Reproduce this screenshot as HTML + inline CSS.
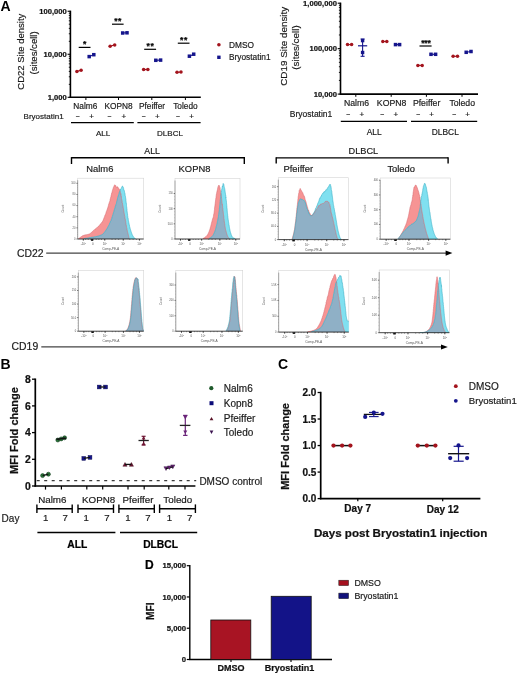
<!DOCTYPE html>
<html><head><meta charset="utf-8"><title>Figure</title>
<style>html,body{margin:0;padding:0;background:#fff;}body{width:520px;height:674px;overflow:hidden;}svg{display:block;}</style>
</head><body>
<svg width="520" height="674" viewBox="0 0 520 674" font-family='"Liberation Sans", Arial, Helvetica, sans-serif'>
<rect x="0" y="0" width="520" height="674" fill="#ffffff"/>
<text x="0.6" y="10.8" font-size="14" font-weight="bold" fill="#000">A</text>
<line x1="70.4" y1="10.65" x2="70.4" y2="98" stroke="#000" stroke-width="1.6"/>
<line x1="67.6" y1="97.3" x2="70.4" y2="97.3" stroke="#000" stroke-width="1.1"/>
<text x="66.8" y="99.9" font-size="7.6" text-anchor="end" font-weight="bold" fill="#111" stroke="#111" stroke-width="0.22">1,000</text>
<line x1="68.8" y1="84.35" x2="70.4" y2="84.35" stroke="#000" stroke-width="0.9"/>
<line x1="68.8" y1="76.77" x2="70.4" y2="76.77" stroke="#000" stroke-width="0.9"/>
<line x1="68.8" y1="71.4" x2="70.4" y2="71.4" stroke="#000" stroke-width="0.9"/>
<line x1="68.8" y1="67.23" x2="70.4" y2="67.23" stroke="#000" stroke-width="0.9"/>
<line x1="68.8" y1="63.82" x2="70.4" y2="63.82" stroke="#000" stroke-width="0.9"/>
<line x1="68.8" y1="60.94" x2="70.4" y2="60.94" stroke="#000" stroke-width="0.9"/>
<line x1="68.8" y1="58.44" x2="70.4" y2="58.44" stroke="#000" stroke-width="0.9"/>
<line x1="68.8" y1="56.24" x2="70.4" y2="56.24" stroke="#000" stroke-width="0.9"/>
<line x1="67.6" y1="54.27" x2="70.4" y2="54.27" stroke="#000" stroke-width="1.1"/>
<text x="66.8" y="56.88" font-size="7.6" text-anchor="end" font-weight="bold" fill="#111" stroke="#111" stroke-width="0.22">10,000</text>
<line x1="68.8" y1="41.32" x2="70.4" y2="41.32" stroke="#000" stroke-width="0.9"/>
<line x1="68.8" y1="33.75" x2="70.4" y2="33.75" stroke="#000" stroke-width="0.9"/>
<line x1="68.8" y1="28.37" x2="70.4" y2="28.37" stroke="#000" stroke-width="0.9"/>
<line x1="68.8" y1="24.2" x2="70.4" y2="24.2" stroke="#000" stroke-width="0.9"/>
<line x1="68.8" y1="20.8" x2="70.4" y2="20.8" stroke="#000" stroke-width="0.9"/>
<line x1="68.8" y1="17.91" x2="70.4" y2="17.91" stroke="#000" stroke-width="0.9"/>
<line x1="68.8" y1="15.42" x2="70.4" y2="15.42" stroke="#000" stroke-width="0.9"/>
<line x1="68.8" y1="13.22" x2="70.4" y2="13.22" stroke="#000" stroke-width="0.9"/>
<line x1="67.6" y1="11.25" x2="70.4" y2="11.25" stroke="#000" stroke-width="1.1"/>
<text x="66.8" y="13.85" font-size="7.6" text-anchor="end" font-weight="bold" fill="#111" stroke="#111" stroke-width="0.22">100,000</text>
<line x1="69.6" y1="97.3" x2="200.8" y2="97.3" stroke="#000" stroke-width="1.6"/>
<line x1="85.9" y1="97.3" x2="85.9" y2="100" stroke="#000" stroke-width="1"/>
<line x1="118.5" y1="97.3" x2="118.5" y2="100" stroke="#000" stroke-width="1"/>
<line x1="151.8" y1="97.3" x2="151.8" y2="100" stroke="#000" stroke-width="1"/>
<line x1="185.4" y1="97.3" x2="185.4" y2="100" stroke="#000" stroke-width="1"/>
<text x="85.3" y="108.7" font-size="8.3" text-anchor="middle" fill="#1a1a1a" stroke="#1a1a1a" stroke-width="0.18">Nalm6</text>
<text x="118.5" y="108.7" font-size="8.3" text-anchor="middle" fill="#1a1a1a" stroke="#1a1a1a" stroke-width="0.18">KOPN8</text>
<text x="152" y="108.7" font-size="8.3" text-anchor="middle" fill="#1a1a1a" stroke="#1a1a1a" stroke-width="0.18">Pfeiffer</text>
<text x="185.4" y="108.7" font-size="8.3" text-anchor="middle" fill="#1a1a1a" stroke="#1a1a1a" stroke-width="0.18">Toledo</text>
<text x="23.6" y="118.6" font-size="8" fill="#1a1a1a" stroke="#1a1a1a" stroke-width="0.18">Bryostatin1</text>
<text x="77.7" y="117.9" font-size="6.2" text-anchor="middle" fill="#1a1a1a" stroke="#1a1a1a" stroke-width="0.18">&#8211;</text>
<text x="91.5" y="118.9" font-size="8" text-anchor="middle" fill="#1a1a1a" stroke="#1a1a1a" stroke-width="0.18">+</text>
<text x="109.6" y="117.9" font-size="6.2" text-anchor="middle" fill="#1a1a1a" stroke="#1a1a1a" stroke-width="0.18">&#8211;</text>
<text x="123.8" y="118.9" font-size="8" text-anchor="middle" fill="#1a1a1a" stroke="#1a1a1a" stroke-width="0.18">+</text>
<text x="143.8" y="117.9" font-size="6.2" text-anchor="middle" fill="#1a1a1a" stroke="#1a1a1a" stroke-width="0.18">&#8211;</text>
<text x="157.4" y="118.9" font-size="8" text-anchor="middle" fill="#1a1a1a" stroke="#1a1a1a" stroke-width="0.18">+</text>
<text x="178" y="117.9" font-size="6.2" text-anchor="middle" fill="#1a1a1a" stroke="#1a1a1a" stroke-width="0.18">&#8211;</text>
<text x="191.5" y="118.9" font-size="8" text-anchor="middle" fill="#1a1a1a" stroke="#1a1a1a" stroke-width="0.18">+</text>
<line x1="71" y1="122.7" x2="133.8" y2="122.7" stroke="#000" stroke-width="1.3"/>
<line x1="137.4" y1="122.7" x2="200.6" y2="122.7" stroke="#000" stroke-width="1.3"/>
<text x="103.1" y="135.7" font-size="8" text-anchor="middle" fill="#1a1a1a" stroke="#1a1a1a" stroke-width="0.18">ALL</text>
<text x="170" y="135.7" font-size="8" text-anchor="middle" fill="#1a1a1a" stroke="#1a1a1a" stroke-width="0.18">DLBCL</text>
<text x="24.2" y="51.7" font-size="9.5" text-anchor="middle" fill="#1a1a1a" stroke="#1a1a1a" stroke-width="0.18" transform="rotate(-90 24.2 51.7)">CD22 Site density</text>
<text x="37" y="52.9" font-size="9.6" text-anchor="middle" fill="#1a1a1a" stroke="#1a1a1a" stroke-width="0.18" transform="rotate(-90 37 52.9)">(sites/cell)</text>
<line x1="76.9" y1="71.4" x2="81.1" y2="70.3" stroke="#a3141d" stroke-width="1.1"/>
<circle cx="76.9" cy="71.4" r="1.75" fill="#a3141d"/>
<circle cx="81.1" cy="70.3" r="1.75" fill="#a3141d"/>
<line x1="89.2" y1="56.6" x2="93.8" y2="54.7" stroke="#15158c" stroke-width="1.1"/>
<rect x="87.45" y="54.85" width="3.5" height="3.5" fill="#15158c"/>
<rect x="92.05" y="52.95" width="3.5" height="3.5" fill="#15158c"/>
<line x1="110.1" y1="46.3" x2="114.7" y2="44.9" stroke="#a3141d" stroke-width="1.1"/>
<circle cx="110.1" cy="46.3" r="1.75" fill="#a3141d"/>
<circle cx="114.7" cy="44.9" r="1.75" fill="#a3141d"/>
<line x1="122.7" y1="33" x2="127" y2="32.8" stroke="#15158c" stroke-width="1.1"/>
<rect x="120.95" y="31.25" width="3.5" height="3.5" fill="#15158c"/>
<rect x="125.25" y="31.05" width="3.5" height="3.5" fill="#15158c"/>
<line x1="143.6" y1="69.6" x2="147.9" y2="69.4" stroke="#a3141d" stroke-width="1.1"/>
<circle cx="143.6" cy="69.6" r="1.75" fill="#a3141d"/>
<circle cx="147.9" cy="69.4" r="1.75" fill="#a3141d"/>
<line x1="155.8" y1="60.3" x2="160.6" y2="60.1" stroke="#15158c" stroke-width="1.1"/>
<rect x="154.05" y="58.55" width="3.5" height="3.5" fill="#15158c"/>
<rect x="158.85" y="58.35" width="3.5" height="3.5" fill="#15158c"/>
<line x1="177" y1="72.3" x2="181" y2="72.1" stroke="#a3141d" stroke-width="1.1"/>
<circle cx="177" cy="72.3" r="1.75" fill="#a3141d"/>
<circle cx="181" cy="72.1" r="1.75" fill="#a3141d"/>
<line x1="189.4" y1="56.2" x2="193.7" y2="54.2" stroke="#15158c" stroke-width="1.1"/>
<rect x="187.65" y="54.45" width="3.5" height="3.5" fill="#15158c"/>
<rect x="191.95" y="52.45" width="3.5" height="3.5" fill="#15158c"/>
<line x1="78.7" y1="47.4" x2="90.5" y2="47.4" stroke="#000" stroke-width="1.2"/>
<text x="84.9" y="47.1" font-size="8.6" text-anchor="middle" font-weight="bold" fill="#000" stroke="#000" stroke-width="0.22" letter-spacing="0.6">*</text>
<line x1="112" y1="24.2" x2="123.6" y2="24.2" stroke="#000" stroke-width="1.2"/>
<text x="118.1" y="23.9" font-size="8.6" text-anchor="middle" font-weight="bold" fill="#000" stroke="#000" stroke-width="0.22" letter-spacing="0.6">**</text>
<line x1="144.2" y1="49.3" x2="156.1" y2="49.3" stroke="#000" stroke-width="1.2"/>
<text x="150.45" y="49" font-size="8.6" text-anchor="middle" font-weight="bold" fill="#000" stroke="#000" stroke-width="0.22" letter-spacing="0.6">**</text>
<line x1="177.8" y1="43.2" x2="189.5" y2="43.2" stroke="#000" stroke-width="1.2"/>
<text x="183.95" y="42.9" font-size="8.6" text-anchor="middle" font-weight="bold" fill="#000" stroke="#000" stroke-width="0.22" letter-spacing="0.6">**</text>
<circle cx="218.9" cy="44.8" r="1.8" fill="#a3141d"/>
<rect x="217.20" y="55.60" width="3.4" height="3.4" fill="#15158c"/>
<text x="229" y="48.3" font-size="8.3" fill="#1a1a1a" stroke="#1a1a1a" stroke-width="0.18">DMSO</text>
<text x="229" y="60" font-size="8.3" fill="#1a1a1a" stroke="#1a1a1a" stroke-width="0.18">Bryostatin1</text>
<line x1="340.5" y1="2.6" x2="340.5" y2="94.8" stroke="#000" stroke-width="1.6"/>
<line x1="337.7" y1="94.1" x2="340.5" y2="94.1" stroke="#000" stroke-width="1.1"/>
<text x="336.9" y="96.7" font-size="7.6" text-anchor="end" font-weight="bold" fill="#111" stroke="#111" stroke-width="0.22">10,000</text>
<line x1="338.9" y1="80.42" x2="340.5" y2="80.42" stroke="#000" stroke-width="0.9"/>
<line x1="338.9" y1="72.41" x2="340.5" y2="72.41" stroke="#000" stroke-width="0.9"/>
<line x1="338.9" y1="66.74" x2="340.5" y2="66.74" stroke="#000" stroke-width="0.9"/>
<line x1="338.9" y1="62.33" x2="340.5" y2="62.33" stroke="#000" stroke-width="0.9"/>
<line x1="338.9" y1="58.73" x2="340.5" y2="58.73" stroke="#000" stroke-width="0.9"/>
<line x1="338.9" y1="55.69" x2="340.5" y2="55.69" stroke="#000" stroke-width="0.9"/>
<line x1="338.9" y1="53.05" x2="340.5" y2="53.05" stroke="#000" stroke-width="0.9"/>
<line x1="338.9" y1="50.73" x2="340.5" y2="50.73" stroke="#000" stroke-width="0.9"/>
<line x1="337.7" y1="48.65" x2="340.5" y2="48.65" stroke="#000" stroke-width="1.1"/>
<text x="336.9" y="51.25" font-size="7.6" text-anchor="end" font-weight="bold" fill="#111" stroke="#111" stroke-width="0.22">100,000</text>
<line x1="338.9" y1="34.97" x2="340.5" y2="34.97" stroke="#000" stroke-width="0.9"/>
<line x1="338.9" y1="26.96" x2="340.5" y2="26.96" stroke="#000" stroke-width="0.9"/>
<line x1="338.9" y1="21.29" x2="340.5" y2="21.29" stroke="#000" stroke-width="0.9"/>
<line x1="338.9" y1="16.88" x2="340.5" y2="16.88" stroke="#000" stroke-width="0.9"/>
<line x1="338.9" y1="13.28" x2="340.5" y2="13.28" stroke="#000" stroke-width="0.9"/>
<line x1="338.9" y1="10.24" x2="340.5" y2="10.24" stroke="#000" stroke-width="0.9"/>
<line x1="338.9" y1="7.6" x2="340.5" y2="7.6" stroke="#000" stroke-width="0.9"/>
<line x1="338.9" y1="5.28" x2="340.5" y2="5.28" stroke="#000" stroke-width="0.9"/>
<line x1="337.7" y1="3.2" x2="340.5" y2="3.2" stroke="#000" stroke-width="1.1"/>
<text x="336.9" y="5.8" font-size="7.6" text-anchor="end" font-weight="bold" fill="#111" stroke="#111" stroke-width="0.22">1,000,000</text>
<line x1="339.7" y1="94.1" x2="478" y2="94.1" stroke="#000" stroke-width="1.6"/>
<line x1="355.8" y1="94.1" x2="355.8" y2="96.8" stroke="#000" stroke-width="1"/>
<line x1="391.2" y1="94.1" x2="391.2" y2="96.8" stroke="#000" stroke-width="1"/>
<line x1="426.4" y1="94.1" x2="426.4" y2="96.8" stroke="#000" stroke-width="1"/>
<line x1="462" y1="94.1" x2="462" y2="96.8" stroke="#000" stroke-width="1"/>
<text x="356.5" y="106.1" font-size="8.7" text-anchor="middle" fill="#1a1a1a" stroke="#1a1a1a" stroke-width="0.18">Nalm6</text>
<text x="391.6" y="106.1" font-size="8.7" text-anchor="middle" fill="#1a1a1a" stroke="#1a1a1a" stroke-width="0.18">KOPN8</text>
<text x="426.6" y="106.1" font-size="8.7" text-anchor="middle" fill="#1a1a1a" stroke="#1a1a1a" stroke-width="0.18">Pfeiffer</text>
<text x="462.2" y="106.1" font-size="8.7" text-anchor="middle" fill="#1a1a1a" stroke="#1a1a1a" stroke-width="0.18">Toledo</text>
<text x="289.8" y="117.4" font-size="8.5" fill="#1a1a1a" stroke="#1a1a1a" stroke-width="0.18">Bryostatin1</text>
<text x="348.3" y="115.9" font-size="6.2" text-anchor="middle" fill="#1a1a1a" stroke="#1a1a1a" stroke-width="0.18">&#8211;</text>
<text x="361.8" y="116.9" font-size="8" text-anchor="middle" fill="#1a1a1a" stroke="#1a1a1a" stroke-width="0.18">+</text>
<text x="382.3" y="115.9" font-size="6.2" text-anchor="middle" fill="#1a1a1a" stroke="#1a1a1a" stroke-width="0.18">&#8211;</text>
<text x="395.8" y="116.9" font-size="8" text-anchor="middle" fill="#1a1a1a" stroke="#1a1a1a" stroke-width="0.18">+</text>
<text x="418.2" y="115.9" font-size="6.2" text-anchor="middle" fill="#1a1a1a" stroke="#1a1a1a" stroke-width="0.18">&#8211;</text>
<text x="431.5" y="116.9" font-size="8" text-anchor="middle" fill="#1a1a1a" stroke="#1a1a1a" stroke-width="0.18">+</text>
<text x="454.2" y="115.9" font-size="6.2" text-anchor="middle" fill="#1a1a1a" stroke="#1a1a1a" stroke-width="0.18">&#8211;</text>
<text x="467.7" y="116.9" font-size="8" text-anchor="middle" fill="#1a1a1a" stroke="#1a1a1a" stroke-width="0.18">+</text>
<line x1="340.8" y1="121.3" x2="407" y2="121.3" stroke="#000" stroke-width="1.3"/>
<line x1="411" y1="121.3" x2="477.2" y2="121.3" stroke="#000" stroke-width="1.3"/>
<text x="374.2" y="134.5" font-size="8.4" text-anchor="middle" fill="#1a1a1a" stroke="#1a1a1a" stroke-width="0.18">ALL</text>
<text x="445.3" y="134.5" font-size="8.4" text-anchor="middle" fill="#1a1a1a" stroke="#1a1a1a" stroke-width="0.18">DLBCL</text>
<text x="287.4" y="46.3" font-size="9.9" text-anchor="middle" fill="#1a1a1a" stroke="#1a1a1a" stroke-width="0.18" transform="rotate(-90 287.4 46.3)">CD19 Site density</text>
<text x="299.4" y="47.5" font-size="9.9" text-anchor="middle" fill="#1a1a1a" stroke="#1a1a1a" stroke-width="0.18" transform="rotate(-90 299.4 47.5)">(sites/cell)</text>
<line x1="347.5" y1="44.6" x2="351.6" y2="44.6" stroke="#a3141d" stroke-width="1.1"/>
<circle cx="347.5" cy="44.6" r="1.75" fill="#a3141d"/>
<circle cx="351.6" cy="44.6" r="1.75" fill="#a3141d"/>
<line x1="362.6" y1="39" x2="362.6" y2="56.3" stroke="#15158c" stroke-width="1.1"/>
<line x1="360.6" y1="39" x2="364.6" y2="39" stroke="#15158c" stroke-width="1.1"/>
<line x1="360.6" y1="56.3" x2="364.6" y2="56.3" stroke="#15158c" stroke-width="1.1"/>
<line x1="358" y1="45.8" x2="367.2" y2="45.8" stroke="#15158c" stroke-width="1.2"/>
<rect x="360.90" y="38.90" width="3.4" height="3.4" fill="#15158c"/>
<rect x="360.90" y="50.80" width="3.4" height="3.4" fill="#15158c"/>
<line x1="382.8" y1="41.5" x2="386.8" y2="41.5" stroke="#a3141d" stroke-width="1.1"/>
<circle cx="382.8" cy="41.5" r="1.75" fill="#a3141d"/>
<circle cx="386.8" cy="41.5" r="1.75" fill="#a3141d"/>
<line x1="395.5" y1="44.6" x2="399.6" y2="44.6" stroke="#15158c" stroke-width="1.1"/>
<rect x="393.75" y="42.85" width="3.5" height="3.5" fill="#15158c"/>
<rect x="397.85" y="42.85" width="3.5" height="3.5" fill="#15158c"/>
<line x1="417.9" y1="65.4" x2="422.2" y2="65.4" stroke="#a3141d" stroke-width="1.1"/>
<circle cx="417.9" cy="65.4" r="1.75" fill="#a3141d"/>
<circle cx="422.2" cy="65.4" r="1.75" fill="#a3141d"/>
<line x1="431" y1="54.3" x2="435.6" y2="54.3" stroke="#15158c" stroke-width="1.1"/>
<rect x="429.25" y="52.55" width="3.5" height="3.5" fill="#15158c"/>
<rect x="433.85" y="52.55" width="3.5" height="3.5" fill="#15158c"/>
<line x1="453.1" y1="56.3" x2="457.5" y2="56.3" stroke="#a3141d" stroke-width="1.1"/>
<circle cx="453.1" cy="56.3" r="1.75" fill="#a3141d"/>
<circle cx="457.5" cy="56.3" r="1.75" fill="#a3141d"/>
<line x1="466.2" y1="52.3" x2="471" y2="51.5" stroke="#15158c" stroke-width="1.1"/>
<rect x="464.45" y="50.55" width="3.5" height="3.5" fill="#15158c"/>
<rect x="469.25" y="49.75" width="3.5" height="3.5" fill="#15158c"/>
<line x1="419.5" y1="46" x2="431.6" y2="46" stroke="#000" stroke-width="1.2"/>
<text x="425.9" y="45.5" font-size="8.6" text-anchor="middle" font-weight="bold" fill="#000" stroke="#000" stroke-width="0.22" letter-spacing="-0.2">***</text>
<line x1="71.5" y1="157.8" x2="244.3" y2="157.8" stroke="#000" stroke-width="1.4"/>
<line x1="71.5" y1="157.1" x2="71.5" y2="164" stroke="#000" stroke-width="1.4"/>
<line x1="244.3" y1="157.1" x2="244.3" y2="164" stroke="#000" stroke-width="1.4"/>
<text x="152.2" y="153.6" font-size="8.8" text-anchor="middle" fill="#1a1a1a" stroke="#1a1a1a" stroke-width="0.18">ALL</text>
<line x1="276.2" y1="157.9" x2="448.1" y2="157.9" stroke="#000" stroke-width="1.4"/>
<line x1="276.2" y1="157.2" x2="276.2" y2="163.6" stroke="#000" stroke-width="1.4"/>
<line x1="448.1" y1="157.2" x2="448.1" y2="163.6" stroke="#000" stroke-width="1.4"/>
<text x="363.4" y="154.4" font-size="9.2" text-anchor="middle" fill="#1a1a1a" stroke="#1a1a1a" stroke-width="0.18">DLBCL</text>
<text x="86.3" y="172.4" font-size="9.4" fill="#1a1a1a" stroke="#1a1a1a" stroke-width="0.18">Nalm6</text>
<text x="178.6" y="172.4" font-size="9.4" fill="#1a1a1a" stroke="#1a1a1a" stroke-width="0.18">KOPN8</text>
<text x="283.5" y="172.4" font-size="9.4" fill="#1a1a1a" stroke="#1a1a1a" stroke-width="0.18">Pfeiffer</text>
<text x="387.4" y="172.4" font-size="9.4" fill="#1a1a1a" stroke="#1a1a1a" stroke-width="0.18">Toledo</text>
<rect x="77.7" y="178.2" width="66" height="60.8" fill="#fff" stroke="#d4d4d4" stroke-width="0.6"/>
<clipPath id="bx1"><rect x="77.7" y="178.2" width="66" height="60.8"/></clipPath>
<clipPath id="rc1"><path d="M78.70,239.00 L78.7,238.6 L79.2,238.2 L79.9,237.7 L80.8,237.0 L81.5,236.5 L82.1,236.1 L82.6,235.8 L83.2,235.6 L84.0,235.2 L84.6,235.1 L85.2,234.9 L85.9,234.8 L86.7,234.7 L87.4,234.5 L88.2,234.4 L88.9,234.1 L89.5,233.9 L90.2,233.4 L90.8,233.0 L91.3,232.6 L91.9,232.2 L92.4,231.5 L92.9,230.9 L93.5,230.4 L94.1,230.2 L94.7,229.4 L95.3,229.0 L95.9,228.5 L96.5,228.1 L97.0,227.5 L97.5,227.2 L98.1,226.6 L98.7,226.1 L99.2,225.8 L99.7,225.1 L100.2,224.3 L100.6,223.8 L101.0,223.7 L101.4,223.0 L101.8,222.3 L102.2,222.1 L102.6,221.2 L103.0,220.5 L103.3,220.1 L103.5,219.1 L103.8,218.4 L104.1,218.1 L104.3,216.9 L104.6,216.6 L104.9,215.4 L105.1,215.1 L105.4,214.5 L105.6,214.1 L105.9,213.3 L106.1,212.3 L106.4,211.4 L106.6,210.7 L106.9,210.4 L107.1,209.7 L107.4,208.6 L107.6,208.7 L107.8,207.6 L108.0,207.1 L108.3,205.9 L108.5,205.2 L108.7,204.2 L108.9,203.8 L109.1,203.0 L109.4,202.3 L109.6,201.5 L109.8,201.3 L110.0,200.6 L110.2,199.1 L110.4,198.6 L110.6,197.6 L110.7,197.3 L110.9,196.9 L111.1,195.3 L111.3,195.2 L111.5,194.0 L111.7,193.0 L111.9,193.0 L112.2,191.6 L112.4,190.6 L112.6,190.1 L112.9,189.1 L113.1,188.5 L113.3,187.9 L113.5,187.2 L113.7,186.9 L114.4,185.2 L115.0,184.8 L115.5,185.3 L116.0,186.3 L116.4,187.4 L117.0,186.8 L117.5,186.8 L117.9,187.0 L118.3,188.1 L118.8,189.3 L119.1,188.8 L119.4,189.2 L119.7,189.9 L120.0,190.9 L120.4,192.3 L120.5,193.0 L120.6,193.1 L120.8,194.3 L120.9,193.9 L121.0,195.5 L121.1,195.5 L121.3,196.9 L121.4,196.7 L121.5,198.5 L121.7,199.1 L121.8,200.2 L122.0,200.5 L122.1,200.9 L122.2,202.7 L122.4,202.9 L122.5,203.2 L122.6,204.4 L122.7,204.9 L122.9,205.6 L123.0,206.0 L123.1,206.7 L123.2,207.9 L123.4,208.5 L123.5,208.9 L123.6,210.0 L123.8,211.0 L123.9,211.8 L124.0,212.3 L124.1,213.0 L124.3,213.7 L124.4,214.3 L124.5,215.0 L124.6,215.9 L124.8,216.4 L124.9,217.5 L125.0,218.1 L125.1,218.9 L125.3,219.2 L125.4,220.2 L125.5,221.0 L125.7,221.6 L125.8,222.8 L125.9,223.4 L126.0,223.9 L126.1,224.7 L126.3,225.2 L126.4,225.9 L126.5,226.7 L126.6,227.4 L126.7,228.0 L126.9,228.4 L127.0,229.2 L127.1,229.9 L127.3,230.7 L127.5,231.6 L127.7,232.5 L127.9,233.2 L128.1,234.1 L128.3,234.9 L128.5,235.8 L128.7,236.4 L128.8,237.1 L129.0,237.7 L129.1,238.2 L129.2,238.6 L129.20,239.00 Z"/></clipPath>
<g clip-path="url(#bx1)">
<path d="M78.70,239.00 L78.7,238.6 L79.2,238.2 L79.9,237.7 L80.8,237.0 L81.5,236.5 L82.1,236.1 L82.6,235.8 L83.2,235.6 L84.0,235.2 L84.6,235.1 L85.2,234.9 L85.9,234.8 L86.7,234.7 L87.4,234.5 L88.2,234.4 L88.9,234.1 L89.5,233.9 L90.2,233.4 L90.8,233.0 L91.3,232.6 L91.9,232.2 L92.4,231.5 L92.9,230.9 L93.5,230.4 L94.1,230.2 L94.7,229.4 L95.3,229.0 L95.9,228.5 L96.5,228.1 L97.0,227.5 L97.5,227.2 L98.1,226.6 L98.7,226.1 L99.2,225.8 L99.7,225.1 L100.2,224.3 L100.6,223.8 L101.0,223.7 L101.4,223.0 L101.8,222.3 L102.2,222.1 L102.6,221.2 L103.0,220.5 L103.3,220.1 L103.5,219.1 L103.8,218.4 L104.1,218.1 L104.3,216.9 L104.6,216.6 L104.9,215.4 L105.1,215.1 L105.4,214.5 L105.6,214.1 L105.9,213.3 L106.1,212.3 L106.4,211.4 L106.6,210.7 L106.9,210.4 L107.1,209.7 L107.4,208.6 L107.6,208.7 L107.8,207.6 L108.0,207.1 L108.3,205.9 L108.5,205.2 L108.7,204.2 L108.9,203.8 L109.1,203.0 L109.4,202.3 L109.6,201.5 L109.8,201.3 L110.0,200.6 L110.2,199.1 L110.4,198.6 L110.6,197.6 L110.7,197.3 L110.9,196.9 L111.1,195.3 L111.3,195.2 L111.5,194.0 L111.7,193.0 L111.9,193.0 L112.2,191.6 L112.4,190.6 L112.6,190.1 L112.9,189.1 L113.1,188.5 L113.3,187.9 L113.5,187.2 L113.7,186.9 L114.4,185.2 L115.0,184.8 L115.5,185.3 L116.0,186.3 L116.4,187.4 L117.0,186.8 L117.5,186.8 L117.9,187.0 L118.3,188.1 L118.8,189.3 L119.1,188.8 L119.4,189.2 L119.7,189.9 L120.0,190.9 L120.4,192.3 L120.5,193.0 L120.6,193.1 L120.8,194.3 L120.9,193.9 L121.0,195.5 L121.1,195.5 L121.3,196.9 L121.4,196.7 L121.5,198.5 L121.7,199.1 L121.8,200.2 L122.0,200.5 L122.1,200.9 L122.2,202.7 L122.4,202.9 L122.5,203.2 L122.6,204.4 L122.7,204.9 L122.9,205.6 L123.0,206.0 L123.1,206.7 L123.2,207.9 L123.4,208.5 L123.5,208.9 L123.6,210.0 L123.8,211.0 L123.9,211.8 L124.0,212.3 L124.1,213.0 L124.3,213.7 L124.4,214.3 L124.5,215.0 L124.6,215.9 L124.8,216.4 L124.9,217.5 L125.0,218.1 L125.1,218.9 L125.3,219.2 L125.4,220.2 L125.5,221.0 L125.7,221.6 L125.8,222.8 L125.9,223.4 L126.0,223.9 L126.1,224.7 L126.3,225.2 L126.4,225.9 L126.5,226.7 L126.6,227.4 L126.7,228.0 L126.9,228.4 L127.0,229.2 L127.1,229.9 L127.3,230.7 L127.5,231.6 L127.7,232.5 L127.9,233.2 L128.1,234.1 L128.3,234.9 L128.5,235.8 L128.7,236.4 L128.8,237.1 L129.0,237.7 L129.1,238.2 L129.2,238.6 L129.20,239.00 Z" fill="#f69494"/>
<path d="M84.00,239.00 L84.0,238.6 L84.5,238.5 L85.1,238.4 L85.8,238.3 L86.6,238.2 L87.5,238.0 L88.4,237.9 L89.2,237.7 L90.0,237.6 L90.8,237.5 L91.5,237.3 L92.3,237.2 L93.1,237.1 L93.9,237.0 L94.6,236.8 L95.3,236.8 L96.0,236.6 L96.9,236.4 L97.8,236.1 L98.6,235.9 L99.3,235.7 L100.0,235.4 L100.8,235.2 L101.5,234.9 L102.2,234.6 L103.0,234.0 L103.4,233.6 L103.8,233.0 L104.3,232.4 L104.7,231.8 L105.2,231.2 L105.6,230.8 L106.1,229.9 L106.6,229.2 L107.0,228.6 L107.3,227.9 L107.7,227.3 L108.0,226.7 L108.4,225.9 L108.7,225.4 L109.1,224.9 L109.4,223.8 L109.7,223.2 L110.1,222.5 L110.4,221.6 L110.7,221.1 L111.0,220.6 L111.2,219.9 L111.5,219.1 L111.7,218.7 L111.9,217.5 L112.2,217.1 L112.4,216.3 L112.6,215.8 L112.8,214.7 L113.0,214.5 L113.2,213.3 L113.4,212.7 L113.6,212.6 L113.8,212.0 L114.0,210.9 L114.2,210.1 L114.5,209.2 L114.7,208.5 L114.9,208.1 L115.2,206.9 L115.4,206.1 L115.6,205.7 L115.8,204.7 L116.0,204.5 L116.2,204.0 L116.4,203.3 L116.6,202.2 L116.8,201.3 L117.0,200.7 L117.2,199.5 L117.4,199.5 L117.5,198.4 L117.7,197.7 L117.9,196.8 L118.0,196.5 L118.2,196.1 L118.5,195.0 L118.7,194.6 L119.0,193.6 L119.2,192.4 L119.4,192.1 L119.6,192.0 L120.0,190.7 L120.3,190.1 L120.6,189.0 L121.1,188.7 L121.5,188.0 L121.8,187.1 L122.1,186.3 L122.4,186.1 L122.7,186.3 L123.0,187.0 L123.4,187.6 L123.6,188.5 L123.8,189.8 L124.0,189.9 L124.2,190.3 L124.4,191.1 L124.6,192.5 L124.7,192.6 L124.9,193.1 L125.0,193.7 L125.1,194.6 L125.2,195.7 L125.3,195.9 L125.5,196.6 L125.6,197.6 L125.8,198.9 L125.9,199.3 L125.9,200.2 L126.0,201.0 L126.1,201.4 L126.1,201.7 L126.2,202.6 L126.3,203.6 L126.4,203.5 L126.5,204.4 L126.5,205.6 L126.6,206.4 L126.7,207.1 L126.8,207.9 L126.9,208.9 L127.0,209.3 L127.0,210.4 L127.1,211.4 L127.2,211.6 L127.3,212.8 L127.4,213.4 L127.5,214.2 L127.6,214.2 L127.6,215.5 L127.7,216.0 L127.8,216.7 L127.9,217.7 L128.1,218.0 L128.2,219.1 L128.3,219.6 L128.4,220.6 L128.6,221.5 L128.7,221.8 L128.8,222.5 L128.9,223.0 L129.1,223.7 L129.2,224.4 L129.4,225.0 L129.5,226.0 L129.6,226.5 L129.8,227.0 L130.0,227.9 L130.2,228.6 L130.4,229.3 L130.6,230.1 L130.9,230.9 L131.1,231.6 L131.3,232.2 L131.6,232.9 L131.8,233.6 L132.0,234.2 L132.3,234.7 L132.5,235.2 L133.0,236.1 L133.5,236.8 L134.0,237.4 L134.5,237.9 L134.9,238.3 L135.2,238.6 L135.20,239.00 Z" fill="#80e0f0"/>
<path d="M84.00,239.00 L84.0,238.6 L84.5,238.5 L85.1,238.4 L85.8,238.3 L86.6,238.2 L87.5,238.0 L88.4,237.9 L89.2,237.7 L90.0,237.6 L90.8,237.5 L91.5,237.3 L92.3,237.2 L93.1,237.1 L93.9,237.0 L94.6,236.8 L95.3,236.8 L96.0,236.6 L96.9,236.4 L97.8,236.1 L98.6,235.9 L99.3,235.7 L100.0,235.4 L100.8,235.2 L101.5,234.9 L102.2,234.6 L103.0,234.0 L103.4,233.6 L103.8,233.0 L104.3,232.4 L104.7,231.8 L105.2,231.2 L105.6,230.8 L106.1,229.9 L106.6,229.2 L107.0,228.6 L107.3,227.9 L107.7,227.3 L108.0,226.7 L108.4,225.9 L108.7,225.4 L109.1,224.9 L109.4,223.8 L109.7,223.2 L110.1,222.5 L110.4,221.6 L110.7,221.1 L111.0,220.6 L111.2,219.9 L111.5,219.1 L111.7,218.7 L111.9,217.5 L112.2,217.1 L112.4,216.3 L112.6,215.8 L112.8,214.7 L113.0,214.5 L113.2,213.3 L113.4,212.7 L113.6,212.6 L113.8,212.0 L114.0,210.9 L114.2,210.1 L114.5,209.2 L114.7,208.5 L114.9,208.1 L115.2,206.9 L115.4,206.1 L115.6,205.7 L115.8,204.7 L116.0,204.5 L116.2,204.0 L116.4,203.3 L116.6,202.2 L116.8,201.3 L117.0,200.7 L117.2,199.5 L117.4,199.5 L117.5,198.4 L117.7,197.7 L117.9,196.8 L118.0,196.5 L118.2,196.1 L118.5,195.0 L118.7,194.6 L119.0,193.6 L119.2,192.4 L119.4,192.1 L119.6,192.0 L120.0,190.7 L120.3,190.1 L120.6,189.0 L121.1,188.7 L121.5,188.0 L121.8,187.1 L122.1,186.3 L122.4,186.1 L122.7,186.3 L123.0,187.0 L123.4,187.6 L123.6,188.5 L123.8,189.8 L124.0,189.9 L124.2,190.3 L124.4,191.1 L124.6,192.5 L124.7,192.6 L124.9,193.1 L125.0,193.7 L125.1,194.6 L125.2,195.7 L125.3,195.9 L125.5,196.6 L125.6,197.6 L125.8,198.9 L125.9,199.3 L125.9,200.2 L126.0,201.0 L126.1,201.4 L126.1,201.7 L126.2,202.6 L126.3,203.6 L126.4,203.5 L126.5,204.4 L126.5,205.6 L126.6,206.4 L126.7,207.1 L126.8,207.9 L126.9,208.9 L127.0,209.3 L127.0,210.4 L127.1,211.4 L127.2,211.6 L127.3,212.8 L127.4,213.4 L127.5,214.2 L127.6,214.2 L127.6,215.5 L127.7,216.0 L127.8,216.7 L127.9,217.7 L128.1,218.0 L128.2,219.1 L128.3,219.6 L128.4,220.6 L128.6,221.5 L128.7,221.8 L128.8,222.5 L128.9,223.0 L129.1,223.7 L129.2,224.4 L129.4,225.0 L129.5,226.0 L129.6,226.5 L129.8,227.0 L130.0,227.9 L130.2,228.6 L130.4,229.3 L130.6,230.1 L130.9,230.9 L131.1,231.6 L131.3,232.2 L131.6,232.9 L131.8,233.6 L132.0,234.2 L132.3,234.7 L132.5,235.2 L133.0,236.1 L133.5,236.8 L134.0,237.4 L134.5,237.9 L134.9,238.3 L135.2,238.6 L135.20,239.00 Z" fill="#8fb0c6" clip-path="url(#rc1)"/>
<path d="M78.70,239.00 L78.7,238.6 L79.2,238.2 L79.9,237.7 L80.8,237.0 L81.5,236.5 L82.1,236.1 L82.6,235.8 L83.2,235.6 L84.0,235.2 L84.6,235.1 L85.2,234.9 L85.9,234.8 L86.7,234.7 L87.4,234.5 L88.2,234.4 L88.9,234.1 L89.5,233.9 L90.2,233.4 L90.8,233.0 L91.3,232.6 L91.9,232.2 L92.4,231.5 L92.9,230.9 L93.5,230.4 L94.1,230.2 L94.7,229.4 L95.3,229.0 L95.9,228.5 L96.5,228.1 L97.0,227.5 L97.5,227.2 L98.1,226.6 L98.7,226.1 L99.2,225.8 L99.7,225.1 L100.2,224.3 L100.6,223.8 L101.0,223.7 L101.4,223.0 L101.8,222.3 L102.2,222.1 L102.6,221.2 L103.0,220.5 L103.3,220.1 L103.5,219.1 L103.8,218.4 L104.1,218.1 L104.3,216.9 L104.6,216.6 L104.9,215.4 L105.1,215.1 L105.4,214.5 L105.6,214.1 L105.9,213.3 L106.1,212.3 L106.4,211.4 L106.6,210.7 L106.9,210.4 L107.1,209.7 L107.4,208.6 L107.6,208.7 L107.8,207.6 L108.0,207.1 L108.3,205.9 L108.5,205.2 L108.7,204.2 L108.9,203.8 L109.1,203.0 L109.4,202.3 L109.6,201.5 L109.8,201.3 L110.0,200.6 L110.2,199.1 L110.4,198.6 L110.6,197.6 L110.7,197.3 L110.9,196.9 L111.1,195.3 L111.3,195.2 L111.5,194.0 L111.7,193.0 L111.9,193.0 L112.2,191.6 L112.4,190.6 L112.6,190.1 L112.9,189.1 L113.1,188.5 L113.3,187.9 L113.5,187.2 L113.7,186.9 L114.4,185.2 L115.0,184.8 L115.5,185.3 L116.0,186.3 L116.4,187.4 L117.0,186.8 L117.5,186.8 L117.9,187.0 L118.3,188.1 L118.8,189.3 L119.1,188.8 L119.4,189.2 L119.7,189.9 L120.0,190.9 L120.4,192.3 L120.5,193.0 L120.6,193.1 L120.8,194.3 L120.9,193.9 L121.0,195.5 L121.1,195.5 L121.3,196.9 L121.4,196.7 L121.5,198.5 L121.7,199.1 L121.8,200.2 L122.0,200.5 L122.1,200.9 L122.2,202.7 L122.4,202.9 L122.5,203.2 L122.6,204.4 L122.7,204.9 L122.9,205.6 L123.0,206.0 L123.1,206.7 L123.2,207.9 L123.4,208.5 L123.5,208.9 L123.6,210.0 L123.8,211.0 L123.9,211.8 L124.0,212.3 L124.1,213.0 L124.3,213.7 L124.4,214.3 L124.5,215.0 L124.6,215.9 L124.8,216.4 L124.9,217.5 L125.0,218.1 L125.1,218.9 L125.3,219.2 L125.4,220.2 L125.5,221.0 L125.7,221.6 L125.8,222.8 L125.9,223.4 L126.0,223.9 L126.1,224.7 L126.3,225.2 L126.4,225.9 L126.5,226.7 L126.6,227.4 L126.7,228.0 L126.9,228.4 L127.0,229.2 L127.1,229.9 L127.3,230.7 L127.5,231.6 L127.7,232.5 L127.9,233.2 L128.1,234.1 L128.3,234.9 L128.5,235.8 L128.7,236.4 L128.8,237.1 L129.0,237.7 L129.1,238.2 L129.2,238.6 L129.20,239.00 Z" fill="none" stroke="#d86a72" stroke-width="0.55"/>
<path d="M84.00,239.00 L84.0,238.6 L84.5,238.5 L85.1,238.4 L85.8,238.3 L86.6,238.2 L87.5,238.0 L88.4,237.9 L89.2,237.7 L90.0,237.6 L90.8,237.5 L91.5,237.3 L92.3,237.2 L93.1,237.1 L93.9,237.0 L94.6,236.8 L95.3,236.8 L96.0,236.6 L96.9,236.4 L97.8,236.1 L98.6,235.9 L99.3,235.7 L100.0,235.4 L100.8,235.2 L101.5,234.9 L102.2,234.6 L103.0,234.0 L103.4,233.6 L103.8,233.0 L104.3,232.4 L104.7,231.8 L105.2,231.2 L105.6,230.8 L106.1,229.9 L106.6,229.2 L107.0,228.6 L107.3,227.9 L107.7,227.3 L108.0,226.7 L108.4,225.9 L108.7,225.4 L109.1,224.9 L109.4,223.8 L109.7,223.2 L110.1,222.5 L110.4,221.6 L110.7,221.1 L111.0,220.6 L111.2,219.9 L111.5,219.1 L111.7,218.7 L111.9,217.5 L112.2,217.1 L112.4,216.3 L112.6,215.8 L112.8,214.7 L113.0,214.5 L113.2,213.3 L113.4,212.7 L113.6,212.6 L113.8,212.0 L114.0,210.9 L114.2,210.1 L114.5,209.2 L114.7,208.5 L114.9,208.1 L115.2,206.9 L115.4,206.1 L115.6,205.7 L115.8,204.7 L116.0,204.5 L116.2,204.0 L116.4,203.3 L116.6,202.2 L116.8,201.3 L117.0,200.7 L117.2,199.5 L117.4,199.5 L117.5,198.4 L117.7,197.7 L117.9,196.8 L118.0,196.5 L118.2,196.1 L118.5,195.0 L118.7,194.6 L119.0,193.6 L119.2,192.4 L119.4,192.1 L119.6,192.0 L120.0,190.7 L120.3,190.1 L120.6,189.0 L121.1,188.7 L121.5,188.0 L121.8,187.1 L122.1,186.3 L122.4,186.1 L122.7,186.3 L123.0,187.0 L123.4,187.6 L123.6,188.5 L123.8,189.8 L124.0,189.9 L124.2,190.3 L124.4,191.1 L124.6,192.5 L124.7,192.6 L124.9,193.1 L125.0,193.7 L125.1,194.6 L125.2,195.7 L125.3,195.9 L125.5,196.6 L125.6,197.6 L125.8,198.9 L125.9,199.3 L125.9,200.2 L126.0,201.0 L126.1,201.4 L126.1,201.7 L126.2,202.6 L126.3,203.6 L126.4,203.5 L126.5,204.4 L126.5,205.6 L126.6,206.4 L126.7,207.1 L126.8,207.9 L126.9,208.9 L127.0,209.3 L127.0,210.4 L127.1,211.4 L127.2,211.6 L127.3,212.8 L127.4,213.4 L127.5,214.2 L127.6,214.2 L127.6,215.5 L127.7,216.0 L127.8,216.7 L127.9,217.7 L128.1,218.0 L128.2,219.1 L128.3,219.6 L128.4,220.6 L128.6,221.5 L128.7,221.8 L128.8,222.5 L128.9,223.0 L129.1,223.7 L129.2,224.4 L129.4,225.0 L129.5,226.0 L129.6,226.5 L129.8,227.0 L130.0,227.9 L130.2,228.6 L130.4,229.3 L130.6,230.1 L130.9,230.9 L131.1,231.6 L131.3,232.2 L131.6,232.9 L131.8,233.6 L132.0,234.2 L132.3,234.7 L132.5,235.2 L133.0,236.1 L133.5,236.8 L134.0,237.4 L134.5,237.9 L134.9,238.3 L135.2,238.6 L135.20,239.00 Z" fill="none" stroke="#36aec4" stroke-width="0.55"/>
</g>
<line x1="77.7" y1="180.2" x2="77.7" y2="239" stroke="#777" stroke-width="0.6"/>
<line x1="76.4" y1="239" x2="77.7" y2="239" stroke="#444" stroke-width="0.7"/>
<text x="75.5" y="239.9" font-size="2.6" text-anchor="end" fill="#555">0</text>
<line x1="77" y1="236.77" x2="77.7" y2="236.77" stroke="#888" stroke-width="0.4"/>
<line x1="77" y1="234.54" x2="77.7" y2="234.54" stroke="#888" stroke-width="0.4"/>
<line x1="77" y1="232.32" x2="77.7" y2="232.32" stroke="#888" stroke-width="0.4"/>
<line x1="77" y1="230.09" x2="77.7" y2="230.09" stroke="#888" stroke-width="0.4"/>
<line x1="76.4" y1="227.86" x2="77.7" y2="227.86" stroke="#444" stroke-width="0.7"/>
<text x="75.5" y="228.76" font-size="2.6" text-anchor="end" fill="#555">20</text>
<line x1="77" y1="225.63" x2="77.7" y2="225.63" stroke="#888" stroke-width="0.4"/>
<line x1="77" y1="223.4" x2="77.7" y2="223.4" stroke="#888" stroke-width="0.4"/>
<line x1="77" y1="221.18" x2="77.7" y2="221.18" stroke="#888" stroke-width="0.4"/>
<line x1="77" y1="218.95" x2="77.7" y2="218.95" stroke="#888" stroke-width="0.4"/>
<line x1="76.4" y1="216.72" x2="77.7" y2="216.72" stroke="#444" stroke-width="0.7"/>
<text x="75.5" y="217.62" font-size="2.6" text-anchor="end" fill="#555">40</text>
<line x1="77" y1="214.49" x2="77.7" y2="214.49" stroke="#888" stroke-width="0.4"/>
<line x1="77" y1="212.26" x2="77.7" y2="212.26" stroke="#888" stroke-width="0.4"/>
<line x1="77" y1="210.04" x2="77.7" y2="210.04" stroke="#888" stroke-width="0.4"/>
<line x1="77" y1="207.81" x2="77.7" y2="207.81" stroke="#888" stroke-width="0.4"/>
<line x1="76.4" y1="205.58" x2="77.7" y2="205.58" stroke="#444" stroke-width="0.7"/>
<text x="75.5" y="206.48" font-size="2.6" text-anchor="end" fill="#555">60</text>
<line x1="77" y1="203.35" x2="77.7" y2="203.35" stroke="#888" stroke-width="0.4"/>
<line x1="77" y1="201.12" x2="77.7" y2="201.12" stroke="#888" stroke-width="0.4"/>
<line x1="77" y1="198.9" x2="77.7" y2="198.9" stroke="#888" stroke-width="0.4"/>
<line x1="77" y1="196.67" x2="77.7" y2="196.67" stroke="#888" stroke-width="0.4"/>
<line x1="76.4" y1="194.44" x2="77.7" y2="194.44" stroke="#444" stroke-width="0.7"/>
<text x="75.5" y="195.34" font-size="2.6" text-anchor="end" fill="#555">80</text>
<line x1="77" y1="192.21" x2="77.7" y2="192.21" stroke="#888" stroke-width="0.4"/>
<line x1="77" y1="189.98" x2="77.7" y2="189.98" stroke="#888" stroke-width="0.4"/>
<line x1="77" y1="187.76" x2="77.7" y2="187.76" stroke="#888" stroke-width="0.4"/>
<line x1="77" y1="185.53" x2="77.7" y2="185.53" stroke="#888" stroke-width="0.4"/>
<line x1="76.4" y1="183.3" x2="77.7" y2="183.3" stroke="#444" stroke-width="0.7"/>
<text x="75.5" y="184.2" font-size="2.6" text-anchor="end" fill="#555">100</text>
<text x="63.7" y="208.6" font-size="3" text-anchor="middle" fill="#666" transform="rotate(-90 63.7 208.6)">Count</text>
<line x1="77.7" y1="239" x2="143.7" y2="239" stroke="#222" stroke-width="0.8"/>
<line x1="83.31" y1="239" x2="83.31" y2="240.6" stroke="#111" stroke-width="0.8"/>
<text x="83.31" y="245" font-size="2.9" text-anchor="middle" fill="#555">-10<tspan font-size="1.8" dy="-1">3</tspan></text>
<line x1="92.88" y1="239" x2="92.88" y2="240.6" stroke="#111" stroke-width="0.8"/>
<text x="92.88" y="245" font-size="2.9" text-anchor="middle" fill="#555">0</text>
<line x1="104.76" y1="239" x2="104.76" y2="240.6" stroke="#111" stroke-width="0.8"/>
<text x="104.76" y="245" font-size="2.9" text-anchor="middle" fill="#555">10<tspan font-size="1.8" dy="-1">3</tspan></text>
<line x1="123.24" y1="239" x2="123.24" y2="240.6" stroke="#111" stroke-width="0.8"/>
<text x="123.24" y="245" font-size="2.9" text-anchor="middle" fill="#555">10<tspan font-size="1.8" dy="-1">4</tspan></text>
<line x1="139.41" y1="239" x2="139.41" y2="240.6" stroke="#111" stroke-width="0.8"/>
<text x="139.41" y="245" font-size="2.9" text-anchor="middle" fill="#555">10<tspan font-size="1.8" dy="-1">5</tspan></text>
<line x1="85.62" y1="239" x2="85.62" y2="240" stroke="#333" stroke-width="0.5"/>
<line x1="88.26" y1="239" x2="88.26" y2="240" stroke="#333" stroke-width="0.5"/>
<line x1="90.9" y1="239" x2="90.9" y2="240" stroke="#333" stroke-width="0.5"/>
<line x1="96.18" y1="239" x2="96.18" y2="240" stroke="#333" stroke-width="0.5"/>
<line x1="98.82" y1="239" x2="98.82" y2="240" stroke="#333" stroke-width="0.5"/>
<line x1="101.46" y1="239" x2="101.46" y2="240" stroke="#333" stroke-width="0.5"/>
<line x1="112.02" y1="239" x2="112.02" y2="240" stroke="#333" stroke-width="0.5"/>
<line x1="115.32" y1="239" x2="115.32" y2="240" stroke="#333" stroke-width="0.5"/>
<line x1="118.62" y1="239" x2="118.62" y2="240" stroke="#333" stroke-width="0.5"/>
<line x1="129.84" y1="239" x2="129.84" y2="240" stroke="#333" stroke-width="0.5"/>
<line x1="133.14" y1="239" x2="133.14" y2="240" stroke="#333" stroke-width="0.5"/>
<line x1="136.44" y1="239" x2="136.44" y2="240" stroke="#333" stroke-width="0.5"/>
<rect x="90.9" y="239.2" width="2.2" height="1.6" fill="#111"/>
<text x="110.7" y="250" font-size="3.2" text-anchor="middle" fill="#555">Comp-PE-A</text>
<rect x="175" y="178.5" width="65" height="60.5" fill="#fff" stroke="#d4d4d4" stroke-width="0.6"/>
<clipPath id="bx2"><rect x="175" y="178.5" width="65" height="60.5"/></clipPath>
<clipPath id="rc2"><path d="M203.00,239.00 L203.0,238.6 L203.4,238.3 L204.0,238.0 L204.7,237.6 L205.4,237.0 L206.0,236.5 L206.5,236.0 L206.9,235.6 L207.3,235.0 L207.7,234.5 L208.1,233.8 L208.5,232.9 L208.7,232.4 L209.0,231.9 L209.2,231.2 L209.4,230.5 L209.7,229.8 L209.9,229.3 L210.1,228.6 L210.3,227.8 L210.5,226.9 L210.7,226.5 L210.9,225.6 L211.1,224.8 L211.3,224.2 L211.4,223.4 L211.6,222.5 L211.8,222.0 L212.0,221.2 L212.1,220.7 L212.3,220.3 L212.5,219.3 L212.7,218.5 L212.9,218.2 L213.1,217.7 L213.3,216.7 L213.5,216.3 L213.7,214.6 L213.8,214.1 L213.9,213.6 L214.0,213.5 L214.1,212.6 L214.2,212.0 L214.3,210.8 L214.4,210.2 L214.5,209.9 L214.5,208.3 L214.6,207.5 L214.7,206.7 L214.8,206.4 L214.9,206.1 L215.0,205.1 L215.1,204.1 L215.2,203.4 L215.3,202.3 L215.4,202.3 L215.5,200.9 L215.6,200.0 L215.7,199.3 L215.8,199.2 L215.9,197.9 L216.0,197.8 L216.1,196.5 L216.2,195.9 L216.3,194.7 L216.5,194.9 L216.6,194.0 L216.7,192.8 L216.9,191.7 L217.0,191.4 L217.1,190.6 L217.3,190.5 L217.4,190.0 L217.5,189.3 L217.8,187.7 L218.0,186.6 L218.3,186.9 L218.5,186.5 L218.8,185.0 L219.1,185.4 L219.4,185.9 L219.7,187.2 L220.0,187.5 L220.1,188.1 L220.2,189.6 L220.4,190.0 L220.5,190.6 L220.6,191.8 L220.7,192.4 L220.9,193.3 L221.0,193.7 L221.1,194.3 L221.2,195.0 L221.3,196.0 L221.4,197.1 L221.5,197.6 L221.6,198.3 L221.7,199.3 L221.7,200.2 L221.8,200.8 L221.9,201.3 L222.0,202.6 L222.1,203.3 L222.2,204.2 L222.3,204.9 L222.4,204.6 L222.5,206.1 L222.6,206.5 L222.6,207.2 L222.7,208.1 L222.8,208.4 L222.9,209.3 L223.0,210.7 L223.1,210.8 L223.2,212.1 L223.3,212.6 L223.3,213.0 L223.4,213.7 L223.5,214.6 L223.6,215.4 L223.7,215.9 L223.8,216.4 L223.8,217.2 L223.9,218.4 L224.0,219.0 L224.1,219.2 L224.2,220.5 L224.3,221.2 L224.4,221.8 L224.5,222.9 L224.6,223.3 L224.7,224.1 L224.8,224.9 L224.9,225.8 L225.0,226.5 L225.1,227.1 L225.3,228.1 L225.4,228.8 L225.6,229.7 L225.8,230.3 L226.0,231.2 L226.2,231.7 L226.4,232.5 L226.6,233.3 L226.8,234.1 L227.1,234.8 L227.3,235.4 L227.5,236.1 L227.8,236.6 L228.4,237.5 L229.0,238.2 L229.5,238.6 L229.50,239.00 Z"/></clipPath>
<g clip-path="url(#bx2)">
<path d="M203.00,239.00 L203.0,238.6 L203.4,238.3 L204.0,238.0 L204.7,237.6 L205.4,237.0 L206.0,236.5 L206.5,236.0 L206.9,235.6 L207.3,235.0 L207.7,234.5 L208.1,233.8 L208.5,232.9 L208.7,232.4 L209.0,231.9 L209.2,231.2 L209.4,230.5 L209.7,229.8 L209.9,229.3 L210.1,228.6 L210.3,227.8 L210.5,226.9 L210.7,226.5 L210.9,225.6 L211.1,224.8 L211.3,224.2 L211.4,223.4 L211.6,222.5 L211.8,222.0 L212.0,221.2 L212.1,220.7 L212.3,220.3 L212.5,219.3 L212.7,218.5 L212.9,218.2 L213.1,217.7 L213.3,216.7 L213.5,216.3 L213.7,214.6 L213.8,214.1 L213.9,213.6 L214.0,213.5 L214.1,212.6 L214.2,212.0 L214.3,210.8 L214.4,210.2 L214.5,209.9 L214.5,208.3 L214.6,207.5 L214.7,206.7 L214.8,206.4 L214.9,206.1 L215.0,205.1 L215.1,204.1 L215.2,203.4 L215.3,202.3 L215.4,202.3 L215.5,200.9 L215.6,200.0 L215.7,199.3 L215.8,199.2 L215.9,197.9 L216.0,197.8 L216.1,196.5 L216.2,195.9 L216.3,194.7 L216.5,194.9 L216.6,194.0 L216.7,192.8 L216.9,191.7 L217.0,191.4 L217.1,190.6 L217.3,190.5 L217.4,190.0 L217.5,189.3 L217.8,187.7 L218.0,186.6 L218.3,186.9 L218.5,186.5 L218.8,185.0 L219.1,185.4 L219.4,185.9 L219.7,187.2 L220.0,187.5 L220.1,188.1 L220.2,189.6 L220.4,190.0 L220.5,190.6 L220.6,191.8 L220.7,192.4 L220.9,193.3 L221.0,193.7 L221.1,194.3 L221.2,195.0 L221.3,196.0 L221.4,197.1 L221.5,197.6 L221.6,198.3 L221.7,199.3 L221.7,200.2 L221.8,200.8 L221.9,201.3 L222.0,202.6 L222.1,203.3 L222.2,204.2 L222.3,204.9 L222.4,204.6 L222.5,206.1 L222.6,206.5 L222.6,207.2 L222.7,208.1 L222.8,208.4 L222.9,209.3 L223.0,210.7 L223.1,210.8 L223.2,212.1 L223.3,212.6 L223.3,213.0 L223.4,213.7 L223.5,214.6 L223.6,215.4 L223.7,215.9 L223.8,216.4 L223.8,217.2 L223.9,218.4 L224.0,219.0 L224.1,219.2 L224.2,220.5 L224.3,221.2 L224.4,221.8 L224.5,222.9 L224.6,223.3 L224.7,224.1 L224.8,224.9 L224.9,225.8 L225.0,226.5 L225.1,227.1 L225.3,228.1 L225.4,228.8 L225.6,229.7 L225.8,230.3 L226.0,231.2 L226.2,231.7 L226.4,232.5 L226.6,233.3 L226.8,234.1 L227.1,234.8 L227.3,235.4 L227.5,236.1 L227.8,236.6 L228.4,237.5 L229.0,238.2 L229.5,238.6 L229.50,239.00 Z" fill="#f69494"/>
<path d="M209.00,239.00 L209.0,238.6 L209.4,238.3 L210.0,238.0 L210.7,237.6 L211.4,237.1 L212.0,236.5 L212.4,236.0 L212.9,235.4 L213.3,234.8 L213.6,234.1 L214.0,233.3 L214.4,232.6 L214.6,231.9 L214.8,231.3 L215.1,230.6 L215.3,230.1 L215.5,229.5 L215.7,228.6 L215.9,228.0 L216.1,226.9 L216.3,226.4 L216.5,225.7 L216.7,224.7 L216.8,224.3 L217.0,223.6 L217.1,223.1 L217.3,222.0 L217.4,221.5 L217.6,220.9 L217.7,220.1 L217.9,219.1 L218.0,218.3 L218.2,218.1 L218.3,217.1 L218.4,216.8 L218.5,215.4 L218.6,215.1 L218.7,214.4 L218.8,213.8 L218.9,212.3 L219.0,211.8 L219.1,210.8 L219.2,210.7 L219.3,209.6 L219.3,209.4 L219.4,208.1 L219.5,207.8 L219.6,207.1 L219.7,205.8 L219.7,205.4 L219.8,205.1 L219.9,203.9 L220.0,203.0 L220.0,202.2 L220.1,202.0 L220.2,200.7 L220.2,200.4 L220.3,199.7 L220.4,199.0 L220.5,197.7 L220.6,197.6 L220.7,197.1 L220.8,195.7 L220.9,194.9 L221.0,194.8 L221.1,193.7 L221.2,192.7 L221.3,191.7 L221.4,191.9 L221.5,190.8 L221.6,190.1 L221.8,189.0 L221.9,188.7 L222.1,188.0 L222.2,186.9 L222.4,186.1 L222.5,186.5 L222.8,185.3 L223.2,183.4 L223.5,183.9 L223.7,184.4 L223.9,184.6 L224.0,185.8 L224.2,187.0 L224.4,187.6 L224.6,188.4 L224.7,188.7 L224.8,189.4 L224.9,189.9 L225.0,190.6 L225.1,191.4 L225.3,192.8 L225.4,193.2 L225.5,194.2 L225.6,195.1 L225.7,195.8 L225.8,195.7 L225.9,197.3 L226.0,197.0 L226.0,198.4 L226.1,199.2 L226.2,199.7 L226.2,200.1 L226.3,200.5 L226.4,201.2 L226.5,202.5 L226.5,202.8 L226.6,203.9 L226.7,204.3 L226.7,204.9 L226.8,205.8 L226.9,207.0 L226.9,207.5 L227.0,208.1 L227.1,209.0 L227.2,209.9 L227.2,210.6 L227.3,211.3 L227.4,212.5 L227.4,213.1 L227.5,213.4 L227.6,214.2 L227.7,214.8 L227.7,215.7 L227.8,216.1 L227.9,217.4 L228.0,218.1 L228.1,218.7 L228.2,219.8 L228.3,220.1 L228.4,220.9 L228.5,221.8 L228.6,222.2 L228.7,222.9 L228.8,223.4 L228.9,224.5 L229.0,225.1 L229.2,225.6 L229.3,226.4 L229.4,227.2 L229.5,227.9 L229.6,228.5 L229.8,229.1 L229.9,229.8 L230.1,230.8 L230.3,231.6 L230.5,232.4 L230.8,233.1 L231.0,233.9 L231.2,234.5 L231.5,235.3 L231.8,236.0 L232.1,236.6 L232.5,237.2 L233.1,237.7 L233.8,238.1 L234.5,238.4 L235.0,238.6 L235.00,239.00 Z" fill="#80e0f0"/>
<path d="M209.00,239.00 L209.0,238.6 L209.4,238.3 L210.0,238.0 L210.7,237.6 L211.4,237.1 L212.0,236.5 L212.4,236.0 L212.9,235.4 L213.3,234.8 L213.6,234.1 L214.0,233.3 L214.4,232.6 L214.6,231.9 L214.8,231.3 L215.1,230.6 L215.3,230.1 L215.5,229.5 L215.7,228.6 L215.9,228.0 L216.1,226.9 L216.3,226.4 L216.5,225.7 L216.7,224.7 L216.8,224.3 L217.0,223.6 L217.1,223.1 L217.3,222.0 L217.4,221.5 L217.6,220.9 L217.7,220.1 L217.9,219.1 L218.0,218.3 L218.2,218.1 L218.3,217.1 L218.4,216.8 L218.5,215.4 L218.6,215.1 L218.7,214.4 L218.8,213.8 L218.9,212.3 L219.0,211.8 L219.1,210.8 L219.2,210.7 L219.3,209.6 L219.3,209.4 L219.4,208.1 L219.5,207.8 L219.6,207.1 L219.7,205.8 L219.7,205.4 L219.8,205.1 L219.9,203.9 L220.0,203.0 L220.0,202.2 L220.1,202.0 L220.2,200.7 L220.2,200.4 L220.3,199.7 L220.4,199.0 L220.5,197.7 L220.6,197.6 L220.7,197.1 L220.8,195.7 L220.9,194.9 L221.0,194.8 L221.1,193.7 L221.2,192.7 L221.3,191.7 L221.4,191.9 L221.5,190.8 L221.6,190.1 L221.8,189.0 L221.9,188.7 L222.1,188.0 L222.2,186.9 L222.4,186.1 L222.5,186.5 L222.8,185.3 L223.2,183.4 L223.5,183.9 L223.7,184.4 L223.9,184.6 L224.0,185.8 L224.2,187.0 L224.4,187.6 L224.6,188.4 L224.7,188.7 L224.8,189.4 L224.9,189.9 L225.0,190.6 L225.1,191.4 L225.3,192.8 L225.4,193.2 L225.5,194.2 L225.6,195.1 L225.7,195.8 L225.8,195.7 L225.9,197.3 L226.0,197.0 L226.0,198.4 L226.1,199.2 L226.2,199.7 L226.2,200.1 L226.3,200.5 L226.4,201.2 L226.5,202.5 L226.5,202.8 L226.6,203.9 L226.7,204.3 L226.7,204.9 L226.8,205.8 L226.9,207.0 L226.9,207.5 L227.0,208.1 L227.1,209.0 L227.2,209.9 L227.2,210.6 L227.3,211.3 L227.4,212.5 L227.4,213.1 L227.5,213.4 L227.6,214.2 L227.7,214.8 L227.7,215.7 L227.8,216.1 L227.9,217.4 L228.0,218.1 L228.1,218.7 L228.2,219.8 L228.3,220.1 L228.4,220.9 L228.5,221.8 L228.6,222.2 L228.7,222.9 L228.8,223.4 L228.9,224.5 L229.0,225.1 L229.2,225.6 L229.3,226.4 L229.4,227.2 L229.5,227.9 L229.6,228.5 L229.8,229.1 L229.9,229.8 L230.1,230.8 L230.3,231.6 L230.5,232.4 L230.8,233.1 L231.0,233.9 L231.2,234.5 L231.5,235.3 L231.8,236.0 L232.1,236.6 L232.5,237.2 L233.1,237.7 L233.8,238.1 L234.5,238.4 L235.0,238.6 L235.00,239.00 Z" fill="#8fb0c6" clip-path="url(#rc2)"/>
<path d="M203.00,239.00 L203.0,238.6 L203.4,238.3 L204.0,238.0 L204.7,237.6 L205.4,237.0 L206.0,236.5 L206.5,236.0 L206.9,235.6 L207.3,235.0 L207.7,234.5 L208.1,233.8 L208.5,232.9 L208.7,232.4 L209.0,231.9 L209.2,231.2 L209.4,230.5 L209.7,229.8 L209.9,229.3 L210.1,228.6 L210.3,227.8 L210.5,226.9 L210.7,226.5 L210.9,225.6 L211.1,224.8 L211.3,224.2 L211.4,223.4 L211.6,222.5 L211.8,222.0 L212.0,221.2 L212.1,220.7 L212.3,220.3 L212.5,219.3 L212.7,218.5 L212.9,218.2 L213.1,217.7 L213.3,216.7 L213.5,216.3 L213.7,214.6 L213.8,214.1 L213.9,213.6 L214.0,213.5 L214.1,212.6 L214.2,212.0 L214.3,210.8 L214.4,210.2 L214.5,209.9 L214.5,208.3 L214.6,207.5 L214.7,206.7 L214.8,206.4 L214.9,206.1 L215.0,205.1 L215.1,204.1 L215.2,203.4 L215.3,202.3 L215.4,202.3 L215.5,200.9 L215.6,200.0 L215.7,199.3 L215.8,199.2 L215.9,197.9 L216.0,197.8 L216.1,196.5 L216.2,195.9 L216.3,194.7 L216.5,194.9 L216.6,194.0 L216.7,192.8 L216.9,191.7 L217.0,191.4 L217.1,190.6 L217.3,190.5 L217.4,190.0 L217.5,189.3 L217.8,187.7 L218.0,186.6 L218.3,186.9 L218.5,186.5 L218.8,185.0 L219.1,185.4 L219.4,185.9 L219.7,187.2 L220.0,187.5 L220.1,188.1 L220.2,189.6 L220.4,190.0 L220.5,190.6 L220.6,191.8 L220.7,192.4 L220.9,193.3 L221.0,193.7 L221.1,194.3 L221.2,195.0 L221.3,196.0 L221.4,197.1 L221.5,197.6 L221.6,198.3 L221.7,199.3 L221.7,200.2 L221.8,200.8 L221.9,201.3 L222.0,202.6 L222.1,203.3 L222.2,204.2 L222.3,204.9 L222.4,204.6 L222.5,206.1 L222.6,206.5 L222.6,207.2 L222.7,208.1 L222.8,208.4 L222.9,209.3 L223.0,210.7 L223.1,210.8 L223.2,212.1 L223.3,212.6 L223.3,213.0 L223.4,213.7 L223.5,214.6 L223.6,215.4 L223.7,215.9 L223.8,216.4 L223.8,217.2 L223.9,218.4 L224.0,219.0 L224.1,219.2 L224.2,220.5 L224.3,221.2 L224.4,221.8 L224.5,222.9 L224.6,223.3 L224.7,224.1 L224.8,224.9 L224.9,225.8 L225.0,226.5 L225.1,227.1 L225.3,228.1 L225.4,228.8 L225.6,229.7 L225.8,230.3 L226.0,231.2 L226.2,231.7 L226.4,232.5 L226.6,233.3 L226.8,234.1 L227.1,234.8 L227.3,235.4 L227.5,236.1 L227.8,236.6 L228.4,237.5 L229.0,238.2 L229.5,238.6 L229.50,239.00 Z" fill="none" stroke="#d86a72" stroke-width="0.55"/>
<path d="M209.00,239.00 L209.0,238.6 L209.4,238.3 L210.0,238.0 L210.7,237.6 L211.4,237.1 L212.0,236.5 L212.4,236.0 L212.9,235.4 L213.3,234.8 L213.6,234.1 L214.0,233.3 L214.4,232.6 L214.6,231.9 L214.8,231.3 L215.1,230.6 L215.3,230.1 L215.5,229.5 L215.7,228.6 L215.9,228.0 L216.1,226.9 L216.3,226.4 L216.5,225.7 L216.7,224.7 L216.8,224.3 L217.0,223.6 L217.1,223.1 L217.3,222.0 L217.4,221.5 L217.6,220.9 L217.7,220.1 L217.9,219.1 L218.0,218.3 L218.2,218.1 L218.3,217.1 L218.4,216.8 L218.5,215.4 L218.6,215.1 L218.7,214.4 L218.8,213.8 L218.9,212.3 L219.0,211.8 L219.1,210.8 L219.2,210.7 L219.3,209.6 L219.3,209.4 L219.4,208.1 L219.5,207.8 L219.6,207.1 L219.7,205.8 L219.7,205.4 L219.8,205.1 L219.9,203.9 L220.0,203.0 L220.0,202.2 L220.1,202.0 L220.2,200.7 L220.2,200.4 L220.3,199.7 L220.4,199.0 L220.5,197.7 L220.6,197.6 L220.7,197.1 L220.8,195.7 L220.9,194.9 L221.0,194.8 L221.1,193.7 L221.2,192.7 L221.3,191.7 L221.4,191.9 L221.5,190.8 L221.6,190.1 L221.8,189.0 L221.9,188.7 L222.1,188.0 L222.2,186.9 L222.4,186.1 L222.5,186.5 L222.8,185.3 L223.2,183.4 L223.5,183.9 L223.7,184.4 L223.9,184.6 L224.0,185.8 L224.2,187.0 L224.4,187.6 L224.6,188.4 L224.7,188.7 L224.8,189.4 L224.9,189.9 L225.0,190.6 L225.1,191.4 L225.3,192.8 L225.4,193.2 L225.5,194.2 L225.6,195.1 L225.7,195.8 L225.8,195.7 L225.9,197.3 L226.0,197.0 L226.0,198.4 L226.1,199.2 L226.2,199.7 L226.2,200.1 L226.3,200.5 L226.4,201.2 L226.5,202.5 L226.5,202.8 L226.6,203.9 L226.7,204.3 L226.7,204.9 L226.8,205.8 L226.9,207.0 L226.9,207.5 L227.0,208.1 L227.1,209.0 L227.2,209.9 L227.2,210.6 L227.3,211.3 L227.4,212.5 L227.4,213.1 L227.5,213.4 L227.6,214.2 L227.7,214.8 L227.7,215.7 L227.8,216.1 L227.9,217.4 L228.0,218.1 L228.1,218.7 L228.2,219.8 L228.3,220.1 L228.4,220.9 L228.5,221.8 L228.6,222.2 L228.7,222.9 L228.8,223.4 L228.9,224.5 L229.0,225.1 L229.2,225.6 L229.3,226.4 L229.4,227.2 L229.5,227.9 L229.6,228.5 L229.8,229.1 L229.9,229.8 L230.1,230.8 L230.3,231.6 L230.5,232.4 L230.8,233.1 L231.0,233.9 L231.2,234.5 L231.5,235.3 L231.8,236.0 L232.1,236.6 L232.5,237.2 L233.1,237.7 L233.8,238.1 L234.5,238.4 L235.0,238.6 L235.00,239.00 Z" fill="none" stroke="#36aec4" stroke-width="0.55"/>
</g>
<line x1="175" y1="180.5" x2="175" y2="239" stroke="#777" stroke-width="0.6"/>
<line x1="173.7" y1="239" x2="175" y2="239" stroke="#444" stroke-width="0.7"/>
<text x="172.8" y="239.9" font-size="2.6" text-anchor="end" fill="#555">0</text>
<line x1="174.3" y1="235.97" x2="175" y2="235.97" stroke="#888" stroke-width="0.4"/>
<line x1="174.3" y1="232.93" x2="175" y2="232.93" stroke="#888" stroke-width="0.4"/>
<line x1="174.3" y1="229.9" x2="175" y2="229.9" stroke="#888" stroke-width="0.4"/>
<line x1="174.3" y1="226.87" x2="175" y2="226.87" stroke="#888" stroke-width="0.4"/>
<line x1="173.7" y1="223.83" x2="175" y2="223.83" stroke="#444" stroke-width="0.7"/>
<text x="172.8" y="224.73" font-size="2.6" text-anchor="end" fill="#555">50.0</text>
<line x1="174.3" y1="220.8" x2="175" y2="220.8" stroke="#888" stroke-width="0.4"/>
<line x1="174.3" y1="217.77" x2="175" y2="217.77" stroke="#888" stroke-width="0.4"/>
<line x1="174.3" y1="214.73" x2="175" y2="214.73" stroke="#888" stroke-width="0.4"/>
<line x1="174.3" y1="211.7" x2="175" y2="211.7" stroke="#888" stroke-width="0.4"/>
<line x1="173.7" y1="208.67" x2="175" y2="208.67" stroke="#444" stroke-width="0.7"/>
<text x="172.8" y="209.57" font-size="2.6" text-anchor="end" fill="#555">100</text>
<line x1="174.3" y1="205.63" x2="175" y2="205.63" stroke="#888" stroke-width="0.4"/>
<line x1="174.3" y1="202.6" x2="175" y2="202.6" stroke="#888" stroke-width="0.4"/>
<line x1="174.3" y1="199.57" x2="175" y2="199.57" stroke="#888" stroke-width="0.4"/>
<line x1="174.3" y1="196.53" x2="175" y2="196.53" stroke="#888" stroke-width="0.4"/>
<line x1="173.7" y1="193.5" x2="175" y2="193.5" stroke="#444" stroke-width="0.7"/>
<text x="172.8" y="194.4" font-size="2.6" text-anchor="end" fill="#555">150</text>
<text x="161" y="208.75" font-size="3" text-anchor="middle" fill="#666" transform="rotate(-90 161 208.75)">Count</text>
<line x1="175" y1="239" x2="240" y2="239" stroke="#222" stroke-width="0.8"/>
<line x1="180.53" y1="239" x2="180.53" y2="240.6" stroke="#111" stroke-width="0.8"/>
<text x="180.53" y="245" font-size="2.9" text-anchor="middle" fill="#555">-10<tspan font-size="1.8" dy="-1">3</tspan></text>
<line x1="189.95" y1="239" x2="189.95" y2="240.6" stroke="#111" stroke-width="0.8"/>
<text x="189.95" y="245" font-size="2.9" text-anchor="middle" fill="#555">0</text>
<line x1="201.65" y1="239" x2="201.65" y2="240.6" stroke="#111" stroke-width="0.8"/>
<text x="201.65" y="245" font-size="2.9" text-anchor="middle" fill="#555">10<tspan font-size="1.8" dy="-1">3</tspan></text>
<line x1="219.85" y1="239" x2="219.85" y2="240.6" stroke="#111" stroke-width="0.8"/>
<text x="219.85" y="245" font-size="2.9" text-anchor="middle" fill="#555">10<tspan font-size="1.8" dy="-1">4</tspan></text>
<line x1="235.78" y1="239" x2="235.78" y2="240.6" stroke="#111" stroke-width="0.8"/>
<text x="235.78" y="245" font-size="2.9" text-anchor="middle" fill="#555">10<tspan font-size="1.8" dy="-1">5</tspan></text>
<line x1="182.8" y1="239" x2="182.8" y2="240" stroke="#333" stroke-width="0.5"/>
<line x1="185.4" y1="239" x2="185.4" y2="240" stroke="#333" stroke-width="0.5"/>
<line x1="188" y1="239" x2="188" y2="240" stroke="#333" stroke-width="0.5"/>
<line x1="193.2" y1="239" x2="193.2" y2="240" stroke="#333" stroke-width="0.5"/>
<line x1="195.8" y1="239" x2="195.8" y2="240" stroke="#333" stroke-width="0.5"/>
<line x1="198.4" y1="239" x2="198.4" y2="240" stroke="#333" stroke-width="0.5"/>
<line x1="208.8" y1="239" x2="208.8" y2="240" stroke="#333" stroke-width="0.5"/>
<line x1="212.05" y1="239" x2="212.05" y2="240" stroke="#333" stroke-width="0.5"/>
<line x1="215.3" y1="239" x2="215.3" y2="240" stroke="#333" stroke-width="0.5"/>
<line x1="226.35" y1="239" x2="226.35" y2="240" stroke="#333" stroke-width="0.5"/>
<line x1="229.6" y1="239" x2="229.6" y2="240" stroke="#333" stroke-width="0.5"/>
<line x1="232.85" y1="239" x2="232.85" y2="240" stroke="#333" stroke-width="0.5"/>
<rect x="188" y="239.2" width="2.2" height="1.6" fill="#111"/>
<text x="207.5" y="250" font-size="3.2" text-anchor="middle" fill="#555">Comp-PE-A</text>
<rect x="278.3" y="177.7" width="70.2" height="61.9" fill="#fff" stroke="#d4d4d4" stroke-width="0.6"/>
<clipPath id="bx3"><rect x="278.3" y="177.7" width="70.2" height="61.9"/></clipPath>
<clipPath id="rc3"><path d="M292.00,239.60 L292.0,239.3 L292.1,238.9 L292.3,238.3 L292.5,237.7 L292.7,237.1 L292.9,236.2 L293.1,235.4 L293.4,234.6 L293.6,233.7 L293.8,233.0 L294.0,231.9 L294.1,231.5 L294.2,230.7 L294.4,230.1 L294.5,229.6 L294.6,228.8 L294.7,228.2 L294.8,227.4 L294.9,226.4 L295.0,226.0 L295.1,225.1 L295.2,224.2 L295.3,223.4 L295.4,223.0 L295.5,222.1 L295.6,221.6 L295.7,220.9 L295.7,220.3 L295.8,219.4 L295.9,218.8 L296.0,218.0 L296.0,217.1 L296.1,216.9 L296.2,215.7 L296.3,215.4 L296.3,214.8 L296.4,213.8 L296.5,212.6 L296.6,212.5 L296.6,211.6 L296.7,210.4 L296.8,209.5 L296.9,209.3 L297.0,208.1 L297.0,208.3 L297.1,207.1 L297.2,206.3 L297.3,205.4 L297.4,204.9 L297.4,204.4 L297.5,202.9 L297.6,202.2 L297.7,201.7 L297.8,200.7 L297.8,200.3 L297.9,199.5 L298.0,198.7 L298.1,198.4 L298.1,197.6 L298.2,196.5 L298.3,196.5 L298.5,194.9 L298.6,194.1 L298.7,193.3 L298.8,193.2 L299.0,192.6 L299.1,191.5 L299.2,190.9 L299.3,190.1 L299.8,189.6 L300.2,188.4 L300.7,189.5 L301.2,190.3 L301.6,191.0 L302.2,192.0 L302.5,192.4 L302.8,192.7 L303.1,193.9 L303.5,194.9 L303.8,195.5 L304.2,195.9 L304.4,197.0 L304.6,196.9 L304.8,197.9 L305.0,199.0 L305.2,199.8 L305.4,200.1 L305.7,201.2 L305.9,201.5 L306.1,202.3 L306.3,203.1 L306.5,204.2 L306.7,204.6 L306.9,205.1 L307.1,206.1 L307.3,206.7 L307.5,207.1 L307.7,208.3 L307.9,209.0 L308.1,209.5 L308.3,210.4 L308.5,210.0 L308.9,211.4 L309.2,212.3 L309.6,212.7 L309.9,213.2 L310.2,214.2 L310.5,214.4 L311.0,215.3 L311.6,215.3 L312.0,215.9 L312.6,214.9 L313.1,214.1 L313.7,213.4 L314.1,213.0 L314.4,213.0 L314.9,211.7 L315.3,211.2 L315.7,210.4 L316.0,210.1 L316.4,209.3 L316.8,208.7 L317.2,208.4 L317.6,208.0 L318.0,207.2 L318.4,205.8 L319.0,205.6 L319.7,205.6 L320.4,204.2 L321.1,204.0 L321.8,203.9 L322.5,203.5 L323.2,203.6 L323.8,203.2 L324.5,202.4 L325.1,201.6 L325.8,201.3 L326.7,201.3 L327.7,201.3 L328.5,202.4 L328.9,202.2 L329.2,203.6 L329.5,204.0 L329.8,204.4 L329.9,205.4 L330.1,206.2 L330.2,206.2 L330.3,207.5 L330.5,207.8 L330.6,209.3 L330.7,209.4 L330.9,210.8 L331.0,212.0 L331.2,212.6 L331.4,212.8 L331.5,213.7 L331.7,214.1 L331.9,215.0 L332.1,216.2 L332.3,216.8 L332.4,217.0 L332.6,218.0 L332.8,218.9 L333.0,219.4 L333.2,220.6 L333.4,221.3 L333.5,221.8 L333.7,222.4 L333.8,223.4 L334.0,224.0 L334.1,224.6 L334.3,225.4 L334.4,226.1 L334.6,227.1 L334.7,227.7 L334.9,228.5 L335.0,229.2 L335.2,230.0 L335.4,230.5 L335.6,231.4 L335.8,232.4 L336.0,233.2 L336.1,233.9 L336.3,234.8 L336.5,235.5 L336.7,236.2 L336.9,236.8 L337.0,237.4 L337.2,237.9 L338.0,239.1 L338.5,239.3 L338.50,239.60 Z"/></clipPath>
<g clip-path="url(#bx3)">
<path d="M292.00,239.60 L292.0,239.3 L292.1,238.9 L292.3,238.3 L292.5,237.7 L292.7,237.1 L292.9,236.2 L293.1,235.4 L293.4,234.6 L293.6,233.7 L293.8,233.0 L294.0,231.9 L294.1,231.5 L294.2,230.7 L294.4,230.1 L294.5,229.6 L294.6,228.8 L294.7,228.2 L294.8,227.4 L294.9,226.4 L295.0,226.0 L295.1,225.1 L295.2,224.2 L295.3,223.4 L295.4,223.0 L295.5,222.1 L295.6,221.6 L295.7,220.9 L295.7,220.3 L295.8,219.4 L295.9,218.8 L296.0,218.0 L296.0,217.1 L296.1,216.9 L296.2,215.7 L296.3,215.4 L296.3,214.8 L296.4,213.8 L296.5,212.6 L296.6,212.5 L296.6,211.6 L296.7,210.4 L296.8,209.5 L296.9,209.3 L297.0,208.1 L297.0,208.3 L297.1,207.1 L297.2,206.3 L297.3,205.4 L297.4,204.9 L297.4,204.4 L297.5,202.9 L297.6,202.2 L297.7,201.7 L297.8,200.7 L297.8,200.3 L297.9,199.5 L298.0,198.7 L298.1,198.4 L298.1,197.6 L298.2,196.5 L298.3,196.5 L298.5,194.9 L298.6,194.1 L298.7,193.3 L298.8,193.2 L299.0,192.6 L299.1,191.5 L299.2,190.9 L299.3,190.1 L299.8,189.6 L300.2,188.4 L300.7,189.5 L301.2,190.3 L301.6,191.0 L302.2,192.0 L302.5,192.4 L302.8,192.7 L303.1,193.9 L303.5,194.9 L303.8,195.5 L304.2,195.9 L304.4,197.0 L304.6,196.9 L304.8,197.9 L305.0,199.0 L305.2,199.8 L305.4,200.1 L305.7,201.2 L305.9,201.5 L306.1,202.3 L306.3,203.1 L306.5,204.2 L306.7,204.6 L306.9,205.1 L307.1,206.1 L307.3,206.7 L307.5,207.1 L307.7,208.3 L307.9,209.0 L308.1,209.5 L308.3,210.4 L308.5,210.0 L308.9,211.4 L309.2,212.3 L309.6,212.7 L309.9,213.2 L310.2,214.2 L310.5,214.4 L311.0,215.3 L311.6,215.3 L312.0,215.9 L312.6,214.9 L313.1,214.1 L313.7,213.4 L314.1,213.0 L314.4,213.0 L314.9,211.7 L315.3,211.2 L315.7,210.4 L316.0,210.1 L316.4,209.3 L316.8,208.7 L317.2,208.4 L317.6,208.0 L318.0,207.2 L318.4,205.8 L319.0,205.6 L319.7,205.6 L320.4,204.2 L321.1,204.0 L321.8,203.9 L322.5,203.5 L323.2,203.6 L323.8,203.2 L324.5,202.4 L325.1,201.6 L325.8,201.3 L326.7,201.3 L327.7,201.3 L328.5,202.4 L328.9,202.2 L329.2,203.6 L329.5,204.0 L329.8,204.4 L329.9,205.4 L330.1,206.2 L330.2,206.2 L330.3,207.5 L330.5,207.8 L330.6,209.3 L330.7,209.4 L330.9,210.8 L331.0,212.0 L331.2,212.6 L331.4,212.8 L331.5,213.7 L331.7,214.1 L331.9,215.0 L332.1,216.2 L332.3,216.8 L332.4,217.0 L332.6,218.0 L332.8,218.9 L333.0,219.4 L333.2,220.6 L333.4,221.3 L333.5,221.8 L333.7,222.4 L333.8,223.4 L334.0,224.0 L334.1,224.6 L334.3,225.4 L334.4,226.1 L334.6,227.1 L334.7,227.7 L334.9,228.5 L335.0,229.2 L335.2,230.0 L335.4,230.5 L335.6,231.4 L335.8,232.4 L336.0,233.2 L336.1,233.9 L336.3,234.8 L336.5,235.5 L336.7,236.2 L336.9,236.8 L337.0,237.4 L337.2,237.9 L338.0,239.1 L338.5,239.3 L338.50,239.60 Z" fill="#f69494"/>
<path d="M292.50,239.60 L292.5,239.3 L292.6,238.9 L292.7,238.4 L292.9,237.7 L293.1,237.1 L293.3,236.2 L293.5,235.5 L293.7,234.6 L293.9,233.8 L294.1,232.8 L294.3,232.0 L294.4,231.4 L294.5,230.8 L294.6,230.0 L294.8,229.5 L294.9,228.8 L295.0,227.8 L295.1,227.2 L295.2,226.6 L295.3,225.8 L295.4,224.9 L295.5,224.1 L295.6,223.7 L295.7,222.5 L295.8,222.1 L295.9,221.5 L296.0,220.3 L296.1,219.7 L296.2,219.0 L296.3,218.4 L296.3,217.5 L296.4,217.2 L296.5,216.5 L296.6,215.3 L296.7,215.0 L296.7,213.7 L296.8,213.0 L296.9,212.8 L297.0,212.3 L297.1,211.5 L297.2,210.8 L297.3,209.9 L297.4,208.5 L297.5,208.2 L297.6,207.7 L297.8,206.1 L297.9,205.8 L298.0,204.8 L298.1,204.2 L298.2,204.0 L298.4,203.3 L298.6,202.8 L298.9,201.2 L299.1,201.0 L299.3,201.0 L299.5,200.3 L300.0,199.2 L300.5,198.7 L301.2,199.3 L302.2,199.3 L302.8,200.0 L303.5,200.4 L304.3,200.6 L304.9,201.9 L305.1,202.0 L305.4,202.8 L305.6,203.9 L305.8,204.0 L306.0,204.8 L306.2,206.0 L306.4,206.7 L306.7,207.9 L306.9,208.0 L307.2,208.9 L307.5,209.4 L307.8,210.5 L308.1,211.1 L308.4,212.0 L308.7,213.0 L309.0,213.0 L309.3,214.3 L309.6,214.6 L310.3,215.6 L311.0,215.8 L311.6,215.8 L312.1,215.3 L312.6,214.7 L313.1,213.8 L313.7,212.8 L314.0,212.3 L314.3,211.7 L314.6,211.6 L314.9,210.8 L315.2,209.9 L315.5,208.6 L315.8,208.1 L316.1,207.7 L316.4,207.2 L316.7,206.1 L317.0,205.6 L317.3,205.2 L317.6,203.8 L317.8,203.3 L318.1,203.0 L318.4,201.8 L318.7,201.5 L319.0,200.4 L319.3,199.2 L319.6,199.0 L319.9,197.8 L320.2,197.9 L320.5,197.4 L320.9,196.3 L321.3,196.1 L321.7,194.8 L322.1,194.5 L322.5,193.6 L323.0,192.8 L323.5,193.0 L324.0,191.6 L324.5,192.0 L325.0,191.0 L325.5,190.7 L326.0,189.5 L326.5,189.9 L327.0,189.2 L327.5,187.9 L328.0,187.3 L328.5,186.6 L329.0,186.1 L329.4,184.7 L329.8,184.7 L330.2,184.3 L330.4,184.8 L330.5,184.7 L330.7,185.7 L330.9,186.1 L331.0,187.1 L331.2,187.8 L331.3,189.4 L331.5,190.4 L331.6,190.9 L331.7,190.9 L331.8,191.4 L331.8,192.0 L331.9,192.7 L332.0,194.3 L332.1,194.3 L332.2,195.7 L332.3,195.7 L332.4,196.9 L332.5,197.3 L332.6,198.2 L332.7,199.4 L332.8,200.1 L332.9,201.2 L333.0,201.2 L333.1,202.0 L333.2,202.5 L333.3,203.4 L333.4,204.9 L333.5,205.2 L333.7,205.8 L333.8,206.3 L333.9,207.5 L334.0,208.1 L334.2,208.3 L334.3,208.9 L334.4,209.7 L334.6,211.0 L334.7,211.7 L334.8,211.9 L335.0,212.6 L335.1,213.4 L335.2,214.4 L335.3,215.2 L335.5,215.5 L335.6,216.3 L335.7,216.9 L335.8,218.1 L336.0,218.6 L336.1,219.6 L336.2,219.9 L336.3,220.9 L336.5,221.6 L336.6,222.5 L336.7,223.0 L336.8,223.7 L336.9,224.7 L337.1,225.5 L337.2,226.0 L337.3,226.6 L337.4,227.2 L337.5,228.0 L337.7,228.8 L337.8,229.2 L337.9,229.8 L338.1,230.7 L338.3,231.5 L338.5,232.3 L338.7,233.2 L338.9,234.0 L339.1,234.7 L339.3,235.3 L339.5,236.0 L339.7,236.6 L339.9,237.1 L340.0,237.6 L340.2,238.0 L341.0,239.2 L341.5,239.3 L341.50,239.60 Z" fill="#80e0f0"/>
<path d="M292.50,239.60 L292.5,239.3 L292.6,238.9 L292.7,238.4 L292.9,237.7 L293.1,237.1 L293.3,236.2 L293.5,235.5 L293.7,234.6 L293.9,233.8 L294.1,232.8 L294.3,232.0 L294.4,231.4 L294.5,230.8 L294.6,230.0 L294.8,229.5 L294.9,228.8 L295.0,227.8 L295.1,227.2 L295.2,226.6 L295.3,225.8 L295.4,224.9 L295.5,224.1 L295.6,223.7 L295.7,222.5 L295.8,222.1 L295.9,221.5 L296.0,220.3 L296.1,219.7 L296.2,219.0 L296.3,218.4 L296.3,217.5 L296.4,217.2 L296.5,216.5 L296.6,215.3 L296.7,215.0 L296.7,213.7 L296.8,213.0 L296.9,212.8 L297.0,212.3 L297.1,211.5 L297.2,210.8 L297.3,209.9 L297.4,208.5 L297.5,208.2 L297.6,207.7 L297.8,206.1 L297.9,205.8 L298.0,204.8 L298.1,204.2 L298.2,204.0 L298.4,203.3 L298.6,202.8 L298.9,201.2 L299.1,201.0 L299.3,201.0 L299.5,200.3 L300.0,199.2 L300.5,198.7 L301.2,199.3 L302.2,199.3 L302.8,200.0 L303.5,200.4 L304.3,200.6 L304.9,201.9 L305.1,202.0 L305.4,202.8 L305.6,203.9 L305.8,204.0 L306.0,204.8 L306.2,206.0 L306.4,206.7 L306.7,207.9 L306.9,208.0 L307.2,208.9 L307.5,209.4 L307.8,210.5 L308.1,211.1 L308.4,212.0 L308.7,213.0 L309.0,213.0 L309.3,214.3 L309.6,214.6 L310.3,215.6 L311.0,215.8 L311.6,215.8 L312.1,215.3 L312.6,214.7 L313.1,213.8 L313.7,212.8 L314.0,212.3 L314.3,211.7 L314.6,211.6 L314.9,210.8 L315.2,209.9 L315.5,208.6 L315.8,208.1 L316.1,207.7 L316.4,207.2 L316.7,206.1 L317.0,205.6 L317.3,205.2 L317.6,203.8 L317.8,203.3 L318.1,203.0 L318.4,201.8 L318.7,201.5 L319.0,200.4 L319.3,199.2 L319.6,199.0 L319.9,197.8 L320.2,197.9 L320.5,197.4 L320.9,196.3 L321.3,196.1 L321.7,194.8 L322.1,194.5 L322.5,193.6 L323.0,192.8 L323.5,193.0 L324.0,191.6 L324.5,192.0 L325.0,191.0 L325.5,190.7 L326.0,189.5 L326.5,189.9 L327.0,189.2 L327.5,187.9 L328.0,187.3 L328.5,186.6 L329.0,186.1 L329.4,184.7 L329.8,184.7 L330.2,184.3 L330.4,184.8 L330.5,184.7 L330.7,185.7 L330.9,186.1 L331.0,187.1 L331.2,187.8 L331.3,189.4 L331.5,190.4 L331.6,190.9 L331.7,190.9 L331.8,191.4 L331.8,192.0 L331.9,192.7 L332.0,194.3 L332.1,194.3 L332.2,195.7 L332.3,195.7 L332.4,196.9 L332.5,197.3 L332.6,198.2 L332.7,199.4 L332.8,200.1 L332.9,201.2 L333.0,201.2 L333.1,202.0 L333.2,202.5 L333.3,203.4 L333.4,204.9 L333.5,205.2 L333.7,205.8 L333.8,206.3 L333.9,207.5 L334.0,208.1 L334.2,208.3 L334.3,208.9 L334.4,209.7 L334.6,211.0 L334.7,211.7 L334.8,211.9 L335.0,212.6 L335.1,213.4 L335.2,214.4 L335.3,215.2 L335.5,215.5 L335.6,216.3 L335.7,216.9 L335.8,218.1 L336.0,218.6 L336.1,219.6 L336.2,219.9 L336.3,220.9 L336.5,221.6 L336.6,222.5 L336.7,223.0 L336.8,223.7 L336.9,224.7 L337.1,225.5 L337.2,226.0 L337.3,226.6 L337.4,227.2 L337.5,228.0 L337.7,228.8 L337.8,229.2 L337.9,229.8 L338.1,230.7 L338.3,231.5 L338.5,232.3 L338.7,233.2 L338.9,234.0 L339.1,234.7 L339.3,235.3 L339.5,236.0 L339.7,236.6 L339.9,237.1 L340.0,237.6 L340.2,238.0 L341.0,239.2 L341.5,239.3 L341.50,239.60 Z" fill="#8fb0c6" clip-path="url(#rc3)"/>
<path d="M292.00,239.60 L292.0,239.3 L292.1,238.9 L292.3,238.3 L292.5,237.7 L292.7,237.1 L292.9,236.2 L293.1,235.4 L293.4,234.6 L293.6,233.7 L293.8,233.0 L294.0,231.9 L294.1,231.5 L294.2,230.7 L294.4,230.1 L294.5,229.6 L294.6,228.8 L294.7,228.2 L294.8,227.4 L294.9,226.4 L295.0,226.0 L295.1,225.1 L295.2,224.2 L295.3,223.4 L295.4,223.0 L295.5,222.1 L295.6,221.6 L295.7,220.9 L295.7,220.3 L295.8,219.4 L295.9,218.8 L296.0,218.0 L296.0,217.1 L296.1,216.9 L296.2,215.7 L296.3,215.4 L296.3,214.8 L296.4,213.8 L296.5,212.6 L296.6,212.5 L296.6,211.6 L296.7,210.4 L296.8,209.5 L296.9,209.3 L297.0,208.1 L297.0,208.3 L297.1,207.1 L297.2,206.3 L297.3,205.4 L297.4,204.9 L297.4,204.4 L297.5,202.9 L297.6,202.2 L297.7,201.7 L297.8,200.7 L297.8,200.3 L297.9,199.5 L298.0,198.7 L298.1,198.4 L298.1,197.6 L298.2,196.5 L298.3,196.5 L298.5,194.9 L298.6,194.1 L298.7,193.3 L298.8,193.2 L299.0,192.6 L299.1,191.5 L299.2,190.9 L299.3,190.1 L299.8,189.6 L300.2,188.4 L300.7,189.5 L301.2,190.3 L301.6,191.0 L302.2,192.0 L302.5,192.4 L302.8,192.7 L303.1,193.9 L303.5,194.9 L303.8,195.5 L304.2,195.9 L304.4,197.0 L304.6,196.9 L304.8,197.9 L305.0,199.0 L305.2,199.8 L305.4,200.1 L305.7,201.2 L305.9,201.5 L306.1,202.3 L306.3,203.1 L306.5,204.2 L306.7,204.6 L306.9,205.1 L307.1,206.1 L307.3,206.7 L307.5,207.1 L307.7,208.3 L307.9,209.0 L308.1,209.5 L308.3,210.4 L308.5,210.0 L308.9,211.4 L309.2,212.3 L309.6,212.7 L309.9,213.2 L310.2,214.2 L310.5,214.4 L311.0,215.3 L311.6,215.3 L312.0,215.9 L312.6,214.9 L313.1,214.1 L313.7,213.4 L314.1,213.0 L314.4,213.0 L314.9,211.7 L315.3,211.2 L315.7,210.4 L316.0,210.1 L316.4,209.3 L316.8,208.7 L317.2,208.4 L317.6,208.0 L318.0,207.2 L318.4,205.8 L319.0,205.6 L319.7,205.6 L320.4,204.2 L321.1,204.0 L321.8,203.9 L322.5,203.5 L323.2,203.6 L323.8,203.2 L324.5,202.4 L325.1,201.6 L325.8,201.3 L326.7,201.3 L327.7,201.3 L328.5,202.4 L328.9,202.2 L329.2,203.6 L329.5,204.0 L329.8,204.4 L329.9,205.4 L330.1,206.2 L330.2,206.2 L330.3,207.5 L330.5,207.8 L330.6,209.3 L330.7,209.4 L330.9,210.8 L331.0,212.0 L331.2,212.6 L331.4,212.8 L331.5,213.7 L331.7,214.1 L331.9,215.0 L332.1,216.2 L332.3,216.8 L332.4,217.0 L332.6,218.0 L332.8,218.9 L333.0,219.4 L333.2,220.6 L333.4,221.3 L333.5,221.8 L333.7,222.4 L333.8,223.4 L334.0,224.0 L334.1,224.6 L334.3,225.4 L334.4,226.1 L334.6,227.1 L334.7,227.7 L334.9,228.5 L335.0,229.2 L335.2,230.0 L335.4,230.5 L335.6,231.4 L335.8,232.4 L336.0,233.2 L336.1,233.9 L336.3,234.8 L336.5,235.5 L336.7,236.2 L336.9,236.8 L337.0,237.4 L337.2,237.9 L338.0,239.1 L338.5,239.3 L338.50,239.60 Z" fill="none" stroke="#d86a72" stroke-width="0.55"/>
<path d="M292.50,239.60 L292.5,239.3 L292.6,238.9 L292.7,238.4 L292.9,237.7 L293.1,237.1 L293.3,236.2 L293.5,235.5 L293.7,234.6 L293.9,233.8 L294.1,232.8 L294.3,232.0 L294.4,231.4 L294.5,230.8 L294.6,230.0 L294.8,229.5 L294.9,228.8 L295.0,227.8 L295.1,227.2 L295.2,226.6 L295.3,225.8 L295.4,224.9 L295.5,224.1 L295.6,223.7 L295.7,222.5 L295.8,222.1 L295.9,221.5 L296.0,220.3 L296.1,219.7 L296.2,219.0 L296.3,218.4 L296.3,217.5 L296.4,217.2 L296.5,216.5 L296.6,215.3 L296.7,215.0 L296.7,213.7 L296.8,213.0 L296.9,212.8 L297.0,212.3 L297.1,211.5 L297.2,210.8 L297.3,209.9 L297.4,208.5 L297.5,208.2 L297.6,207.7 L297.8,206.1 L297.9,205.8 L298.0,204.8 L298.1,204.2 L298.2,204.0 L298.4,203.3 L298.6,202.8 L298.9,201.2 L299.1,201.0 L299.3,201.0 L299.5,200.3 L300.0,199.2 L300.5,198.7 L301.2,199.3 L302.2,199.3 L302.8,200.0 L303.5,200.4 L304.3,200.6 L304.9,201.9 L305.1,202.0 L305.4,202.8 L305.6,203.9 L305.8,204.0 L306.0,204.8 L306.2,206.0 L306.4,206.7 L306.7,207.9 L306.9,208.0 L307.2,208.9 L307.5,209.4 L307.8,210.5 L308.1,211.1 L308.4,212.0 L308.7,213.0 L309.0,213.0 L309.3,214.3 L309.6,214.6 L310.3,215.6 L311.0,215.8 L311.6,215.8 L312.1,215.3 L312.6,214.7 L313.1,213.8 L313.7,212.8 L314.0,212.3 L314.3,211.7 L314.6,211.6 L314.9,210.8 L315.2,209.9 L315.5,208.6 L315.8,208.1 L316.1,207.7 L316.4,207.2 L316.7,206.1 L317.0,205.6 L317.3,205.2 L317.6,203.8 L317.8,203.3 L318.1,203.0 L318.4,201.8 L318.7,201.5 L319.0,200.4 L319.3,199.2 L319.6,199.0 L319.9,197.8 L320.2,197.9 L320.5,197.4 L320.9,196.3 L321.3,196.1 L321.7,194.8 L322.1,194.5 L322.5,193.6 L323.0,192.8 L323.5,193.0 L324.0,191.6 L324.5,192.0 L325.0,191.0 L325.5,190.7 L326.0,189.5 L326.5,189.9 L327.0,189.2 L327.5,187.9 L328.0,187.3 L328.5,186.6 L329.0,186.1 L329.4,184.7 L329.8,184.7 L330.2,184.3 L330.4,184.8 L330.5,184.7 L330.7,185.7 L330.9,186.1 L331.0,187.1 L331.2,187.8 L331.3,189.4 L331.5,190.4 L331.6,190.9 L331.7,190.9 L331.8,191.4 L331.8,192.0 L331.9,192.7 L332.0,194.3 L332.1,194.3 L332.2,195.7 L332.3,195.7 L332.4,196.9 L332.5,197.3 L332.6,198.2 L332.7,199.4 L332.8,200.1 L332.9,201.2 L333.0,201.2 L333.1,202.0 L333.2,202.5 L333.3,203.4 L333.4,204.9 L333.5,205.2 L333.7,205.8 L333.8,206.3 L333.9,207.5 L334.0,208.1 L334.2,208.3 L334.3,208.9 L334.4,209.7 L334.6,211.0 L334.7,211.7 L334.8,211.9 L335.0,212.6 L335.1,213.4 L335.2,214.4 L335.3,215.2 L335.5,215.5 L335.6,216.3 L335.7,216.9 L335.8,218.1 L336.0,218.6 L336.1,219.6 L336.2,219.9 L336.3,220.9 L336.5,221.6 L336.6,222.5 L336.7,223.0 L336.8,223.7 L336.9,224.7 L337.1,225.5 L337.2,226.0 L337.3,226.6 L337.4,227.2 L337.5,228.0 L337.7,228.8 L337.8,229.2 L337.9,229.8 L338.1,230.7 L338.3,231.5 L338.5,232.3 L338.7,233.2 L338.9,234.0 L339.1,234.7 L339.3,235.3 L339.5,236.0 L339.7,236.6 L339.9,237.1 L340.0,237.6 L340.2,238.0 L341.0,239.2 L341.5,239.3 L341.50,239.60 Z" fill="none" stroke="#36aec4" stroke-width="0.55"/>
</g>
<line x1="278.3" y1="179.7" x2="278.3" y2="239.6" stroke="#777" stroke-width="0.6"/>
<line x1="277" y1="239.6" x2="278.3" y2="239.6" stroke="#444" stroke-width="0.7"/>
<text x="276.1" y="240.5" font-size="2.6" text-anchor="end" fill="#555">0</text>
<line x1="277.6" y1="236.95" x2="278.3" y2="236.95" stroke="#888" stroke-width="0.4"/>
<line x1="277.6" y1="234.31" x2="278.3" y2="234.31" stroke="#888" stroke-width="0.4"/>
<line x1="277.6" y1="231.66" x2="278.3" y2="231.66" stroke="#888" stroke-width="0.4"/>
<line x1="277.6" y1="229.02" x2="278.3" y2="229.02" stroke="#888" stroke-width="0.4"/>
<line x1="277" y1="226.38" x2="278.3" y2="226.38" stroke="#444" stroke-width="0.7"/>
<text x="276.1" y="227.28" font-size="2.6" text-anchor="end" fill="#555">40.0</text>
<line x1="277.6" y1="223.73" x2="278.3" y2="223.73" stroke="#888" stroke-width="0.4"/>
<line x1="277.6" y1="221.09" x2="278.3" y2="221.09" stroke="#888" stroke-width="0.4"/>
<line x1="277.6" y1="218.44" x2="278.3" y2="218.44" stroke="#888" stroke-width="0.4"/>
<line x1="277.6" y1="215.79" x2="278.3" y2="215.79" stroke="#888" stroke-width="0.4"/>
<line x1="277" y1="213.15" x2="278.3" y2="213.15" stroke="#444" stroke-width="0.7"/>
<text x="276.1" y="214.05" font-size="2.6" text-anchor="end" fill="#555">80.0</text>
<line x1="277.6" y1="210.5" x2="278.3" y2="210.5" stroke="#888" stroke-width="0.4"/>
<line x1="277.6" y1="207.86" x2="278.3" y2="207.86" stroke="#888" stroke-width="0.4"/>
<line x1="277.6" y1="205.21" x2="278.3" y2="205.21" stroke="#888" stroke-width="0.4"/>
<line x1="277.6" y1="202.57" x2="278.3" y2="202.57" stroke="#888" stroke-width="0.4"/>
<line x1="277" y1="199.92" x2="278.3" y2="199.92" stroke="#444" stroke-width="0.7"/>
<text x="276.1" y="200.82" font-size="2.6" text-anchor="end" fill="#555">120</text>
<line x1="277.6" y1="197.28" x2="278.3" y2="197.28" stroke="#888" stroke-width="0.4"/>
<line x1="277.6" y1="194.63" x2="278.3" y2="194.63" stroke="#888" stroke-width="0.4"/>
<line x1="277.6" y1="191.99" x2="278.3" y2="191.99" stroke="#888" stroke-width="0.4"/>
<line x1="277.6" y1="189.34" x2="278.3" y2="189.34" stroke="#888" stroke-width="0.4"/>
<line x1="277" y1="186.7" x2="278.3" y2="186.7" stroke="#444" stroke-width="0.7"/>
<text x="276.1" y="187.6" font-size="2.6" text-anchor="end" fill="#555">160</text>
<text x="264.3" y="208.65" font-size="3" text-anchor="middle" fill="#666" transform="rotate(-90 264.3 208.65)">Count</text>
<line x1="278.3" y1="239.6" x2="348.5" y2="239.6" stroke="#222" stroke-width="0.8"/>
<line x1="284.27" y1="239.6" x2="284.27" y2="241.2" stroke="#111" stroke-width="0.8"/>
<text x="284.27" y="245.6" font-size="2.9" text-anchor="middle" fill="#555">-10<tspan font-size="1.8" dy="-1">3</tspan></text>
<line x1="294.45" y1="239.6" x2="294.45" y2="241.2" stroke="#111" stroke-width="0.8"/>
<text x="294.45" y="245.6" font-size="2.9" text-anchor="middle" fill="#555">0</text>
<line x1="307.08" y1="239.6" x2="307.08" y2="241.2" stroke="#111" stroke-width="0.8"/>
<text x="307.08" y="245.6" font-size="2.9" text-anchor="middle" fill="#555">10<tspan font-size="1.8" dy="-1">3</tspan></text>
<line x1="326.74" y1="239.6" x2="326.74" y2="241.2" stroke="#111" stroke-width="0.8"/>
<text x="326.74" y="245.6" font-size="2.9" text-anchor="middle" fill="#555">10<tspan font-size="1.8" dy="-1">4</tspan></text>
<line x1="343.94" y1="239.6" x2="343.94" y2="241.2" stroke="#111" stroke-width="0.8"/>
<text x="343.94" y="245.6" font-size="2.9" text-anchor="middle" fill="#555">10<tspan font-size="1.8" dy="-1">5</tspan></text>
<line x1="286.72" y1="239.6" x2="286.72" y2="240.6" stroke="#333" stroke-width="0.5"/>
<line x1="289.53" y1="239.6" x2="289.53" y2="240.6" stroke="#333" stroke-width="0.5"/>
<line x1="292.34" y1="239.6" x2="292.34" y2="240.6" stroke="#333" stroke-width="0.5"/>
<line x1="297.96" y1="239.6" x2="297.96" y2="240.6" stroke="#333" stroke-width="0.5"/>
<line x1="300.76" y1="239.6" x2="300.76" y2="240.6" stroke="#333" stroke-width="0.5"/>
<line x1="303.57" y1="239.6" x2="303.57" y2="240.6" stroke="#333" stroke-width="0.5"/>
<line x1="314.8" y1="239.6" x2="314.8" y2="240.6" stroke="#333" stroke-width="0.5"/>
<line x1="318.31" y1="239.6" x2="318.31" y2="240.6" stroke="#333" stroke-width="0.5"/>
<line x1="321.82" y1="239.6" x2="321.82" y2="240.6" stroke="#333" stroke-width="0.5"/>
<line x1="333.76" y1="239.6" x2="333.76" y2="240.6" stroke="#333" stroke-width="0.5"/>
<line x1="337.27" y1="239.6" x2="337.27" y2="240.6" stroke="#333" stroke-width="0.5"/>
<line x1="340.78" y1="239.6" x2="340.78" y2="240.6" stroke="#333" stroke-width="0.5"/>
<rect x="292.34" y="239.8" width="2.2" height="1.6" fill="#111"/>
<text x="313.4" y="250.6" font-size="3.2" text-anchor="middle" fill="#555">Comp-PE-A</text>
<rect x="380.2" y="178" width="70.2" height="61.2" fill="#fff" stroke="#d4d4d4" stroke-width="0.6"/>
<clipPath id="bx4"><rect x="380.2" y="178" width="70.2" height="61.2"/></clipPath>
<clipPath id="rc4"><path d="M398.50,239.20 L398.5,238.8 L398.7,238.4 L399.0,237.8 L399.4,237.2 L399.8,236.5 L400.3,235.8 L400.7,235.1 L401.0,234.5 L401.4,233.9 L401.7,233.2 L402.1,232.8 L402.4,232.0 L402.9,231.2 L403.2,230.8 L403.4,230.1 L403.7,229.5 L404.0,228.8 L404.4,228.2 L404.7,227.4 L405.0,226.5 L405.3,225.9 L405.7,225.2 L405.9,224.6 L406.2,223.8 L406.5,222.9 L406.7,222.4 L406.9,221.5 L407.1,220.9 L407.3,220.1 L407.5,219.4 L407.7,219.0 L407.9,218.0 L408.1,217.4 L408.3,216.6 L408.5,215.8 L408.6,215.2 L408.8,214.3 L408.9,213.7 L409.1,213.1 L409.2,211.8 L409.4,211.8 L409.5,210.5 L409.7,209.5 L409.8,208.8 L410.0,208.2 L410.1,207.2 L410.3,206.9 L410.5,206.1 L410.7,205.6 L410.9,204.7 L411.1,204.5 L411.2,203.5 L411.4,202.4 L411.6,202.3 L411.8,201.4 L412.0,200.9 L412.1,199.9 L412.3,199.4 L412.4,197.9 L412.5,197.2 L412.7,197.2 L412.8,195.4 L412.9,195.6 L413.0,194.7 L413.1,193.1 L413.2,192.3 L413.3,192.4 L413.3,191.8 L413.4,191.0 L413.5,190.3 L413.6,189.8 L413.9,188.0 L414.1,187.0 L414.3,187.1 L414.5,186.9 L414.9,186.1 L415.3,185.2 L415.9,185.0 L416.5,186.1 L416.8,187.0 L417.1,187.4 L417.3,187.9 L417.7,189.2 L417.9,190.1 L418.1,190.3 L418.3,191.0 L418.6,191.8 L418.8,192.4 L419.1,194.1 L419.3,195.0 L419.5,195.1 L419.7,196.3 L419.8,197.3 L419.9,197.2 L420.0,197.9 L420.1,199.2 L420.2,199.7 L420.3,200.2 L420.4,201.1 L420.5,201.6 L420.6,202.1 L420.7,203.3 L420.8,204.3 L420.9,204.1 L421.0,205.1 L421.1,205.7 L421.2,207.1 L421.3,207.2 L421.5,208.4 L421.6,208.9 L421.7,209.7 L421.8,210.6 L422.0,211.7 L422.1,212.3 L422.2,212.8 L422.3,213.4 L422.5,214.3 L422.6,215.1 L422.7,215.9 L422.8,216.8 L423.0,217.2 L423.1,218.4 L423.3,219.2 L423.4,219.6 L423.5,220.2 L423.7,220.9 L423.8,222.0 L423.9,222.2 L424.1,223.2 L424.2,223.9 L424.4,224.3 L424.6,225.0 L424.7,226.0 L424.9,226.6 L425.1,227.5 L425.3,228.4 L425.5,229.0 L425.6,229.7 L425.8,230.3 L426.0,231.1 L426.2,231.8 L426.4,232.4 L426.6,233.3 L426.9,234.2 L427.2,235.0 L427.4,235.7 L427.7,236.5 L428.0,237.3 L428.2,237.8 L428.4,238.4 L428.5,238.8 L428.50,239.20 Z"/></clipPath>
<g clip-path="url(#bx4)">
<path d="M398.50,239.20 L398.5,238.8 L398.7,238.4 L399.0,237.8 L399.4,237.2 L399.8,236.5 L400.3,235.8 L400.7,235.1 L401.0,234.5 L401.4,233.9 L401.7,233.2 L402.1,232.8 L402.4,232.0 L402.9,231.2 L403.2,230.8 L403.4,230.1 L403.7,229.5 L404.0,228.8 L404.4,228.2 L404.7,227.4 L405.0,226.5 L405.3,225.9 L405.7,225.2 L405.9,224.6 L406.2,223.8 L406.5,222.9 L406.7,222.4 L406.9,221.5 L407.1,220.9 L407.3,220.1 L407.5,219.4 L407.7,219.0 L407.9,218.0 L408.1,217.4 L408.3,216.6 L408.5,215.8 L408.6,215.2 L408.8,214.3 L408.9,213.7 L409.1,213.1 L409.2,211.8 L409.4,211.8 L409.5,210.5 L409.7,209.5 L409.8,208.8 L410.0,208.2 L410.1,207.2 L410.3,206.9 L410.5,206.1 L410.7,205.6 L410.9,204.7 L411.1,204.5 L411.2,203.5 L411.4,202.4 L411.6,202.3 L411.8,201.4 L412.0,200.9 L412.1,199.9 L412.3,199.4 L412.4,197.9 L412.5,197.2 L412.7,197.2 L412.8,195.4 L412.9,195.6 L413.0,194.7 L413.1,193.1 L413.2,192.3 L413.3,192.4 L413.3,191.8 L413.4,191.0 L413.5,190.3 L413.6,189.8 L413.9,188.0 L414.1,187.0 L414.3,187.1 L414.5,186.9 L414.9,186.1 L415.3,185.2 L415.9,185.0 L416.5,186.1 L416.8,187.0 L417.1,187.4 L417.3,187.9 L417.7,189.2 L417.9,190.1 L418.1,190.3 L418.3,191.0 L418.6,191.8 L418.8,192.4 L419.1,194.1 L419.3,195.0 L419.5,195.1 L419.7,196.3 L419.8,197.3 L419.9,197.2 L420.0,197.9 L420.1,199.2 L420.2,199.7 L420.3,200.2 L420.4,201.1 L420.5,201.6 L420.6,202.1 L420.7,203.3 L420.8,204.3 L420.9,204.1 L421.0,205.1 L421.1,205.7 L421.2,207.1 L421.3,207.2 L421.5,208.4 L421.6,208.9 L421.7,209.7 L421.8,210.6 L422.0,211.7 L422.1,212.3 L422.2,212.8 L422.3,213.4 L422.5,214.3 L422.6,215.1 L422.7,215.9 L422.8,216.8 L423.0,217.2 L423.1,218.4 L423.3,219.2 L423.4,219.6 L423.5,220.2 L423.7,220.9 L423.8,222.0 L423.9,222.2 L424.1,223.2 L424.2,223.9 L424.4,224.3 L424.6,225.0 L424.7,226.0 L424.9,226.6 L425.1,227.5 L425.3,228.4 L425.5,229.0 L425.6,229.7 L425.8,230.3 L426.0,231.1 L426.2,231.8 L426.4,232.4 L426.6,233.3 L426.9,234.2 L427.2,235.0 L427.4,235.7 L427.7,236.5 L428.0,237.3 L428.2,237.8 L428.4,238.4 L428.5,238.8 L428.50,239.20 Z" fill="#f69494"/>
<path d="M398.00,239.20 L398.0,238.8 L398.3,238.4 L398.8,237.8 L399.3,237.1 L399.9,236.4 L400.5,235.6 L401.0,234.9 L401.4,234.4 L401.8,234.0 L402.2,233.4 L402.7,233.0 L403.1,232.4 L403.6,231.7 L404.2,231.2 L404.7,230.7 L405.2,230.2 L405.7,229.8 L406.3,228.9 L406.9,228.3 L407.4,228.0 L408.0,227.2 L408.6,226.6 L409.1,226.2 L409.6,225.7 L410.4,225.4 L411.1,224.6 L411.8,224.1 L412.4,223.9 L413.0,223.5 L413.6,223.3 L414.2,222.8 L414.8,222.1 L415.3,221.5 L415.8,221.3 L416.3,220.7 L416.6,219.6 L416.9,219.4 L417.1,218.9 L417.4,218.1 L417.7,217.1 L417.9,216.8 L418.2,216.0 L418.4,214.8 L418.6,214.5 L418.7,213.5 L418.9,212.6 L419.1,212.1 L419.2,211.4 L419.4,210.7 L419.6,210.2 L419.7,209.6 L419.8,208.9 L420.0,208.2 L420.1,207.5 L420.2,206.6 L420.3,205.3 L420.4,204.4 L420.5,204.1 L420.5,203.3 L420.6,202.7 L420.7,201.3 L420.7,200.7 L420.8,200.8 L420.9,199.7 L421.0,199.1 L421.1,197.6 L421.3,197.2 L421.4,197.0 L421.6,196.0 L421.8,195.6 L421.9,194.1 L422.1,193.6 L422.2,193.3 L422.4,192.1 L422.5,191.7 L422.7,190.7 L422.8,189.3 L423.0,188.5 L423.1,188.6 L423.3,186.9 L423.4,186.3 L423.6,185.8 L423.7,185.6 L424.1,184.5 L424.4,183.4 L424.8,183.4 L425.0,184.0 L425.2,183.9 L425.5,184.6 L425.7,185.6 L425.9,186.5 L426.2,186.7 L426.4,187.7 L426.5,188.3 L426.7,189.6 L426.8,190.2 L426.9,191.2 L427.1,191.7 L427.2,191.9 L427.3,193.2 L427.4,194.2 L427.6,194.4 L427.7,194.8 L427.8,196.1 L427.9,196.6 L428.0,197.2 L428.1,197.7 L428.2,198.5 L428.2,200.1 L428.3,199.9 L428.4,201.3 L428.5,201.6 L428.6,202.3 L428.7,203.8 L428.7,203.9 L428.8,204.5 L428.9,205.6 L429.0,206.5 L429.1,207.0 L429.2,208.1 L429.3,208.4 L429.4,209.3 L429.5,210.2 L429.6,210.7 L429.7,211.7 L429.9,212.2 L430.0,212.6 L430.1,213.3 L430.2,214.6 L430.3,215.2 L430.4,216.1 L430.5,216.5 L430.6,217.2 L430.7,217.7 L430.8,218.9 L431.0,219.2 L431.1,220.1 L431.2,220.7 L431.3,221.6 L431.4,222.2 L431.5,223.0 L431.7,223.9 L431.8,224.5 L432.0,225.1 L432.1,226.1 L432.3,226.9 L432.5,227.7 L432.7,228.2 L432.8,229.1 L433.0,230.0 L433.2,230.5 L433.4,231.2 L433.6,232.0 L433.8,232.5 L434.1,233.4 L434.4,234.2 L434.7,234.9 L435.0,235.5 L435.3,236.2 L435.6,236.7 L435.9,237.2 L436.5,238.0 L437.1,238.5 L437.5,238.8 L437.50,239.20 Z" fill="#80e0f0"/>
<path d="M398.00,239.20 L398.0,238.8 L398.3,238.4 L398.8,237.8 L399.3,237.1 L399.9,236.4 L400.5,235.6 L401.0,234.9 L401.4,234.4 L401.8,234.0 L402.2,233.4 L402.7,233.0 L403.1,232.4 L403.6,231.7 L404.2,231.2 L404.7,230.7 L405.2,230.2 L405.7,229.8 L406.3,228.9 L406.9,228.3 L407.4,228.0 L408.0,227.2 L408.6,226.6 L409.1,226.2 L409.6,225.7 L410.4,225.4 L411.1,224.6 L411.8,224.1 L412.4,223.9 L413.0,223.5 L413.6,223.3 L414.2,222.8 L414.8,222.1 L415.3,221.5 L415.8,221.3 L416.3,220.7 L416.6,219.6 L416.9,219.4 L417.1,218.9 L417.4,218.1 L417.7,217.1 L417.9,216.8 L418.2,216.0 L418.4,214.8 L418.6,214.5 L418.7,213.5 L418.9,212.6 L419.1,212.1 L419.2,211.4 L419.4,210.7 L419.6,210.2 L419.7,209.6 L419.8,208.9 L420.0,208.2 L420.1,207.5 L420.2,206.6 L420.3,205.3 L420.4,204.4 L420.5,204.1 L420.5,203.3 L420.6,202.7 L420.7,201.3 L420.7,200.7 L420.8,200.8 L420.9,199.7 L421.0,199.1 L421.1,197.6 L421.3,197.2 L421.4,197.0 L421.6,196.0 L421.8,195.6 L421.9,194.1 L422.1,193.6 L422.2,193.3 L422.4,192.1 L422.5,191.7 L422.7,190.7 L422.8,189.3 L423.0,188.5 L423.1,188.6 L423.3,186.9 L423.4,186.3 L423.6,185.8 L423.7,185.6 L424.1,184.5 L424.4,183.4 L424.8,183.4 L425.0,184.0 L425.2,183.9 L425.5,184.6 L425.7,185.6 L425.9,186.5 L426.2,186.7 L426.4,187.7 L426.5,188.3 L426.7,189.6 L426.8,190.2 L426.9,191.2 L427.1,191.7 L427.2,191.9 L427.3,193.2 L427.4,194.2 L427.6,194.4 L427.7,194.8 L427.8,196.1 L427.9,196.6 L428.0,197.2 L428.1,197.7 L428.2,198.5 L428.2,200.1 L428.3,199.9 L428.4,201.3 L428.5,201.6 L428.6,202.3 L428.7,203.8 L428.7,203.9 L428.8,204.5 L428.9,205.6 L429.0,206.5 L429.1,207.0 L429.2,208.1 L429.3,208.4 L429.4,209.3 L429.5,210.2 L429.6,210.7 L429.7,211.7 L429.9,212.2 L430.0,212.6 L430.1,213.3 L430.2,214.6 L430.3,215.2 L430.4,216.1 L430.5,216.5 L430.6,217.2 L430.7,217.7 L430.8,218.9 L431.0,219.2 L431.1,220.1 L431.2,220.7 L431.3,221.6 L431.4,222.2 L431.5,223.0 L431.7,223.9 L431.8,224.5 L432.0,225.1 L432.1,226.1 L432.3,226.9 L432.5,227.7 L432.7,228.2 L432.8,229.1 L433.0,230.0 L433.2,230.5 L433.4,231.2 L433.6,232.0 L433.8,232.5 L434.1,233.4 L434.4,234.2 L434.7,234.9 L435.0,235.5 L435.3,236.2 L435.6,236.7 L435.9,237.2 L436.5,238.0 L437.1,238.5 L437.5,238.8 L437.50,239.20 Z" fill="#8fb0c6" clip-path="url(#rc4)"/>
<path d="M398.50,239.20 L398.5,238.8 L398.7,238.4 L399.0,237.8 L399.4,237.2 L399.8,236.5 L400.3,235.8 L400.7,235.1 L401.0,234.5 L401.4,233.9 L401.7,233.2 L402.1,232.8 L402.4,232.0 L402.9,231.2 L403.2,230.8 L403.4,230.1 L403.7,229.5 L404.0,228.8 L404.4,228.2 L404.7,227.4 L405.0,226.5 L405.3,225.9 L405.7,225.2 L405.9,224.6 L406.2,223.8 L406.5,222.9 L406.7,222.4 L406.9,221.5 L407.1,220.9 L407.3,220.1 L407.5,219.4 L407.7,219.0 L407.9,218.0 L408.1,217.4 L408.3,216.6 L408.5,215.8 L408.6,215.2 L408.8,214.3 L408.9,213.7 L409.1,213.1 L409.2,211.8 L409.4,211.8 L409.5,210.5 L409.7,209.5 L409.8,208.8 L410.0,208.2 L410.1,207.2 L410.3,206.9 L410.5,206.1 L410.7,205.6 L410.9,204.7 L411.1,204.5 L411.2,203.5 L411.4,202.4 L411.6,202.3 L411.8,201.4 L412.0,200.9 L412.1,199.9 L412.3,199.4 L412.4,197.9 L412.5,197.2 L412.7,197.2 L412.8,195.4 L412.9,195.6 L413.0,194.7 L413.1,193.1 L413.2,192.3 L413.3,192.4 L413.3,191.8 L413.4,191.0 L413.5,190.3 L413.6,189.8 L413.9,188.0 L414.1,187.0 L414.3,187.1 L414.5,186.9 L414.9,186.1 L415.3,185.2 L415.9,185.0 L416.5,186.1 L416.8,187.0 L417.1,187.4 L417.3,187.9 L417.7,189.2 L417.9,190.1 L418.1,190.3 L418.3,191.0 L418.6,191.8 L418.8,192.4 L419.1,194.1 L419.3,195.0 L419.5,195.1 L419.7,196.3 L419.8,197.3 L419.9,197.2 L420.0,197.9 L420.1,199.2 L420.2,199.7 L420.3,200.2 L420.4,201.1 L420.5,201.6 L420.6,202.1 L420.7,203.3 L420.8,204.3 L420.9,204.1 L421.0,205.1 L421.1,205.7 L421.2,207.1 L421.3,207.2 L421.5,208.4 L421.6,208.9 L421.7,209.7 L421.8,210.6 L422.0,211.7 L422.1,212.3 L422.2,212.8 L422.3,213.4 L422.5,214.3 L422.6,215.1 L422.7,215.9 L422.8,216.8 L423.0,217.2 L423.1,218.4 L423.3,219.2 L423.4,219.6 L423.5,220.2 L423.7,220.9 L423.8,222.0 L423.9,222.2 L424.1,223.2 L424.2,223.9 L424.4,224.3 L424.6,225.0 L424.7,226.0 L424.9,226.6 L425.1,227.5 L425.3,228.4 L425.5,229.0 L425.6,229.7 L425.8,230.3 L426.0,231.1 L426.2,231.8 L426.4,232.4 L426.6,233.3 L426.9,234.2 L427.2,235.0 L427.4,235.7 L427.7,236.5 L428.0,237.3 L428.2,237.8 L428.4,238.4 L428.5,238.8 L428.50,239.20 Z" fill="none" stroke="#d86a72" stroke-width="0.55"/>
<path d="M398.00,239.20 L398.0,238.8 L398.3,238.4 L398.8,237.8 L399.3,237.1 L399.9,236.4 L400.5,235.6 L401.0,234.9 L401.4,234.4 L401.8,234.0 L402.2,233.4 L402.7,233.0 L403.1,232.4 L403.6,231.7 L404.2,231.2 L404.7,230.7 L405.2,230.2 L405.7,229.8 L406.3,228.9 L406.9,228.3 L407.4,228.0 L408.0,227.2 L408.6,226.6 L409.1,226.2 L409.6,225.7 L410.4,225.4 L411.1,224.6 L411.8,224.1 L412.4,223.9 L413.0,223.5 L413.6,223.3 L414.2,222.8 L414.8,222.1 L415.3,221.5 L415.8,221.3 L416.3,220.7 L416.6,219.6 L416.9,219.4 L417.1,218.9 L417.4,218.1 L417.7,217.1 L417.9,216.8 L418.2,216.0 L418.4,214.8 L418.6,214.5 L418.7,213.5 L418.9,212.6 L419.1,212.1 L419.2,211.4 L419.4,210.7 L419.6,210.2 L419.7,209.6 L419.8,208.9 L420.0,208.2 L420.1,207.5 L420.2,206.6 L420.3,205.3 L420.4,204.4 L420.5,204.1 L420.5,203.3 L420.6,202.7 L420.7,201.3 L420.7,200.7 L420.8,200.8 L420.9,199.7 L421.0,199.1 L421.1,197.6 L421.3,197.2 L421.4,197.0 L421.6,196.0 L421.8,195.6 L421.9,194.1 L422.1,193.6 L422.2,193.3 L422.4,192.1 L422.5,191.7 L422.7,190.7 L422.8,189.3 L423.0,188.5 L423.1,188.6 L423.3,186.9 L423.4,186.3 L423.6,185.8 L423.7,185.6 L424.1,184.5 L424.4,183.4 L424.8,183.4 L425.0,184.0 L425.2,183.9 L425.5,184.6 L425.7,185.6 L425.9,186.5 L426.2,186.7 L426.4,187.7 L426.5,188.3 L426.7,189.6 L426.8,190.2 L426.9,191.2 L427.1,191.7 L427.2,191.9 L427.3,193.2 L427.4,194.2 L427.6,194.4 L427.7,194.8 L427.8,196.1 L427.9,196.6 L428.0,197.2 L428.1,197.7 L428.2,198.5 L428.2,200.1 L428.3,199.9 L428.4,201.3 L428.5,201.6 L428.6,202.3 L428.7,203.8 L428.7,203.9 L428.8,204.5 L428.9,205.6 L429.0,206.5 L429.1,207.0 L429.2,208.1 L429.3,208.4 L429.4,209.3 L429.5,210.2 L429.6,210.7 L429.7,211.7 L429.9,212.2 L430.0,212.6 L430.1,213.3 L430.2,214.6 L430.3,215.2 L430.4,216.1 L430.5,216.5 L430.6,217.2 L430.7,217.7 L430.8,218.9 L431.0,219.2 L431.1,220.1 L431.2,220.7 L431.3,221.6 L431.4,222.2 L431.5,223.0 L431.7,223.9 L431.8,224.5 L432.0,225.1 L432.1,226.1 L432.3,226.9 L432.5,227.7 L432.7,228.2 L432.8,229.1 L433.0,230.0 L433.2,230.5 L433.4,231.2 L433.6,232.0 L433.8,232.5 L434.1,233.4 L434.4,234.2 L434.7,234.9 L435.0,235.5 L435.3,236.2 L435.6,236.7 L435.9,237.2 L436.5,238.0 L437.1,238.5 L437.5,238.8 L437.50,239.20 Z" fill="none" stroke="#36aec4" stroke-width="0.55"/>
</g>
<line x1="380.2" y1="180" x2="380.2" y2="239.2" stroke="#777" stroke-width="0.6"/>
<line x1="378.9" y1="239.2" x2="380.2" y2="239.2" stroke="#444" stroke-width="0.7"/>
<text x="378" y="240.1" font-size="2.6" text-anchor="end" fill="#555">0</text>
<line x1="379.5" y1="236.25" x2="380.2" y2="236.25" stroke="#888" stroke-width="0.4"/>
<line x1="379.5" y1="233.3" x2="380.2" y2="233.3" stroke="#888" stroke-width="0.4"/>
<line x1="379.5" y1="230.35" x2="380.2" y2="230.35" stroke="#888" stroke-width="0.4"/>
<line x1="379.5" y1="227.4" x2="380.2" y2="227.4" stroke="#888" stroke-width="0.4"/>
<line x1="378.9" y1="224.45" x2="380.2" y2="224.45" stroke="#444" stroke-width="0.7"/>
<text x="378" y="225.35" font-size="2.6" text-anchor="end" fill="#555">100</text>
<line x1="379.5" y1="221.5" x2="380.2" y2="221.5" stroke="#888" stroke-width="0.4"/>
<line x1="379.5" y1="218.55" x2="380.2" y2="218.55" stroke="#888" stroke-width="0.4"/>
<line x1="379.5" y1="215.6" x2="380.2" y2="215.6" stroke="#888" stroke-width="0.4"/>
<line x1="379.5" y1="212.65" x2="380.2" y2="212.65" stroke="#888" stroke-width="0.4"/>
<line x1="378.9" y1="209.7" x2="380.2" y2="209.7" stroke="#444" stroke-width="0.7"/>
<text x="378" y="210.6" font-size="2.6" text-anchor="end" fill="#555">200</text>
<line x1="379.5" y1="206.75" x2="380.2" y2="206.75" stroke="#888" stroke-width="0.4"/>
<line x1="379.5" y1="203.8" x2="380.2" y2="203.8" stroke="#888" stroke-width="0.4"/>
<line x1="379.5" y1="200.85" x2="380.2" y2="200.85" stroke="#888" stroke-width="0.4"/>
<line x1="379.5" y1="197.9" x2="380.2" y2="197.9" stroke="#888" stroke-width="0.4"/>
<line x1="378.9" y1="194.95" x2="380.2" y2="194.95" stroke="#444" stroke-width="0.7"/>
<text x="378" y="195.85" font-size="2.6" text-anchor="end" fill="#555">300</text>
<line x1="379.5" y1="192" x2="380.2" y2="192" stroke="#888" stroke-width="0.4"/>
<line x1="379.5" y1="189.05" x2="380.2" y2="189.05" stroke="#888" stroke-width="0.4"/>
<line x1="379.5" y1="186.1" x2="380.2" y2="186.1" stroke="#888" stroke-width="0.4"/>
<line x1="379.5" y1="183.15" x2="380.2" y2="183.15" stroke="#888" stroke-width="0.4"/>
<line x1="378.9" y1="180.2" x2="380.2" y2="180.2" stroke="#444" stroke-width="0.7"/>
<text x="378" y="181.1" font-size="2.6" text-anchor="end" fill="#555">400</text>
<text x="366.2" y="208.6" font-size="3" text-anchor="middle" fill="#666" transform="rotate(-90 366.2 208.6)">Count</text>
<line x1="380.2" y1="239.2" x2="450.4" y2="239.2" stroke="#222" stroke-width="0.8"/>
<line x1="386.17" y1="239.2" x2="386.17" y2="240.8" stroke="#111" stroke-width="0.8"/>
<text x="386.17" y="245.2" font-size="2.9" text-anchor="middle" fill="#555">-10<tspan font-size="1.8" dy="-1">3</tspan></text>
<line x1="396.35" y1="239.2" x2="396.35" y2="240.8" stroke="#111" stroke-width="0.8"/>
<text x="396.35" y="245.2" font-size="2.9" text-anchor="middle" fill="#555">0</text>
<line x1="408.98" y1="239.2" x2="408.98" y2="240.8" stroke="#111" stroke-width="0.8"/>
<text x="408.98" y="245.2" font-size="2.9" text-anchor="middle" fill="#555">10<tspan font-size="1.8" dy="-1">3</tspan></text>
<line x1="428.64" y1="239.2" x2="428.64" y2="240.8" stroke="#111" stroke-width="0.8"/>
<text x="428.64" y="245.2" font-size="2.9" text-anchor="middle" fill="#555">10<tspan font-size="1.8" dy="-1">4</tspan></text>
<line x1="445.84" y1="239.2" x2="445.84" y2="240.8" stroke="#111" stroke-width="0.8"/>
<text x="445.84" y="245.2" font-size="2.9" text-anchor="middle" fill="#555">10<tspan font-size="1.8" dy="-1">5</tspan></text>
<line x1="388.62" y1="239.2" x2="388.62" y2="240.2" stroke="#333" stroke-width="0.5"/>
<line x1="391.43" y1="239.2" x2="391.43" y2="240.2" stroke="#333" stroke-width="0.5"/>
<line x1="394.24" y1="239.2" x2="394.24" y2="240.2" stroke="#333" stroke-width="0.5"/>
<line x1="399.86" y1="239.2" x2="399.86" y2="240.2" stroke="#333" stroke-width="0.5"/>
<line x1="402.66" y1="239.2" x2="402.66" y2="240.2" stroke="#333" stroke-width="0.5"/>
<line x1="405.47" y1="239.2" x2="405.47" y2="240.2" stroke="#333" stroke-width="0.5"/>
<line x1="416.7" y1="239.2" x2="416.7" y2="240.2" stroke="#333" stroke-width="0.5"/>
<line x1="420.21" y1="239.2" x2="420.21" y2="240.2" stroke="#333" stroke-width="0.5"/>
<line x1="423.72" y1="239.2" x2="423.72" y2="240.2" stroke="#333" stroke-width="0.5"/>
<line x1="435.66" y1="239.2" x2="435.66" y2="240.2" stroke="#333" stroke-width="0.5"/>
<line x1="439.17" y1="239.2" x2="439.17" y2="240.2" stroke="#333" stroke-width="0.5"/>
<line x1="442.68" y1="239.2" x2="442.68" y2="240.2" stroke="#333" stroke-width="0.5"/>
<rect x="394.24" y="239.4" width="2.2" height="1.6" fill="#111"/>
<text x="415.3" y="250.2" font-size="3.2" text-anchor="middle" fill="#555">Comp-PE-A</text>
<line x1="46.2" y1="253.1" x2="446.5" y2="253.1" stroke="#444" stroke-width="1.4"/>
<polygon points="445.6,250.6 452.4,253.1 445.6,255.7" fill="#000"/>
<text x="17" y="256.6" font-size="10.4" fill="#1a1a1a" stroke="#1a1a1a" stroke-width="0.18">CD22</text>
<rect x="78.3" y="270.6" width="65.4" height="60.6" fill="#fff" stroke="#d4d4d4" stroke-width="0.6"/>
<clipPath id="bx5"><rect x="78.3" y="270.6" width="65.4" height="60.6"/></clipPath>
<clipPath id="rc5"><path d="M125.50,331.20 L125.5,331.0 L125.9,330.7 L126.4,330.3 L127.0,329.7 L127.5,329.0 L127.8,328.5 L128.0,327.9 L128.3,327.2 L128.5,326.6 L128.8,325.8 L129.0,325.0 L129.2,324.4 L129.3,323.7 L129.5,323.0 L129.6,322.3 L129.8,321.7 L129.9,320.9 L130.1,319.8 L130.2,319.1 L130.3,318.5 L130.4,317.7 L130.4,316.9 L130.5,316.3 L130.6,315.8 L130.7,314.9 L130.7,313.9 L130.8,313.5 L130.9,312.4 L130.9,312.0 L131.0,310.6 L131.1,310.1 L131.2,309.3 L131.2,309.1 L131.3,307.8 L131.3,307.6 L131.4,306.6 L131.4,305.8 L131.5,304.9 L131.6,304.4 L131.6,304.1 L131.7,303.4 L131.7,302.6 L131.8,301.6 L131.9,300.5 L131.9,300.0 L132.0,299.5 L132.0,298.4 L132.1,298.5 L132.2,296.8 L132.2,296.1 L132.3,295.3 L132.4,294.5 L132.4,293.7 L132.5,293.1 L132.6,292.5 L132.7,292.4 L132.7,291.3 L132.8,290.7 L132.9,289.7 L132.9,288.9 L133.0,288.7 L133.1,288.3 L133.2,286.6 L133.4,286.4 L133.5,285.1 L133.6,284.9 L133.8,283.8 L133.9,282.9 L134.0,282.3 L134.2,282.4 L134.3,281.5 L134.6,279.9 L134.8,279.9 L135.1,278.6 L135.4,278.1 L136.0,277.5 L136.6,278.1 L137.1,278.4 L137.6,279.9 L137.7,279.7 L137.8,280.5 L137.8,280.6 L137.9,281.9 L138.0,282.2 L138.1,283.1 L138.2,283.7 L138.3,285.1 L138.3,286.1 L138.4,286.0 L138.5,287.2 L138.6,287.6 L138.7,288.9 L138.7,289.8 L138.8,289.6 L138.9,290.9 L139.0,291.2 L139.0,292.0 L139.1,292.9 L139.2,293.4 L139.2,294.4 L139.3,294.8 L139.4,295.7 L139.5,296.3 L139.5,297.1 L139.6,297.6 L139.7,298.5 L139.7,298.9 L139.8,300.1 L139.8,300.6 L139.9,301.3 L140.0,302.5 L140.0,302.5 L140.1,303.5 L140.1,304.3 L140.2,305.1 L140.2,305.9 L140.3,306.3 L140.4,307.5 L140.4,308.0 L140.5,308.3 L140.5,309.4 L140.6,310.0 L140.7,311.0 L140.7,311.6 L140.8,312.3 L140.8,313.0 L140.9,313.8 L141.0,314.4 L141.0,315.2 L141.1,316.0 L141.1,316.5 L141.2,317.4 L141.2,318.1 L141.3,318.8 L141.4,319.5 L141.4,320.2 L141.5,320.8 L141.5,321.4 L141.6,321.9 L141.7,323.1 L141.8,323.8 L141.9,324.7 L142.0,325.4 L142.1,326.0 L142.2,326.8 L142.3,327.4 L142.4,328.0 L142.5,328.5 L142.6,329.0 L143.0,330.1 L143.4,330.7 L143.7,331.0 L143.70,331.20 Z"/></clipPath>
<g clip-path="url(#bx5)">
<path d="M125.50,331.20 L125.5,331.0 L125.9,330.7 L126.4,330.3 L127.0,329.7 L127.5,329.0 L127.8,328.5 L128.0,327.9 L128.3,327.2 L128.5,326.6 L128.8,325.8 L129.0,325.0 L129.2,324.4 L129.3,323.7 L129.5,323.0 L129.6,322.3 L129.8,321.7 L129.9,320.9 L130.1,319.8 L130.2,319.1 L130.3,318.5 L130.4,317.7 L130.4,316.9 L130.5,316.3 L130.6,315.8 L130.7,314.9 L130.7,313.9 L130.8,313.5 L130.9,312.4 L130.9,312.0 L131.0,310.6 L131.1,310.1 L131.2,309.3 L131.2,309.1 L131.3,307.8 L131.3,307.6 L131.4,306.6 L131.4,305.8 L131.5,304.9 L131.6,304.4 L131.6,304.1 L131.7,303.4 L131.7,302.6 L131.8,301.6 L131.9,300.5 L131.9,300.0 L132.0,299.5 L132.0,298.4 L132.1,298.5 L132.2,296.8 L132.2,296.1 L132.3,295.3 L132.4,294.5 L132.4,293.7 L132.5,293.1 L132.6,292.5 L132.7,292.4 L132.7,291.3 L132.8,290.7 L132.9,289.7 L132.9,288.9 L133.0,288.7 L133.1,288.3 L133.2,286.6 L133.4,286.4 L133.5,285.1 L133.6,284.9 L133.8,283.8 L133.9,282.9 L134.0,282.3 L134.2,282.4 L134.3,281.5 L134.6,279.9 L134.8,279.9 L135.1,278.6 L135.4,278.1 L136.0,277.5 L136.6,278.1 L137.1,278.4 L137.6,279.9 L137.7,279.7 L137.8,280.5 L137.8,280.6 L137.9,281.9 L138.0,282.2 L138.1,283.1 L138.2,283.7 L138.3,285.1 L138.3,286.1 L138.4,286.0 L138.5,287.2 L138.6,287.6 L138.7,288.9 L138.7,289.8 L138.8,289.6 L138.9,290.9 L139.0,291.2 L139.0,292.0 L139.1,292.9 L139.2,293.4 L139.2,294.4 L139.3,294.8 L139.4,295.7 L139.5,296.3 L139.5,297.1 L139.6,297.6 L139.7,298.5 L139.7,298.9 L139.8,300.1 L139.8,300.6 L139.9,301.3 L140.0,302.5 L140.0,302.5 L140.1,303.5 L140.1,304.3 L140.2,305.1 L140.2,305.9 L140.3,306.3 L140.4,307.5 L140.4,308.0 L140.5,308.3 L140.5,309.4 L140.6,310.0 L140.7,311.0 L140.7,311.6 L140.8,312.3 L140.8,313.0 L140.9,313.8 L141.0,314.4 L141.0,315.2 L141.1,316.0 L141.1,316.5 L141.2,317.4 L141.2,318.1 L141.3,318.8 L141.4,319.5 L141.4,320.2 L141.5,320.8 L141.5,321.4 L141.6,321.9 L141.7,323.1 L141.8,323.8 L141.9,324.7 L142.0,325.4 L142.1,326.0 L142.2,326.8 L142.3,327.4 L142.4,328.0 L142.5,328.5 L142.6,329.0 L143.0,330.1 L143.4,330.7 L143.7,331.0 L143.70,331.20 Z" fill="#f69494"/>
<path d="M125.90,331.20 L125.9,331.0 L126.3,330.7 L126.8,330.2 L127.4,329.7 L127.9,329.0 L128.2,328.5 L128.4,327.9 L128.7,327.3 L128.9,326.5 L129.2,325.8 L129.4,325.0 L129.6,324.3 L129.7,323.8 L129.9,323.0 L130.0,322.4 L130.2,321.6 L130.3,320.7 L130.5,319.9 L130.6,319.0 L130.7,318.2 L130.8,317.7 L130.8,316.8 L130.9,316.3 L131.0,315.6 L131.1,315.0 L131.1,314.4 L131.2,313.4 L131.3,312.2 L131.3,311.7 L131.4,310.7 L131.5,310.2 L131.6,309.7 L131.6,308.4 L131.7,308.2 L131.7,307.2 L131.8,306.4 L131.8,305.9 L131.9,305.1 L132.0,304.2 L132.0,303.5 L132.1,302.9 L132.1,302.4 L132.2,301.1 L132.3,300.6 L132.3,299.8 L132.4,299.6 L132.4,298.4 L132.5,298.3 L132.6,296.7 L132.6,296.8 L132.7,295.6 L132.8,295.4 L132.8,294.5 L132.9,293.8 L133.0,292.1 L133.1,292.2 L133.1,291.3 L133.2,291.0 L133.3,289.9 L133.3,289.1 L133.4,289.0 L133.5,288.5 L133.6,286.8 L133.8,285.9 L133.9,285.4 L134.0,284.9 L134.2,283.6 L134.3,283.4 L134.4,282.7 L134.6,282.4 L134.7,281.1 L134.9,280.2 L135.1,279.8 L135.4,279.3 L135.6,278.6 L135.8,278.4 L136.4,277.8 L137.0,278.0 L137.5,278.7 L138.0,279.7 L138.1,279.4 L138.2,280.0 L138.2,281.3 L138.3,281.9 L138.4,282.1 L138.5,282.9 L138.6,283.9 L138.7,284.3 L138.8,285.4 L138.8,286.1 L138.9,286.7 L139.0,288.0 L139.1,289.1 L139.1,288.9 L139.2,290.2 L139.3,290.8 L139.4,291.1 L139.4,292.2 L139.5,293.1 L139.6,293.2 L139.6,294.1 L139.7,295.1 L139.8,295.6 L139.9,296.1 L139.9,297.1 L140.0,298.2 L140.1,298.7 L140.1,299.1 L140.2,299.8 L140.2,300.4 L140.3,301.5 L140.4,302.4 L140.4,302.6 L140.5,303.6 L140.5,303.9 L140.6,304.7 L140.6,305.8 L140.7,306.3 L140.8,307.1 L140.8,307.5 L140.9,308.6 L140.9,309.3 L141.0,309.8 L141.1,310.8 L141.1,311.3 L141.2,312.1 L141.2,312.7 L141.3,313.9 L141.4,314.5 L141.4,315.4 L141.5,315.9 L141.5,316.8 L141.6,317.5 L141.6,317.9 L141.7,319.0 L141.8,319.5 L141.8,320.1 L141.9,320.8 L141.9,321.4 L142.0,322.1 L142.1,322.9 L142.2,323.8 L142.3,324.6 L142.4,325.4 L142.5,326.1 L142.6,326.8 L142.7,327.4 L142.8,328.0 L142.9,328.5 L143.0,329.0 L143.4,330.1 L143.8,330.7 L144.1,331.0 L144.10,331.20 Z" fill="#80e0f0"/>
<path d="M125.90,331.20 L125.9,331.0 L126.3,330.7 L126.8,330.2 L127.4,329.7 L127.9,329.0 L128.2,328.5 L128.4,327.9 L128.7,327.3 L128.9,326.5 L129.2,325.8 L129.4,325.0 L129.6,324.3 L129.7,323.8 L129.9,323.0 L130.0,322.4 L130.2,321.6 L130.3,320.7 L130.5,319.9 L130.6,319.0 L130.7,318.2 L130.8,317.7 L130.8,316.8 L130.9,316.3 L131.0,315.6 L131.1,315.0 L131.1,314.4 L131.2,313.4 L131.3,312.2 L131.3,311.7 L131.4,310.7 L131.5,310.2 L131.6,309.7 L131.6,308.4 L131.7,308.2 L131.7,307.2 L131.8,306.4 L131.8,305.9 L131.9,305.1 L132.0,304.2 L132.0,303.5 L132.1,302.9 L132.1,302.4 L132.2,301.1 L132.3,300.6 L132.3,299.8 L132.4,299.6 L132.4,298.4 L132.5,298.3 L132.6,296.7 L132.6,296.8 L132.7,295.6 L132.8,295.4 L132.8,294.5 L132.9,293.8 L133.0,292.1 L133.1,292.2 L133.1,291.3 L133.2,291.0 L133.3,289.9 L133.3,289.1 L133.4,289.0 L133.5,288.5 L133.6,286.8 L133.8,285.9 L133.9,285.4 L134.0,284.9 L134.2,283.6 L134.3,283.4 L134.4,282.7 L134.6,282.4 L134.7,281.1 L134.9,280.2 L135.1,279.8 L135.4,279.3 L135.6,278.6 L135.8,278.4 L136.4,277.8 L137.0,278.0 L137.5,278.7 L138.0,279.7 L138.1,279.4 L138.2,280.0 L138.2,281.3 L138.3,281.9 L138.4,282.1 L138.5,282.9 L138.6,283.9 L138.7,284.3 L138.8,285.4 L138.8,286.1 L138.9,286.7 L139.0,288.0 L139.1,289.1 L139.1,288.9 L139.2,290.2 L139.3,290.8 L139.4,291.1 L139.4,292.2 L139.5,293.1 L139.6,293.2 L139.6,294.1 L139.7,295.1 L139.8,295.6 L139.9,296.1 L139.9,297.1 L140.0,298.2 L140.1,298.7 L140.1,299.1 L140.2,299.8 L140.2,300.4 L140.3,301.5 L140.4,302.4 L140.4,302.6 L140.5,303.6 L140.5,303.9 L140.6,304.7 L140.6,305.8 L140.7,306.3 L140.8,307.1 L140.8,307.5 L140.9,308.6 L140.9,309.3 L141.0,309.8 L141.1,310.8 L141.1,311.3 L141.2,312.1 L141.2,312.7 L141.3,313.9 L141.4,314.5 L141.4,315.4 L141.5,315.9 L141.5,316.8 L141.6,317.5 L141.6,317.9 L141.7,319.0 L141.8,319.5 L141.8,320.1 L141.9,320.8 L141.9,321.4 L142.0,322.1 L142.1,322.9 L142.2,323.8 L142.3,324.6 L142.4,325.4 L142.5,326.1 L142.6,326.8 L142.7,327.4 L142.8,328.0 L142.9,328.5 L143.0,329.0 L143.4,330.1 L143.8,330.7 L144.1,331.0 L144.10,331.20 Z" fill="#8fb0c6" clip-path="url(#rc5)"/>
<path d="M125.50,331.20 L125.5,331.0 L125.9,330.7 L126.4,330.3 L127.0,329.7 L127.5,329.0 L127.8,328.5 L128.0,327.9 L128.3,327.2 L128.5,326.6 L128.8,325.8 L129.0,325.0 L129.2,324.4 L129.3,323.7 L129.5,323.0 L129.6,322.3 L129.8,321.7 L129.9,320.9 L130.1,319.8 L130.2,319.1 L130.3,318.5 L130.4,317.7 L130.4,316.9 L130.5,316.3 L130.6,315.8 L130.7,314.9 L130.7,313.9 L130.8,313.5 L130.9,312.4 L130.9,312.0 L131.0,310.6 L131.1,310.1 L131.2,309.3 L131.2,309.1 L131.3,307.8 L131.3,307.6 L131.4,306.6 L131.4,305.8 L131.5,304.9 L131.6,304.4 L131.6,304.1 L131.7,303.4 L131.7,302.6 L131.8,301.6 L131.9,300.5 L131.9,300.0 L132.0,299.5 L132.0,298.4 L132.1,298.5 L132.2,296.8 L132.2,296.1 L132.3,295.3 L132.4,294.5 L132.4,293.7 L132.5,293.1 L132.6,292.5 L132.7,292.4 L132.7,291.3 L132.8,290.7 L132.9,289.7 L132.9,288.9 L133.0,288.7 L133.1,288.3 L133.2,286.6 L133.4,286.4 L133.5,285.1 L133.6,284.9 L133.8,283.8 L133.9,282.9 L134.0,282.3 L134.2,282.4 L134.3,281.5 L134.6,279.9 L134.8,279.9 L135.1,278.6 L135.4,278.1 L136.0,277.5 L136.6,278.1 L137.1,278.4 L137.6,279.9 L137.7,279.7 L137.8,280.5 L137.8,280.6 L137.9,281.9 L138.0,282.2 L138.1,283.1 L138.2,283.7 L138.3,285.1 L138.3,286.1 L138.4,286.0 L138.5,287.2 L138.6,287.6 L138.7,288.9 L138.7,289.8 L138.8,289.6 L138.9,290.9 L139.0,291.2 L139.0,292.0 L139.1,292.9 L139.2,293.4 L139.2,294.4 L139.3,294.8 L139.4,295.7 L139.5,296.3 L139.5,297.1 L139.6,297.6 L139.7,298.5 L139.7,298.9 L139.8,300.1 L139.8,300.6 L139.9,301.3 L140.0,302.5 L140.0,302.5 L140.1,303.5 L140.1,304.3 L140.2,305.1 L140.2,305.9 L140.3,306.3 L140.4,307.5 L140.4,308.0 L140.5,308.3 L140.5,309.4 L140.6,310.0 L140.7,311.0 L140.7,311.6 L140.8,312.3 L140.8,313.0 L140.9,313.8 L141.0,314.4 L141.0,315.2 L141.1,316.0 L141.1,316.5 L141.2,317.4 L141.2,318.1 L141.3,318.8 L141.4,319.5 L141.4,320.2 L141.5,320.8 L141.5,321.4 L141.6,321.9 L141.7,323.1 L141.8,323.8 L141.9,324.7 L142.0,325.4 L142.1,326.0 L142.2,326.8 L142.3,327.4 L142.4,328.0 L142.5,328.5 L142.6,329.0 L143.0,330.1 L143.4,330.7 L143.7,331.0 L143.70,331.20 Z" fill="none" stroke="#d86a72" stroke-width="0.55"/>
<path d="M125.90,331.20 L125.9,331.0 L126.3,330.7 L126.8,330.2 L127.4,329.7 L127.9,329.0 L128.2,328.5 L128.4,327.9 L128.7,327.3 L128.9,326.5 L129.2,325.8 L129.4,325.0 L129.6,324.3 L129.7,323.8 L129.9,323.0 L130.0,322.4 L130.2,321.6 L130.3,320.7 L130.5,319.9 L130.6,319.0 L130.7,318.2 L130.8,317.7 L130.8,316.8 L130.9,316.3 L131.0,315.6 L131.1,315.0 L131.1,314.4 L131.2,313.4 L131.3,312.2 L131.3,311.7 L131.4,310.7 L131.5,310.2 L131.6,309.7 L131.6,308.4 L131.7,308.2 L131.7,307.2 L131.8,306.4 L131.8,305.9 L131.9,305.1 L132.0,304.2 L132.0,303.5 L132.1,302.9 L132.1,302.4 L132.2,301.1 L132.3,300.6 L132.3,299.8 L132.4,299.6 L132.4,298.4 L132.5,298.3 L132.6,296.7 L132.6,296.8 L132.7,295.6 L132.8,295.4 L132.8,294.5 L132.9,293.8 L133.0,292.1 L133.1,292.2 L133.1,291.3 L133.2,291.0 L133.3,289.9 L133.3,289.1 L133.4,289.0 L133.5,288.5 L133.6,286.8 L133.8,285.9 L133.9,285.4 L134.0,284.9 L134.2,283.6 L134.3,283.4 L134.4,282.7 L134.6,282.4 L134.7,281.1 L134.9,280.2 L135.1,279.8 L135.4,279.3 L135.6,278.6 L135.8,278.4 L136.4,277.8 L137.0,278.0 L137.5,278.7 L138.0,279.7 L138.1,279.4 L138.2,280.0 L138.2,281.3 L138.3,281.9 L138.4,282.1 L138.5,282.9 L138.6,283.9 L138.7,284.3 L138.8,285.4 L138.8,286.1 L138.9,286.7 L139.0,288.0 L139.1,289.1 L139.1,288.9 L139.2,290.2 L139.3,290.8 L139.4,291.1 L139.4,292.2 L139.5,293.1 L139.6,293.2 L139.6,294.1 L139.7,295.1 L139.8,295.6 L139.9,296.1 L139.9,297.1 L140.0,298.2 L140.1,298.7 L140.1,299.1 L140.2,299.8 L140.2,300.4 L140.3,301.5 L140.4,302.4 L140.4,302.6 L140.5,303.6 L140.5,303.9 L140.6,304.7 L140.6,305.8 L140.7,306.3 L140.8,307.1 L140.8,307.5 L140.9,308.6 L140.9,309.3 L141.0,309.8 L141.1,310.8 L141.1,311.3 L141.2,312.1 L141.2,312.7 L141.3,313.9 L141.4,314.5 L141.4,315.4 L141.5,315.9 L141.5,316.8 L141.6,317.5 L141.6,317.9 L141.7,319.0 L141.8,319.5 L141.8,320.1 L141.9,320.8 L141.9,321.4 L142.0,322.1 L142.1,322.9 L142.2,323.8 L142.3,324.6 L142.4,325.4 L142.5,326.1 L142.6,326.8 L142.7,327.4 L142.8,328.0 L142.9,328.5 L143.0,329.0 L143.4,330.1 L143.8,330.7 L144.1,331.0 L144.10,331.20 Z" fill="none" stroke="#36aec4" stroke-width="0.55"/>
</g>
<line x1="78.3" y1="272.6" x2="78.3" y2="331.2" stroke="#777" stroke-width="0.6"/>
<line x1="77" y1="331.2" x2="78.3" y2="331.2" stroke="#444" stroke-width="0.7"/>
<text x="76.1" y="332.1" font-size="2.6" text-anchor="end" fill="#555">0</text>
<line x1="77.6" y1="328.49" x2="78.3" y2="328.49" stroke="#888" stroke-width="0.4"/>
<line x1="77.6" y1="325.77" x2="78.3" y2="325.77" stroke="#888" stroke-width="0.4"/>
<line x1="77.6" y1="323.06" x2="78.3" y2="323.06" stroke="#888" stroke-width="0.4"/>
<line x1="77.6" y1="320.34" x2="78.3" y2="320.34" stroke="#888" stroke-width="0.4"/>
<line x1="77" y1="317.62" x2="78.3" y2="317.62" stroke="#444" stroke-width="0.7"/>
<text x="76.1" y="318.52" font-size="2.6" text-anchor="end" fill="#555">50.0</text>
<line x1="77.6" y1="314.91" x2="78.3" y2="314.91" stroke="#888" stroke-width="0.4"/>
<line x1="77.6" y1="312.19" x2="78.3" y2="312.19" stroke="#888" stroke-width="0.4"/>
<line x1="77.6" y1="309.48" x2="78.3" y2="309.48" stroke="#888" stroke-width="0.4"/>
<line x1="77.6" y1="306.76" x2="78.3" y2="306.76" stroke="#888" stroke-width="0.4"/>
<line x1="77" y1="304.05" x2="78.3" y2="304.05" stroke="#444" stroke-width="0.7"/>
<text x="76.1" y="304.95" font-size="2.6" text-anchor="end" fill="#555">100</text>
<line x1="77.6" y1="301.33" x2="78.3" y2="301.33" stroke="#888" stroke-width="0.4"/>
<line x1="77.6" y1="298.62" x2="78.3" y2="298.62" stroke="#888" stroke-width="0.4"/>
<line x1="77.6" y1="295.9" x2="78.3" y2="295.9" stroke="#888" stroke-width="0.4"/>
<line x1="77.6" y1="293.19" x2="78.3" y2="293.19" stroke="#888" stroke-width="0.4"/>
<line x1="77" y1="290.47" x2="78.3" y2="290.47" stroke="#444" stroke-width="0.7"/>
<text x="76.1" y="291.37" font-size="2.6" text-anchor="end" fill="#555">150</text>
<line x1="77.6" y1="287.76" x2="78.3" y2="287.76" stroke="#888" stroke-width="0.4"/>
<line x1="77.6" y1="285.04" x2="78.3" y2="285.04" stroke="#888" stroke-width="0.4"/>
<line x1="77.6" y1="282.33" x2="78.3" y2="282.33" stroke="#888" stroke-width="0.4"/>
<line x1="77.6" y1="279.61" x2="78.3" y2="279.61" stroke="#888" stroke-width="0.4"/>
<line x1="77" y1="276.9" x2="78.3" y2="276.9" stroke="#444" stroke-width="0.7"/>
<text x="76.1" y="277.8" font-size="2.6" text-anchor="end" fill="#555">200</text>
<text x="64.3" y="300.9" font-size="3" text-anchor="middle" fill="#666" transform="rotate(-90 64.3 300.9)">Count</text>
<line x1="78.3" y1="331.2" x2="143.7" y2="331.2" stroke="#222" stroke-width="0.8"/>
<line x1="83.86" y1="331.2" x2="83.86" y2="332.8" stroke="#111" stroke-width="0.8"/>
<text x="83.86" y="337.2" font-size="2.9" text-anchor="middle" fill="#555">-10<tspan font-size="1.8" dy="-1">3</tspan></text>
<line x1="93.34" y1="331.2" x2="93.34" y2="332.8" stroke="#111" stroke-width="0.8"/>
<text x="93.34" y="337.2" font-size="2.9" text-anchor="middle" fill="#555">0</text>
<line x1="105.11" y1="331.2" x2="105.11" y2="332.8" stroke="#111" stroke-width="0.8"/>
<text x="105.11" y="337.2" font-size="2.9" text-anchor="middle" fill="#555">10<tspan font-size="1.8" dy="-1">3</tspan></text>
<line x1="123.43" y1="331.2" x2="123.43" y2="332.8" stroke="#111" stroke-width="0.8"/>
<text x="123.43" y="337.2" font-size="2.9" text-anchor="middle" fill="#555">10<tspan font-size="1.8" dy="-1">4</tspan></text>
<line x1="139.45" y1="331.2" x2="139.45" y2="332.8" stroke="#111" stroke-width="0.8"/>
<text x="139.45" y="337.2" font-size="2.9" text-anchor="middle" fill="#555">10<tspan font-size="1.8" dy="-1">5</tspan></text>
<line x1="86.15" y1="331.2" x2="86.15" y2="332.2" stroke="#333" stroke-width="0.5"/>
<line x1="88.76" y1="331.2" x2="88.76" y2="332.2" stroke="#333" stroke-width="0.5"/>
<line x1="91.38" y1="331.2" x2="91.38" y2="332.2" stroke="#333" stroke-width="0.5"/>
<line x1="96.61" y1="331.2" x2="96.61" y2="332.2" stroke="#333" stroke-width="0.5"/>
<line x1="99.23" y1="331.2" x2="99.23" y2="332.2" stroke="#333" stroke-width="0.5"/>
<line x1="101.84" y1="331.2" x2="101.84" y2="332.2" stroke="#333" stroke-width="0.5"/>
<line x1="112.31" y1="331.2" x2="112.31" y2="332.2" stroke="#333" stroke-width="0.5"/>
<line x1="115.58" y1="331.2" x2="115.58" y2="332.2" stroke="#333" stroke-width="0.5"/>
<line x1="118.85" y1="331.2" x2="118.85" y2="332.2" stroke="#333" stroke-width="0.5"/>
<line x1="129.97" y1="331.2" x2="129.97" y2="332.2" stroke="#333" stroke-width="0.5"/>
<line x1="133.24" y1="331.2" x2="133.24" y2="332.2" stroke="#333" stroke-width="0.5"/>
<line x1="136.51" y1="331.2" x2="136.51" y2="332.2" stroke="#333" stroke-width="0.5"/>
<rect x="91.38" y="331.4" width="2.2" height="1.6" fill="#111"/>
<text x="111" y="342.2" font-size="3.2" text-anchor="middle" fill="#555">Comp-PE-A</text>
<rect x="175.8" y="270.6" width="66.9" height="60.6" fill="#fff" stroke="#d4d4d4" stroke-width="0.6"/>
<clipPath id="bx6"><rect x="175.8" y="270.6" width="66.9" height="60.6"/></clipPath>
<clipPath id="rc6"><path d="M226.50,331.20 L226.5,331.0 L226.7,330.6 L227.1,330.0 L227.4,329.3 L227.8,328.5 L228.2,327.5 L228.4,327.0 L228.6,326.4 L228.7,325.7 L228.9,325.0 L229.1,324.3 L229.3,323.6 L229.4,323.0 L229.6,322.1 L229.8,321.3 L229.9,320.4 L230.0,319.7 L230.1,319.3 L230.2,318.6 L230.2,317.7 L230.3,316.9 L230.4,316.4 L230.4,315.7 L230.5,315.1 L230.6,314.2 L230.6,313.4 L230.7,312.7 L230.8,311.8 L230.8,310.8 L230.9,310.0 L231.0,309.9 L231.0,309.2 L231.1,308.1 L231.1,307.8 L231.2,306.8 L231.3,305.8 L231.3,305.7 L231.4,304.7 L231.4,304.3 L231.5,303.3 L231.5,302.0 L231.6,301.8 L231.7,301.2 L231.7,300.6 L231.8,299.4 L231.8,298.9 L231.9,298.4 L232.0,297.1 L232.0,297.0 L232.1,296.2 L232.2,294.7 L232.3,294.5 L232.3,293.6 L232.4,292.6 L232.5,292.4 L232.6,292.1 L232.6,291.0 L232.7,289.8 L232.8,289.5 L232.8,289.2 L232.9,288.7 L233.0,287.6 L233.1,286.1 L233.1,286.3 L233.2,285.1 L233.3,283.7 L233.4,283.0 L233.4,282.2 L233.5,282.1 L233.6,280.9 L233.7,280.9 L233.7,279.6 L233.8,279.5 L234.0,278.2 L234.2,276.8 L234.3,276.2 L234.5,277.0 L234.7,277.3 L234.9,276.9 L235.1,278.5 L235.3,280.0 L235.4,280.5 L235.4,281.0 L235.5,281.1 L235.5,282.2 L235.6,282.6 L235.6,283.9 L235.7,284.4 L235.7,285.4 L235.8,286.2 L235.9,286.5 L235.9,287.6 L236.0,287.8 L236.1,288.5 L236.1,290.0 L236.2,290.1 L236.3,291.1 L236.3,291.7 L236.4,292.0 L236.5,293.1 L236.6,294.2 L236.6,294.2 L236.7,295.0 L236.8,295.5 L236.9,296.3 L236.9,297.8 L237.0,298.4 L237.1,299.3 L237.1,299.7 L237.2,300.7 L237.2,300.6 L237.3,301.3 L237.4,302.1 L237.4,302.9 L237.5,304.2 L237.5,304.2 L237.6,305.2 L237.6,305.6 L237.7,306.3 L237.8,307.4 L237.8,308.2 L237.9,308.9 L237.9,309.9 L238.0,310.5 L238.1,311.3 L238.1,311.8 L238.2,312.3 L238.2,313.0 L238.3,314.1 L238.3,314.5 L238.4,315.2 L238.4,316.3 L238.5,316.8 L238.6,317.7 L238.6,318.3 L238.7,319.1 L238.7,319.6 L238.8,320.4 L238.9,321.1 L238.9,321.7 L239.0,322.3 L239.1,323.3 L239.2,324.2 L239.4,324.9 L239.5,325.8 L239.7,326.6 L239.8,327.5 L240.0,328.2 L240.1,328.9 L240.2,329.5 L240.3,330.1 L240.4,330.6 L240.5,331.0 L240.50,331.20 Z"/></clipPath>
<g clip-path="url(#bx6)">
<path d="M226.50,331.20 L226.5,331.0 L226.7,330.6 L227.1,330.0 L227.4,329.3 L227.8,328.5 L228.2,327.5 L228.4,327.0 L228.6,326.4 L228.7,325.7 L228.9,325.0 L229.1,324.3 L229.3,323.6 L229.4,323.0 L229.6,322.1 L229.8,321.3 L229.9,320.4 L230.0,319.7 L230.1,319.3 L230.2,318.6 L230.2,317.7 L230.3,316.9 L230.4,316.4 L230.4,315.7 L230.5,315.1 L230.6,314.2 L230.6,313.4 L230.7,312.7 L230.8,311.8 L230.8,310.8 L230.9,310.0 L231.0,309.9 L231.0,309.2 L231.1,308.1 L231.1,307.8 L231.2,306.8 L231.3,305.8 L231.3,305.7 L231.4,304.7 L231.4,304.3 L231.5,303.3 L231.5,302.0 L231.6,301.8 L231.7,301.2 L231.7,300.6 L231.8,299.4 L231.8,298.9 L231.9,298.4 L232.0,297.1 L232.0,297.0 L232.1,296.2 L232.2,294.7 L232.3,294.5 L232.3,293.6 L232.4,292.6 L232.5,292.4 L232.6,292.1 L232.6,291.0 L232.7,289.8 L232.8,289.5 L232.8,289.2 L232.9,288.7 L233.0,287.6 L233.1,286.1 L233.1,286.3 L233.2,285.1 L233.3,283.7 L233.4,283.0 L233.4,282.2 L233.5,282.1 L233.6,280.9 L233.7,280.9 L233.7,279.6 L233.8,279.5 L234.0,278.2 L234.2,276.8 L234.3,276.2 L234.5,277.0 L234.7,277.3 L234.9,276.9 L235.1,278.5 L235.3,280.0 L235.4,280.5 L235.4,281.0 L235.5,281.1 L235.5,282.2 L235.6,282.6 L235.6,283.9 L235.7,284.4 L235.7,285.4 L235.8,286.2 L235.9,286.5 L235.9,287.6 L236.0,287.8 L236.1,288.5 L236.1,290.0 L236.2,290.1 L236.3,291.1 L236.3,291.7 L236.4,292.0 L236.5,293.1 L236.6,294.2 L236.6,294.2 L236.7,295.0 L236.8,295.5 L236.9,296.3 L236.9,297.8 L237.0,298.4 L237.1,299.3 L237.1,299.7 L237.2,300.7 L237.2,300.6 L237.3,301.3 L237.4,302.1 L237.4,302.9 L237.5,304.2 L237.5,304.2 L237.6,305.2 L237.6,305.6 L237.7,306.3 L237.8,307.4 L237.8,308.2 L237.9,308.9 L237.9,309.9 L238.0,310.5 L238.1,311.3 L238.1,311.8 L238.2,312.3 L238.2,313.0 L238.3,314.1 L238.3,314.5 L238.4,315.2 L238.4,316.3 L238.5,316.8 L238.6,317.7 L238.6,318.3 L238.7,319.1 L238.7,319.6 L238.8,320.4 L238.9,321.1 L238.9,321.7 L239.0,322.3 L239.1,323.3 L239.2,324.2 L239.4,324.9 L239.5,325.8 L239.7,326.6 L239.8,327.5 L240.0,328.2 L240.1,328.9 L240.2,329.5 L240.3,330.1 L240.4,330.6 L240.5,331.0 L240.50,331.20 Z" fill="#f69494"/>
<path d="M226.00,331.20 L226.0,331.0 L226.2,330.6 L226.6,330.0 L226.9,329.3 L227.3,328.5 L227.7,327.4 L227.9,326.9 L228.1,326.3 L228.2,325.7 L228.4,325.0 L228.6,324.4 L228.8,323.5 L228.9,322.9 L229.1,322.0 L229.3,321.3 L229.4,320.5 L229.5,319.7 L229.6,319.3 L229.7,318.6 L229.7,317.6 L229.8,317.1 L229.9,316.5 L229.9,315.9 L230.0,314.8 L230.1,314.0 L230.1,313.6 L230.2,312.9 L230.3,311.6 L230.3,310.8 L230.4,310.5 L230.5,309.5 L230.5,308.9 L230.6,308.5 L230.6,307.7 L230.7,306.9 L230.8,306.4 L230.8,305.5 L230.9,304.9 L230.9,304.0 L231.0,303.2 L231.0,302.0 L231.1,302.1 L231.2,301.3 L231.2,300.1 L231.3,299.7 L231.3,298.4 L231.4,298.2 L231.5,297.6 L231.5,296.4 L231.6,295.8 L231.7,295.5 L231.8,294.0 L231.8,293.7 L231.9,292.5 L232.0,292.2 L232.1,292.0 L232.1,291.0 L232.2,289.7 L232.3,289.9 L232.3,289.0 L232.4,288.2 L232.5,287.2 L232.6,286.4 L232.6,285.5 L232.7,285.1 L232.8,283.7 L232.9,283.9 L232.9,282.2 L233.0,282.1 L233.1,281.3 L233.2,280.5 L233.2,279.8 L233.3,279.4 L233.5,278.0 L233.7,277.7 L233.9,276.8 L234.1,276.4 L234.3,276.8 L234.5,277.2 L234.7,277.8 L234.9,279.0 L235.0,280.5 L235.0,281.0 L235.1,280.8 L235.1,282.1 L235.2,283.0 L235.2,283.9 L235.3,283.7 L235.3,284.6 L235.4,285.7 L235.5,286.7 L235.5,287.0 L235.6,288.4 L235.7,289.1 L235.7,289.5 L235.8,290.6 L235.9,290.8 L235.9,292.0 L236.0,292.2 L236.1,292.9 L236.2,293.6 L236.2,294.7 L236.3,295.6 L236.4,295.4 L236.5,296.7 L236.5,297.8 L236.6,298.4 L236.7,298.6 L236.7,299.4 L236.8,300.6 L236.8,300.6 L236.9,302.0 L237.0,302.2 L237.0,303.1 L237.1,303.9 L237.1,304.6 L237.2,305.3 L237.2,306.2 L237.3,306.8 L237.4,307.7 L237.4,308.3 L237.5,308.9 L237.5,309.3 L237.6,310.6 L237.7,310.8 L237.7,311.6 L237.8,312.2 L237.8,313.3 L237.9,313.9 L237.9,314.8 L238.0,315.6 L238.0,316.4 L238.1,317.1 L238.2,317.8 L238.2,318.3 L238.3,318.9 L238.3,319.9 L238.4,320.6 L238.5,321.1 L238.5,321.9 L238.6,322.4 L238.7,323.2 L238.8,324.2 L239.0,324.9 L239.1,325.8 L239.2,326.7 L239.4,327.4 L239.5,328.2 L239.6,328.9 L239.7,329.5 L239.8,330.1 L239.9,330.6 L240.0,331.0 L240.00,331.20 Z" fill="#80e0f0"/>
<path d="M226.00,331.20 L226.0,331.0 L226.2,330.6 L226.6,330.0 L226.9,329.3 L227.3,328.5 L227.7,327.4 L227.9,326.9 L228.1,326.3 L228.2,325.7 L228.4,325.0 L228.6,324.4 L228.8,323.5 L228.9,322.9 L229.1,322.0 L229.3,321.3 L229.4,320.5 L229.5,319.7 L229.6,319.3 L229.7,318.6 L229.7,317.6 L229.8,317.1 L229.9,316.5 L229.9,315.9 L230.0,314.8 L230.1,314.0 L230.1,313.6 L230.2,312.9 L230.3,311.6 L230.3,310.8 L230.4,310.5 L230.5,309.5 L230.5,308.9 L230.6,308.5 L230.6,307.7 L230.7,306.9 L230.8,306.4 L230.8,305.5 L230.9,304.9 L230.9,304.0 L231.0,303.2 L231.0,302.0 L231.1,302.1 L231.2,301.3 L231.2,300.1 L231.3,299.7 L231.3,298.4 L231.4,298.2 L231.5,297.6 L231.5,296.4 L231.6,295.8 L231.7,295.5 L231.8,294.0 L231.8,293.7 L231.9,292.5 L232.0,292.2 L232.1,292.0 L232.1,291.0 L232.2,289.7 L232.3,289.9 L232.3,289.0 L232.4,288.2 L232.5,287.2 L232.6,286.4 L232.6,285.5 L232.7,285.1 L232.8,283.7 L232.9,283.9 L232.9,282.2 L233.0,282.1 L233.1,281.3 L233.2,280.5 L233.2,279.8 L233.3,279.4 L233.5,278.0 L233.7,277.7 L233.9,276.8 L234.1,276.4 L234.3,276.8 L234.5,277.2 L234.7,277.8 L234.9,279.0 L235.0,280.5 L235.0,281.0 L235.1,280.8 L235.1,282.1 L235.2,283.0 L235.2,283.9 L235.3,283.7 L235.3,284.6 L235.4,285.7 L235.5,286.7 L235.5,287.0 L235.6,288.4 L235.7,289.1 L235.7,289.5 L235.8,290.6 L235.9,290.8 L235.9,292.0 L236.0,292.2 L236.1,292.9 L236.2,293.6 L236.2,294.7 L236.3,295.6 L236.4,295.4 L236.5,296.7 L236.5,297.8 L236.6,298.4 L236.7,298.6 L236.7,299.4 L236.8,300.6 L236.8,300.6 L236.9,302.0 L237.0,302.2 L237.0,303.1 L237.1,303.9 L237.1,304.6 L237.2,305.3 L237.2,306.2 L237.3,306.8 L237.4,307.7 L237.4,308.3 L237.5,308.9 L237.5,309.3 L237.6,310.6 L237.7,310.8 L237.7,311.6 L237.8,312.2 L237.8,313.3 L237.9,313.9 L237.9,314.8 L238.0,315.6 L238.0,316.4 L238.1,317.1 L238.2,317.8 L238.2,318.3 L238.3,318.9 L238.3,319.9 L238.4,320.6 L238.5,321.1 L238.5,321.9 L238.6,322.4 L238.7,323.2 L238.8,324.2 L239.0,324.9 L239.1,325.8 L239.2,326.7 L239.4,327.4 L239.5,328.2 L239.6,328.9 L239.7,329.5 L239.8,330.1 L239.9,330.6 L240.0,331.0 L240.00,331.20 Z" fill="#8fb0c6" clip-path="url(#rc6)"/>
<path d="M226.50,331.20 L226.5,331.0 L226.7,330.6 L227.1,330.0 L227.4,329.3 L227.8,328.5 L228.2,327.5 L228.4,327.0 L228.6,326.4 L228.7,325.7 L228.9,325.0 L229.1,324.3 L229.3,323.6 L229.4,323.0 L229.6,322.1 L229.8,321.3 L229.9,320.4 L230.0,319.7 L230.1,319.3 L230.2,318.6 L230.2,317.7 L230.3,316.9 L230.4,316.4 L230.4,315.7 L230.5,315.1 L230.6,314.2 L230.6,313.4 L230.7,312.7 L230.8,311.8 L230.8,310.8 L230.9,310.0 L231.0,309.9 L231.0,309.2 L231.1,308.1 L231.1,307.8 L231.2,306.8 L231.3,305.8 L231.3,305.7 L231.4,304.7 L231.4,304.3 L231.5,303.3 L231.5,302.0 L231.6,301.8 L231.7,301.2 L231.7,300.6 L231.8,299.4 L231.8,298.9 L231.9,298.4 L232.0,297.1 L232.0,297.0 L232.1,296.2 L232.2,294.7 L232.3,294.5 L232.3,293.6 L232.4,292.6 L232.5,292.4 L232.6,292.1 L232.6,291.0 L232.7,289.8 L232.8,289.5 L232.8,289.2 L232.9,288.7 L233.0,287.6 L233.1,286.1 L233.1,286.3 L233.2,285.1 L233.3,283.7 L233.4,283.0 L233.4,282.2 L233.5,282.1 L233.6,280.9 L233.7,280.9 L233.7,279.6 L233.8,279.5 L234.0,278.2 L234.2,276.8 L234.3,276.2 L234.5,277.0 L234.7,277.3 L234.9,276.9 L235.1,278.5 L235.3,280.0 L235.4,280.5 L235.4,281.0 L235.5,281.1 L235.5,282.2 L235.6,282.6 L235.6,283.9 L235.7,284.4 L235.7,285.4 L235.8,286.2 L235.9,286.5 L235.9,287.6 L236.0,287.8 L236.1,288.5 L236.1,290.0 L236.2,290.1 L236.3,291.1 L236.3,291.7 L236.4,292.0 L236.5,293.1 L236.6,294.2 L236.6,294.2 L236.7,295.0 L236.8,295.5 L236.9,296.3 L236.9,297.8 L237.0,298.4 L237.1,299.3 L237.1,299.7 L237.2,300.7 L237.2,300.6 L237.3,301.3 L237.4,302.1 L237.4,302.9 L237.5,304.2 L237.5,304.2 L237.6,305.2 L237.6,305.6 L237.7,306.3 L237.8,307.4 L237.8,308.2 L237.9,308.9 L237.9,309.9 L238.0,310.5 L238.1,311.3 L238.1,311.8 L238.2,312.3 L238.2,313.0 L238.3,314.1 L238.3,314.5 L238.4,315.2 L238.4,316.3 L238.5,316.8 L238.6,317.7 L238.6,318.3 L238.7,319.1 L238.7,319.6 L238.8,320.4 L238.9,321.1 L238.9,321.7 L239.0,322.3 L239.1,323.3 L239.2,324.2 L239.4,324.9 L239.5,325.8 L239.7,326.6 L239.8,327.5 L240.0,328.2 L240.1,328.9 L240.2,329.5 L240.3,330.1 L240.4,330.6 L240.5,331.0 L240.50,331.20 Z" fill="none" stroke="#d86a72" stroke-width="0.55"/>
<path d="M226.00,331.20 L226.0,331.0 L226.2,330.6 L226.6,330.0 L226.9,329.3 L227.3,328.5 L227.7,327.4 L227.9,326.9 L228.1,326.3 L228.2,325.7 L228.4,325.0 L228.6,324.4 L228.8,323.5 L228.9,322.9 L229.1,322.0 L229.3,321.3 L229.4,320.5 L229.5,319.7 L229.6,319.3 L229.7,318.6 L229.7,317.6 L229.8,317.1 L229.9,316.5 L229.9,315.9 L230.0,314.8 L230.1,314.0 L230.1,313.6 L230.2,312.9 L230.3,311.6 L230.3,310.8 L230.4,310.5 L230.5,309.5 L230.5,308.9 L230.6,308.5 L230.6,307.7 L230.7,306.9 L230.8,306.4 L230.8,305.5 L230.9,304.9 L230.9,304.0 L231.0,303.2 L231.0,302.0 L231.1,302.1 L231.2,301.3 L231.2,300.1 L231.3,299.7 L231.3,298.4 L231.4,298.2 L231.5,297.6 L231.5,296.4 L231.6,295.8 L231.7,295.5 L231.8,294.0 L231.8,293.7 L231.9,292.5 L232.0,292.2 L232.1,292.0 L232.1,291.0 L232.2,289.7 L232.3,289.9 L232.3,289.0 L232.4,288.2 L232.5,287.2 L232.6,286.4 L232.6,285.5 L232.7,285.1 L232.8,283.7 L232.9,283.9 L232.9,282.2 L233.0,282.1 L233.1,281.3 L233.2,280.5 L233.2,279.8 L233.3,279.4 L233.5,278.0 L233.7,277.7 L233.9,276.8 L234.1,276.4 L234.3,276.8 L234.5,277.2 L234.7,277.8 L234.9,279.0 L235.0,280.5 L235.0,281.0 L235.1,280.8 L235.1,282.1 L235.2,283.0 L235.2,283.9 L235.3,283.7 L235.3,284.6 L235.4,285.7 L235.5,286.7 L235.5,287.0 L235.6,288.4 L235.7,289.1 L235.7,289.5 L235.8,290.6 L235.9,290.8 L235.9,292.0 L236.0,292.2 L236.1,292.9 L236.2,293.6 L236.2,294.7 L236.3,295.6 L236.4,295.4 L236.5,296.7 L236.5,297.8 L236.6,298.4 L236.7,298.6 L236.7,299.4 L236.8,300.6 L236.8,300.6 L236.9,302.0 L237.0,302.2 L237.0,303.1 L237.1,303.9 L237.1,304.6 L237.2,305.3 L237.2,306.2 L237.3,306.8 L237.4,307.7 L237.4,308.3 L237.5,308.9 L237.5,309.3 L237.6,310.6 L237.7,310.8 L237.7,311.6 L237.8,312.2 L237.8,313.3 L237.9,313.9 L237.9,314.8 L238.0,315.6 L238.0,316.4 L238.1,317.1 L238.2,317.8 L238.2,318.3 L238.3,318.9 L238.3,319.9 L238.4,320.6 L238.5,321.1 L238.5,321.9 L238.6,322.4 L238.7,323.2 L238.8,324.2 L239.0,324.9 L239.1,325.8 L239.2,326.7 L239.4,327.4 L239.5,328.2 L239.6,328.9 L239.7,329.5 L239.8,330.1 L239.9,330.6 L240.0,331.0 L240.00,331.20 Z" fill="none" stroke="#36aec4" stroke-width="0.55"/>
</g>
<line x1="175.8" y1="272.6" x2="175.8" y2="331.2" stroke="#777" stroke-width="0.6"/>
<line x1="174.5" y1="331.2" x2="175.8" y2="331.2" stroke="#444" stroke-width="0.7"/>
<text x="173.6" y="332.1" font-size="2.6" text-anchor="end" fill="#555">0</text>
<line x1="175.1" y1="328.12" x2="175.8" y2="328.12" stroke="#888" stroke-width="0.4"/>
<line x1="175.1" y1="325.04" x2="175.8" y2="325.04" stroke="#888" stroke-width="0.4"/>
<line x1="175.1" y1="321.96" x2="175.8" y2="321.96" stroke="#888" stroke-width="0.4"/>
<line x1="175.1" y1="318.88" x2="175.8" y2="318.88" stroke="#888" stroke-width="0.4"/>
<line x1="174.5" y1="315.8" x2="175.8" y2="315.8" stroke="#444" stroke-width="0.7"/>
<text x="173.6" y="316.7" font-size="2.6" text-anchor="end" fill="#555">100</text>
<line x1="175.1" y1="312.72" x2="175.8" y2="312.72" stroke="#888" stroke-width="0.4"/>
<line x1="175.1" y1="309.64" x2="175.8" y2="309.64" stroke="#888" stroke-width="0.4"/>
<line x1="175.1" y1="306.56" x2="175.8" y2="306.56" stroke="#888" stroke-width="0.4"/>
<line x1="175.1" y1="303.48" x2="175.8" y2="303.48" stroke="#888" stroke-width="0.4"/>
<line x1="174.5" y1="300.4" x2="175.8" y2="300.4" stroke="#444" stroke-width="0.7"/>
<text x="173.6" y="301.3" font-size="2.6" text-anchor="end" fill="#555">200</text>
<line x1="175.1" y1="297.32" x2="175.8" y2="297.32" stroke="#888" stroke-width="0.4"/>
<line x1="175.1" y1="294.24" x2="175.8" y2="294.24" stroke="#888" stroke-width="0.4"/>
<line x1="175.1" y1="291.16" x2="175.8" y2="291.16" stroke="#888" stroke-width="0.4"/>
<line x1="175.1" y1="288.08" x2="175.8" y2="288.08" stroke="#888" stroke-width="0.4"/>
<line x1="174.5" y1="285" x2="175.8" y2="285" stroke="#444" stroke-width="0.7"/>
<text x="173.6" y="285.9" font-size="2.6" text-anchor="end" fill="#555">300</text>
<text x="161.8" y="300.9" font-size="3" text-anchor="middle" fill="#666" transform="rotate(-90 161.8 300.9)">Count</text>
<line x1="175.8" y1="331.2" x2="242.7" y2="331.2" stroke="#222" stroke-width="0.8"/>
<line x1="181.49" y1="331.2" x2="181.49" y2="332.8" stroke="#111" stroke-width="0.8"/>
<text x="181.49" y="337.2" font-size="2.9" text-anchor="middle" fill="#555">-10<tspan font-size="1.8" dy="-1">3</tspan></text>
<line x1="191.19" y1="331.2" x2="191.19" y2="332.8" stroke="#111" stroke-width="0.8"/>
<text x="191.19" y="337.2" font-size="2.9" text-anchor="middle" fill="#555">0</text>
<line x1="203.23" y1="331.2" x2="203.23" y2="332.8" stroke="#111" stroke-width="0.8"/>
<text x="203.23" y="337.2" font-size="2.9" text-anchor="middle" fill="#555">10<tspan font-size="1.8" dy="-1">3</tspan></text>
<line x1="221.96" y1="331.2" x2="221.96" y2="332.8" stroke="#111" stroke-width="0.8"/>
<text x="221.96" y="337.2" font-size="2.9" text-anchor="middle" fill="#555">10<tspan font-size="1.8" dy="-1">4</tspan></text>
<line x1="238.35" y1="331.2" x2="238.35" y2="332.8" stroke="#111" stroke-width="0.8"/>
<text x="238.35" y="337.2" font-size="2.9" text-anchor="middle" fill="#555">10<tspan font-size="1.8" dy="-1">5</tspan></text>
<line x1="183.83" y1="331.2" x2="183.83" y2="332.2" stroke="#333" stroke-width="0.5"/>
<line x1="186.5" y1="331.2" x2="186.5" y2="332.2" stroke="#333" stroke-width="0.5"/>
<line x1="189.18" y1="331.2" x2="189.18" y2="332.2" stroke="#333" stroke-width="0.5"/>
<line x1="194.53" y1="331.2" x2="194.53" y2="332.2" stroke="#333" stroke-width="0.5"/>
<line x1="197.21" y1="331.2" x2="197.21" y2="332.2" stroke="#333" stroke-width="0.5"/>
<line x1="199.88" y1="331.2" x2="199.88" y2="332.2" stroke="#333" stroke-width="0.5"/>
<line x1="210.59" y1="331.2" x2="210.59" y2="332.2" stroke="#333" stroke-width="0.5"/>
<line x1="213.93" y1="331.2" x2="213.93" y2="332.2" stroke="#333" stroke-width="0.5"/>
<line x1="217.28" y1="331.2" x2="217.28" y2="332.2" stroke="#333" stroke-width="0.5"/>
<line x1="228.65" y1="331.2" x2="228.65" y2="332.2" stroke="#333" stroke-width="0.5"/>
<line x1="232" y1="331.2" x2="232" y2="332.2" stroke="#333" stroke-width="0.5"/>
<line x1="235.34" y1="331.2" x2="235.34" y2="332.2" stroke="#333" stroke-width="0.5"/>
<rect x="189.18" y="331.4" width="2.2" height="1.6" fill="#111"/>
<text x="209.25" y="342.2" font-size="3.2" text-anchor="middle" fill="#555">Comp-PE-A</text>
<rect x="278.7" y="270.6" width="70.1" height="61.5" fill="#fff" stroke="#d4d4d4" stroke-width="0.6"/>
<clipPath id="bx7"><rect x="278.7" y="270.6" width="70.1" height="61.5"/></clipPath>
<clipPath id="rc7"><path d="M307.70,332.10 L307.7,331.9 L308.1,331.8 L308.6,331.7 L309.2,331.5 L309.9,331.4 L310.7,331.2 L311.5,331.0 L312.3,330.7 L313.1,330.5 L313.8,330.3 L314.6,329.9 L315.2,329.6 L315.8,329.2 L316.4,328.8 L316.9,328.2 L317.4,327.6 L317.8,327.1 L318.2,326.3 L318.6,325.7 L319.0,325.0 L319.4,324.3 L319.7,323.7 L320.1,323.0 L320.4,322.3 L320.7,321.7 L321.0,321.0 L321.3,320.4 L321.5,319.6 L321.8,318.9 L322.0,318.2 L322.2,317.9 L322.4,317.1 L322.7,316.1 L322.9,315.8 L323.1,314.8 L323.3,314.3 L323.5,313.5 L323.7,312.7 L323.9,312.0 L324.1,311.5 L324.2,310.7 L324.4,310.1 L324.6,309.4 L324.7,308.8 L324.9,308.1 L325.1,307.2 L325.3,306.7 L325.4,305.6 L325.6,305.2 L325.8,304.5 L326.0,303.7 L326.1,302.4 L326.3,302.1 L326.5,301.3 L326.7,300.1 L326.9,299.7 L327.1,299.1 L327.2,297.9 L327.4,297.1 L327.6,297.1 L327.7,296.2 L327.9,296.2 L328.1,295.3 L328.3,294.5 L328.5,293.8 L328.6,292.5 L328.8,292.4 L328.9,291.0 L329.1,290.4 L329.3,290.0 L329.4,289.2 L329.6,288.3 L329.8,288.1 L329.9,287.9 L330.1,286.1 L330.3,285.5 L330.4,285.6 L330.6,284.4 L330.8,283.6 L331.0,282.9 L331.1,282.7 L331.3,281.8 L331.7,280.8 L332.0,280.1 L332.4,279.9 L332.7,278.5 L333.1,278.3 L333.4,277.8 L333.7,276.2 L334.0,275.7 L334.3,274.9 L334.5,274.7 L334.8,274.3 L335.0,274.4 L335.2,274.5 L335.4,275.2 L335.6,276.6 L335.8,276.7 L336.0,277.9 L336.1,278.5 L336.2,278.9 L336.2,279.6 L336.3,280.4 L336.4,281.5 L336.5,282.4 L336.6,282.1 L336.7,283.3 L336.8,283.8 L336.9,285.3 L337.0,286.1 L337.1,286.6 L337.2,286.6 L337.3,288.0 L337.4,288.7 L337.5,289.6 L337.6,290.0 L337.7,290.6 L337.8,291.9 L337.9,292.8 L338.0,293.0 L338.1,293.7 L338.2,294.0 L338.3,295.3 L338.4,296.3 L338.6,296.7 L338.7,297.0 L338.8,297.8 L338.9,299.3 L339.0,299.8 L339.1,300.1 L339.3,301.1 L339.4,301.5 L339.5,302.6 L339.6,302.9 L339.7,303.8 L339.8,304.7 L339.9,305.4 L340.0,305.9 L340.1,307.0 L340.2,307.4 L340.3,308.6 L340.4,309.4 L340.5,310.0 L340.6,311.0 L340.7,311.4 L340.8,312.6 L340.8,312.8 L340.9,313.8 L341.0,314.4 L341.1,315.1 L341.2,315.9 L341.3,316.6 L341.3,317.2 L341.4,318.0 L341.5,318.9 L341.6,319.4 L341.7,320.0 L341.9,321.0 L342.0,321.8 L342.2,322.7 L342.4,323.5 L342.5,324.2 L342.7,324.9 L342.9,325.5 L343.0,326.3 L343.2,326.8 L343.3,327.4 L343.5,328.0 L343.8,329.1 L344.2,330.0 L344.5,330.8 L344.8,331.4 L345.0,331.9 L345.00,332.10 Z"/></clipPath>
<g clip-path="url(#bx7)">
<path d="M307.70,332.10 L307.7,331.9 L308.1,331.8 L308.6,331.7 L309.2,331.5 L309.9,331.4 L310.7,331.2 L311.5,331.0 L312.3,330.7 L313.1,330.5 L313.8,330.3 L314.6,329.9 L315.2,329.6 L315.8,329.2 L316.4,328.8 L316.9,328.2 L317.4,327.6 L317.8,327.1 L318.2,326.3 L318.6,325.7 L319.0,325.0 L319.4,324.3 L319.7,323.7 L320.1,323.0 L320.4,322.3 L320.7,321.7 L321.0,321.0 L321.3,320.4 L321.5,319.6 L321.8,318.9 L322.0,318.2 L322.2,317.9 L322.4,317.1 L322.7,316.1 L322.9,315.8 L323.1,314.8 L323.3,314.3 L323.5,313.5 L323.7,312.7 L323.9,312.0 L324.1,311.5 L324.2,310.7 L324.4,310.1 L324.6,309.4 L324.7,308.8 L324.9,308.1 L325.1,307.2 L325.3,306.7 L325.4,305.6 L325.6,305.2 L325.8,304.5 L326.0,303.7 L326.1,302.4 L326.3,302.1 L326.5,301.3 L326.7,300.1 L326.9,299.7 L327.1,299.1 L327.2,297.9 L327.4,297.1 L327.6,297.1 L327.7,296.2 L327.9,296.2 L328.1,295.3 L328.3,294.5 L328.5,293.8 L328.6,292.5 L328.8,292.4 L328.9,291.0 L329.1,290.4 L329.3,290.0 L329.4,289.2 L329.6,288.3 L329.8,288.1 L329.9,287.9 L330.1,286.1 L330.3,285.5 L330.4,285.6 L330.6,284.4 L330.8,283.6 L331.0,282.9 L331.1,282.7 L331.3,281.8 L331.7,280.8 L332.0,280.1 L332.4,279.9 L332.7,278.5 L333.1,278.3 L333.4,277.8 L333.7,276.2 L334.0,275.7 L334.3,274.9 L334.5,274.7 L334.8,274.3 L335.0,274.4 L335.2,274.5 L335.4,275.2 L335.6,276.6 L335.8,276.7 L336.0,277.9 L336.1,278.5 L336.2,278.9 L336.2,279.6 L336.3,280.4 L336.4,281.5 L336.5,282.4 L336.6,282.1 L336.7,283.3 L336.8,283.8 L336.9,285.3 L337.0,286.1 L337.1,286.6 L337.2,286.6 L337.3,288.0 L337.4,288.7 L337.5,289.6 L337.6,290.0 L337.7,290.6 L337.8,291.9 L337.9,292.8 L338.0,293.0 L338.1,293.7 L338.2,294.0 L338.3,295.3 L338.4,296.3 L338.6,296.7 L338.7,297.0 L338.8,297.8 L338.9,299.3 L339.0,299.8 L339.1,300.1 L339.3,301.1 L339.4,301.5 L339.5,302.6 L339.6,302.9 L339.7,303.8 L339.8,304.7 L339.9,305.4 L340.0,305.9 L340.1,307.0 L340.2,307.4 L340.3,308.6 L340.4,309.4 L340.5,310.0 L340.6,311.0 L340.7,311.4 L340.8,312.6 L340.8,312.8 L340.9,313.8 L341.0,314.4 L341.1,315.1 L341.2,315.9 L341.3,316.6 L341.3,317.2 L341.4,318.0 L341.5,318.9 L341.6,319.4 L341.7,320.0 L341.9,321.0 L342.0,321.8 L342.2,322.7 L342.4,323.5 L342.5,324.2 L342.7,324.9 L342.9,325.5 L343.0,326.3 L343.2,326.8 L343.3,327.4 L343.5,328.0 L343.8,329.1 L344.2,330.0 L344.5,330.8 L344.8,331.4 L345.0,331.9 L345.00,332.10 Z" fill="#f69494"/>
<path d="M311.20,332.10 L311.2,331.9 L311.6,331.8 L312.1,331.6 L312.6,331.4 L313.3,331.2 L314.0,331.0 L314.7,330.7 L315.5,330.5 L316.3,330.1 L317.1,329.9 L317.8,329.5 L318.6,329.2 L319.2,328.8 L319.9,328.4 L320.4,327.9 L320.9,327.5 L321.4,326.9 L321.8,326.3 L322.2,325.8 L322.6,325.1 L322.9,324.5 L323.2,324.0 L323.5,323.2 L323.8,322.6 L324.1,322.0 L324.4,321.3 L324.7,320.7 L325.0,319.9 L325.3,319.3 L325.6,318.7 L326.0,317.9 L326.3,317.1 L326.5,316.6 L326.8,315.9 L327.1,315.1 L327.4,314.4 L327.7,313.7 L327.9,313.3 L328.2,312.7 L328.5,311.9 L328.7,311.1 L329.0,310.2 L329.3,309.6 L329.5,309.4 L329.8,308.7 L330.0,308.0 L330.3,307.2 L330.5,306.5 L330.8,305.8 L331.0,305.1 L331.2,304.8 L331.5,303.9 L331.7,303.4 L331.9,302.5 L332.1,302.0 L332.2,301.5 L332.4,300.8 L332.6,299.5 L332.7,299.5 L332.9,298.7 L333.0,297.9 L333.1,296.7 L333.3,296.5 L333.4,295.6 L333.6,294.2 L333.7,294.0 L333.8,293.5 L333.9,292.7 L334.1,292.2 L334.2,291.1 L334.4,290.4 L334.6,288.9 L334.7,288.7 L334.9,287.3 L335.1,287.2 L335.2,286.6 L335.4,285.3 L335.5,284.3 L335.7,283.6 L335.8,283.6 L336.0,282.6 L336.3,282.3 L336.6,281.4 L337.0,280.7 L337.3,280.3 L337.7,279.1 L338.1,278.7 L338.5,277.4 L339.0,277.1 L339.5,276.6 L339.9,275.3 L340.3,275.7 L340.6,276.2 L340.8,275.8 L341.1,276.2 L341.2,277.0 L341.5,278.7 L341.7,279.0 L341.8,280.3 L341.9,280.3 L342.0,281.4 L342.1,282.2 L342.2,282.8 L342.4,282.8 L342.5,283.9 L342.6,284.4 L342.7,285.8 L342.8,285.9 L342.9,286.6 L343.0,287.7 L343.2,288.2 L343.3,289.1 L343.4,290.5 L343.5,290.9 L343.6,291.4 L343.7,292.9 L343.8,292.8 L343.8,294.1 L343.9,294.7 L344.0,295.3 L344.1,296.2 L344.2,296.9 L344.3,297.9 L344.4,298.5 L344.4,298.8 L344.5,300.0 L344.6,300.6 L344.7,301.7 L344.8,301.7 L344.8,302.7 L344.9,303.9 L345.0,303.8 L345.1,305.0 L345.1,305.8 L345.2,306.2 L345.3,306.7 L345.4,308.1 L345.5,308.6 L345.6,309.6 L345.6,310.6 L345.7,311.1 L345.8,311.8 L345.9,312.5 L345.9,313.3 L346.0,313.9 L346.1,314.8 L346.1,315.5 L346.2,315.7 L346.3,316.5 L346.5,317.8 L346.7,318.8 L346.9,319.4 L347.1,320.1 L347.3,320.7 L347.5,321.1 L348.1,321.5 L348.7,321.1 L349.4,321.2 L350.0,321.0 L350.00,332.10 Z" fill="#80e0f0"/>
<path d="M311.20,332.10 L311.2,331.9 L311.6,331.8 L312.1,331.6 L312.6,331.4 L313.3,331.2 L314.0,331.0 L314.7,330.7 L315.5,330.5 L316.3,330.1 L317.1,329.9 L317.8,329.5 L318.6,329.2 L319.2,328.8 L319.9,328.4 L320.4,327.9 L320.9,327.5 L321.4,326.9 L321.8,326.3 L322.2,325.8 L322.6,325.1 L322.9,324.5 L323.2,324.0 L323.5,323.2 L323.8,322.6 L324.1,322.0 L324.4,321.3 L324.7,320.7 L325.0,319.9 L325.3,319.3 L325.6,318.7 L326.0,317.9 L326.3,317.1 L326.5,316.6 L326.8,315.9 L327.1,315.1 L327.4,314.4 L327.7,313.7 L327.9,313.3 L328.2,312.7 L328.5,311.9 L328.7,311.1 L329.0,310.2 L329.3,309.6 L329.5,309.4 L329.8,308.7 L330.0,308.0 L330.3,307.2 L330.5,306.5 L330.8,305.8 L331.0,305.1 L331.2,304.8 L331.5,303.9 L331.7,303.4 L331.9,302.5 L332.1,302.0 L332.2,301.5 L332.4,300.8 L332.6,299.5 L332.7,299.5 L332.9,298.7 L333.0,297.9 L333.1,296.7 L333.3,296.5 L333.4,295.6 L333.6,294.2 L333.7,294.0 L333.8,293.5 L333.9,292.7 L334.1,292.2 L334.2,291.1 L334.4,290.4 L334.6,288.9 L334.7,288.7 L334.9,287.3 L335.1,287.2 L335.2,286.6 L335.4,285.3 L335.5,284.3 L335.7,283.6 L335.8,283.6 L336.0,282.6 L336.3,282.3 L336.6,281.4 L337.0,280.7 L337.3,280.3 L337.7,279.1 L338.1,278.7 L338.5,277.4 L339.0,277.1 L339.5,276.6 L339.9,275.3 L340.3,275.7 L340.6,276.2 L340.8,275.8 L341.1,276.2 L341.2,277.0 L341.5,278.7 L341.7,279.0 L341.8,280.3 L341.9,280.3 L342.0,281.4 L342.1,282.2 L342.2,282.8 L342.4,282.8 L342.5,283.9 L342.6,284.4 L342.7,285.8 L342.8,285.9 L342.9,286.6 L343.0,287.7 L343.2,288.2 L343.3,289.1 L343.4,290.5 L343.5,290.9 L343.6,291.4 L343.7,292.9 L343.8,292.8 L343.8,294.1 L343.9,294.7 L344.0,295.3 L344.1,296.2 L344.2,296.9 L344.3,297.9 L344.4,298.5 L344.4,298.8 L344.5,300.0 L344.6,300.6 L344.7,301.7 L344.8,301.7 L344.8,302.7 L344.9,303.9 L345.0,303.8 L345.1,305.0 L345.1,305.8 L345.2,306.2 L345.3,306.7 L345.4,308.1 L345.5,308.6 L345.6,309.6 L345.6,310.6 L345.7,311.1 L345.8,311.8 L345.9,312.5 L345.9,313.3 L346.0,313.9 L346.1,314.8 L346.1,315.5 L346.2,315.7 L346.3,316.5 L346.5,317.8 L346.7,318.8 L346.9,319.4 L347.1,320.1 L347.3,320.7 L347.5,321.1 L348.1,321.5 L348.7,321.1 L349.4,321.2 L350.0,321.0 L350.00,332.10 Z" fill="#8fb0c6" clip-path="url(#rc7)"/>
<path d="M307.70,332.10 L307.7,331.9 L308.1,331.8 L308.6,331.7 L309.2,331.5 L309.9,331.4 L310.7,331.2 L311.5,331.0 L312.3,330.7 L313.1,330.5 L313.8,330.3 L314.6,329.9 L315.2,329.6 L315.8,329.2 L316.4,328.8 L316.9,328.2 L317.4,327.6 L317.8,327.1 L318.2,326.3 L318.6,325.7 L319.0,325.0 L319.4,324.3 L319.7,323.7 L320.1,323.0 L320.4,322.3 L320.7,321.7 L321.0,321.0 L321.3,320.4 L321.5,319.6 L321.8,318.9 L322.0,318.2 L322.2,317.9 L322.4,317.1 L322.7,316.1 L322.9,315.8 L323.1,314.8 L323.3,314.3 L323.5,313.5 L323.7,312.7 L323.9,312.0 L324.1,311.5 L324.2,310.7 L324.4,310.1 L324.6,309.4 L324.7,308.8 L324.9,308.1 L325.1,307.2 L325.3,306.7 L325.4,305.6 L325.6,305.2 L325.8,304.5 L326.0,303.7 L326.1,302.4 L326.3,302.1 L326.5,301.3 L326.7,300.1 L326.9,299.7 L327.1,299.1 L327.2,297.9 L327.4,297.1 L327.6,297.1 L327.7,296.2 L327.9,296.2 L328.1,295.3 L328.3,294.5 L328.5,293.8 L328.6,292.5 L328.8,292.4 L328.9,291.0 L329.1,290.4 L329.3,290.0 L329.4,289.2 L329.6,288.3 L329.8,288.1 L329.9,287.9 L330.1,286.1 L330.3,285.5 L330.4,285.6 L330.6,284.4 L330.8,283.6 L331.0,282.9 L331.1,282.7 L331.3,281.8 L331.7,280.8 L332.0,280.1 L332.4,279.9 L332.7,278.5 L333.1,278.3 L333.4,277.8 L333.7,276.2 L334.0,275.7 L334.3,274.9 L334.5,274.7 L334.8,274.3 L335.0,274.4 L335.2,274.5 L335.4,275.2 L335.6,276.6 L335.8,276.7 L336.0,277.9 L336.1,278.5 L336.2,278.9 L336.2,279.6 L336.3,280.4 L336.4,281.5 L336.5,282.4 L336.6,282.1 L336.7,283.3 L336.8,283.8 L336.9,285.3 L337.0,286.1 L337.1,286.6 L337.2,286.6 L337.3,288.0 L337.4,288.7 L337.5,289.6 L337.6,290.0 L337.7,290.6 L337.8,291.9 L337.9,292.8 L338.0,293.0 L338.1,293.7 L338.2,294.0 L338.3,295.3 L338.4,296.3 L338.6,296.7 L338.7,297.0 L338.8,297.8 L338.9,299.3 L339.0,299.8 L339.1,300.1 L339.3,301.1 L339.4,301.5 L339.5,302.6 L339.6,302.9 L339.7,303.8 L339.8,304.7 L339.9,305.4 L340.0,305.9 L340.1,307.0 L340.2,307.4 L340.3,308.6 L340.4,309.4 L340.5,310.0 L340.6,311.0 L340.7,311.4 L340.8,312.6 L340.8,312.8 L340.9,313.8 L341.0,314.4 L341.1,315.1 L341.2,315.9 L341.3,316.6 L341.3,317.2 L341.4,318.0 L341.5,318.9 L341.6,319.4 L341.7,320.0 L341.9,321.0 L342.0,321.8 L342.2,322.7 L342.4,323.5 L342.5,324.2 L342.7,324.9 L342.9,325.5 L343.0,326.3 L343.2,326.8 L343.3,327.4 L343.5,328.0 L343.8,329.1 L344.2,330.0 L344.5,330.8 L344.8,331.4 L345.0,331.9 L345.00,332.10 Z" fill="none" stroke="#d86a72" stroke-width="0.55"/>
<path d="M311.20,332.10 L311.2,331.9 L311.6,331.8 L312.1,331.6 L312.6,331.4 L313.3,331.2 L314.0,331.0 L314.7,330.7 L315.5,330.5 L316.3,330.1 L317.1,329.9 L317.8,329.5 L318.6,329.2 L319.2,328.8 L319.9,328.4 L320.4,327.9 L320.9,327.5 L321.4,326.9 L321.8,326.3 L322.2,325.8 L322.6,325.1 L322.9,324.5 L323.2,324.0 L323.5,323.2 L323.8,322.6 L324.1,322.0 L324.4,321.3 L324.7,320.7 L325.0,319.9 L325.3,319.3 L325.6,318.7 L326.0,317.9 L326.3,317.1 L326.5,316.6 L326.8,315.9 L327.1,315.1 L327.4,314.4 L327.7,313.7 L327.9,313.3 L328.2,312.7 L328.5,311.9 L328.7,311.1 L329.0,310.2 L329.3,309.6 L329.5,309.4 L329.8,308.7 L330.0,308.0 L330.3,307.2 L330.5,306.5 L330.8,305.8 L331.0,305.1 L331.2,304.8 L331.5,303.9 L331.7,303.4 L331.9,302.5 L332.1,302.0 L332.2,301.5 L332.4,300.8 L332.6,299.5 L332.7,299.5 L332.9,298.7 L333.0,297.9 L333.1,296.7 L333.3,296.5 L333.4,295.6 L333.6,294.2 L333.7,294.0 L333.8,293.5 L333.9,292.7 L334.1,292.2 L334.2,291.1 L334.4,290.4 L334.6,288.9 L334.7,288.7 L334.9,287.3 L335.1,287.2 L335.2,286.6 L335.4,285.3 L335.5,284.3 L335.7,283.6 L335.8,283.6 L336.0,282.6 L336.3,282.3 L336.6,281.4 L337.0,280.7 L337.3,280.3 L337.7,279.1 L338.1,278.7 L338.5,277.4 L339.0,277.1 L339.5,276.6 L339.9,275.3 L340.3,275.7 L340.6,276.2 L340.8,275.8 L341.1,276.2 L341.2,277.0 L341.5,278.7 L341.7,279.0 L341.8,280.3 L341.9,280.3 L342.0,281.4 L342.1,282.2 L342.2,282.8 L342.4,282.8 L342.5,283.9 L342.6,284.4 L342.7,285.8 L342.8,285.9 L342.9,286.6 L343.0,287.7 L343.2,288.2 L343.3,289.1 L343.4,290.5 L343.5,290.9 L343.6,291.4 L343.7,292.9 L343.8,292.8 L343.8,294.1 L343.9,294.7 L344.0,295.3 L344.1,296.2 L344.2,296.9 L344.3,297.9 L344.4,298.5 L344.4,298.8 L344.5,300.0 L344.6,300.6 L344.7,301.7 L344.8,301.7 L344.8,302.7 L344.9,303.9 L345.0,303.8 L345.1,305.0 L345.1,305.8 L345.2,306.2 L345.3,306.7 L345.4,308.1 L345.5,308.6 L345.6,309.6 L345.6,310.6 L345.7,311.1 L345.8,311.8 L345.9,312.5 L345.9,313.3 L346.0,313.9 L346.1,314.8 L346.1,315.5 L346.2,315.7 L346.3,316.5 L346.5,317.8 L346.7,318.8 L346.9,319.4 L347.1,320.1 L347.3,320.7 L347.5,321.1 L348.1,321.5 L348.7,321.1 L349.4,321.2 L350.0,321.0 L350.00,332.10 Z" fill="none" stroke="#36aec4" stroke-width="0.55"/>
</g>
<line x1="278.7" y1="272.6" x2="278.7" y2="332.1" stroke="#777" stroke-width="0.6"/>
<line x1="277.4" y1="332.1" x2="278.7" y2="332.1" stroke="#444" stroke-width="0.7"/>
<text x="276.5" y="333" font-size="2.6" text-anchor="end" fill="#555">0</text>
<line x1="278" y1="328.93" x2="278.7" y2="328.93" stroke="#888" stroke-width="0.4"/>
<line x1="278" y1="325.77" x2="278.7" y2="325.77" stroke="#888" stroke-width="0.4"/>
<line x1="278" y1="322.6" x2="278.7" y2="322.6" stroke="#888" stroke-width="0.4"/>
<line x1="278" y1="319.43" x2="278.7" y2="319.43" stroke="#888" stroke-width="0.4"/>
<line x1="277.4" y1="316.27" x2="278.7" y2="316.27" stroke="#444" stroke-width="0.7"/>
<text x="276.5" y="317.17" font-size="2.6" text-anchor="end" fill="#555">500</text>
<line x1="278" y1="313.1" x2="278.7" y2="313.1" stroke="#888" stroke-width="0.4"/>
<line x1="278" y1="309.93" x2="278.7" y2="309.93" stroke="#888" stroke-width="0.4"/>
<line x1="278" y1="306.77" x2="278.7" y2="306.77" stroke="#888" stroke-width="0.4"/>
<line x1="278" y1="303.6" x2="278.7" y2="303.6" stroke="#888" stroke-width="0.4"/>
<line x1="277.4" y1="300.43" x2="278.7" y2="300.43" stroke="#444" stroke-width="0.7"/>
<text x="276.5" y="301.33" font-size="2.6" text-anchor="end" fill="#555">1.0K</text>
<line x1="278" y1="297.27" x2="278.7" y2="297.27" stroke="#888" stroke-width="0.4"/>
<line x1="278" y1="294.1" x2="278.7" y2="294.1" stroke="#888" stroke-width="0.4"/>
<line x1="278" y1="290.93" x2="278.7" y2="290.93" stroke="#888" stroke-width="0.4"/>
<line x1="278" y1="287.77" x2="278.7" y2="287.77" stroke="#888" stroke-width="0.4"/>
<line x1="277.4" y1="284.6" x2="278.7" y2="284.6" stroke="#444" stroke-width="0.7"/>
<text x="276.5" y="285.5" font-size="2.6" text-anchor="end" fill="#555">1.5K</text>
<text x="264.7" y="301.35" font-size="3" text-anchor="middle" fill="#666" transform="rotate(-90 264.7 301.35)">Count</text>
<line x1="278.7" y1="332.1" x2="348.8" y2="332.1" stroke="#222" stroke-width="0.8"/>
<line x1="284.66" y1="332.1" x2="284.66" y2="333.7" stroke="#111" stroke-width="0.8"/>
<text x="284.66" y="338.1" font-size="2.9" text-anchor="middle" fill="#555">-10<tspan font-size="1.8" dy="-1">3</tspan></text>
<line x1="294.82" y1="332.1" x2="294.82" y2="333.7" stroke="#111" stroke-width="0.8"/>
<text x="294.82" y="338.1" font-size="2.9" text-anchor="middle" fill="#555">0</text>
<line x1="307.44" y1="332.1" x2="307.44" y2="333.7" stroke="#111" stroke-width="0.8"/>
<text x="307.44" y="338.1" font-size="2.9" text-anchor="middle" fill="#555">10<tspan font-size="1.8" dy="-1">3</tspan></text>
<line x1="327.07" y1="332.1" x2="327.07" y2="333.7" stroke="#111" stroke-width="0.8"/>
<text x="327.07" y="338.1" font-size="2.9" text-anchor="middle" fill="#555">10<tspan font-size="1.8" dy="-1">4</tspan></text>
<line x1="344.24" y1="332.1" x2="344.24" y2="333.7" stroke="#111" stroke-width="0.8"/>
<text x="344.24" y="338.1" font-size="2.9" text-anchor="middle" fill="#555">10<tspan font-size="1.8" dy="-1">5</tspan></text>
<line x1="287.11" y1="332.1" x2="287.11" y2="333.1" stroke="#333" stroke-width="0.5"/>
<line x1="289.92" y1="332.1" x2="289.92" y2="333.1" stroke="#333" stroke-width="0.5"/>
<line x1="292.72" y1="332.1" x2="292.72" y2="333.1" stroke="#333" stroke-width="0.5"/>
<line x1="298.33" y1="332.1" x2="298.33" y2="333.1" stroke="#333" stroke-width="0.5"/>
<line x1="301.13" y1="332.1" x2="301.13" y2="333.1" stroke="#333" stroke-width="0.5"/>
<line x1="303.94" y1="332.1" x2="303.94" y2="333.1" stroke="#333" stroke-width="0.5"/>
<line x1="315.15" y1="332.1" x2="315.15" y2="333.1" stroke="#333" stroke-width="0.5"/>
<line x1="318.66" y1="332.1" x2="318.66" y2="333.1" stroke="#333" stroke-width="0.5"/>
<line x1="322.16" y1="332.1" x2="322.16" y2="333.1" stroke="#333" stroke-width="0.5"/>
<line x1="334.08" y1="332.1" x2="334.08" y2="333.1" stroke="#333" stroke-width="0.5"/>
<line x1="337.58" y1="332.1" x2="337.58" y2="333.1" stroke="#333" stroke-width="0.5"/>
<line x1="341.09" y1="332.1" x2="341.09" y2="333.1" stroke="#333" stroke-width="0.5"/>
<rect x="292.72" y="332.3" width="2.2" height="1.6" fill="#111"/>
<text x="313.75" y="343.1" font-size="3.2" text-anchor="middle" fill="#555">Comp-PE-A</text>
<rect x="379.2" y="270" width="70.2" height="62.7" fill="#fff" stroke="#d4d4d4" stroke-width="0.6"/>
<clipPath id="bx8"><rect x="379.2" y="270" width="70.2" height="62.7"/></clipPath>
<clipPath id="rc8"><path d="M424.00,332.70 L424.0,332.5 L424.6,332.3 L425.5,332.0 L426.4,331.5 L426.9,331.1 L427.4,330.7 L428.0,330.2 L428.6,329.7 L429.1,329.0 L429.6,328.4 L429.9,327.7 L430.2,327.2 L430.5,326.6 L430.8,325.9 L431.0,325.2 L431.3,324.6 L431.5,323.8 L431.7,323.1 L431.9,322.4 L432.0,321.7 L432.1,321.2 L432.2,320.4 L432.3,319.7 L432.4,318.7 L432.5,318.1 L432.6,317.2 L432.7,316.5 L432.8,315.6 L432.9,315.1 L432.9,314.4 L433.0,313.6 L433.1,313.0 L433.1,312.1 L433.2,311.9 L433.3,311.1 L433.3,310.1 L433.4,309.2 L433.5,308.6 L433.5,308.0 L433.6,307.1 L433.7,306.8 L433.7,305.3 L433.8,304.9 L433.9,304.3 L433.9,303.2 L434.0,302.8 L434.1,302.2 L434.2,301.3 L434.2,301.3 L434.3,299.9 L434.4,299.2 L434.5,298.7 L434.5,297.7 L434.6,297.2 L434.7,296.1 L434.8,295.3 L434.8,295.3 L434.9,294.2 L435.0,293.3 L435.0,292.7 L435.1,292.1 L435.2,291.1 L435.3,291.0 L435.3,290.3 L435.4,289.8 L435.5,288.1 L435.6,287.6 L435.6,287.3 L435.7,286.8 L435.8,285.5 L435.9,285.5 L435.9,284.0 L436.0,284.0 L436.1,282.4 L436.2,281.5 L436.3,281.1 L436.5,279.8 L436.6,279.4 L436.7,278.7 L436.8,277.5 L436.9,277.2 L437.0,276.9 L437.1,276.7 L437.2,277.2 L437.4,278.1 L437.5,278.4 L437.6,279.7 L437.7,280.0 L437.9,281.2 L438.0,283.5 L438.1,283.2 L438.1,283.6 L438.2,285.0 L438.2,285.5 L438.3,286.3 L438.3,286.9 L438.4,286.8 L438.5,288.0 L438.5,288.8 L438.6,289.1 L438.7,290.3 L438.7,290.8 L438.8,291.5 L438.8,292.4 L438.9,293.3 L439.0,293.7 L439.0,295.1 L439.1,295.5 L439.2,296.3 L439.2,297.1 L439.3,298.0 L439.4,299.1 L439.4,299.7 L439.5,300.0 L439.6,300.4 L439.6,301.1 L439.7,302.6 L439.8,302.6 L439.9,303.6 L439.9,304.6 L440.0,304.9 L440.1,306.2 L440.1,307.1 L440.2,307.7 L440.3,308.5 L440.4,309.2 L440.4,309.8 L440.5,310.1 L440.6,310.8 L440.6,312.0 L440.7,312.7 L440.8,313.3 L440.9,313.9 L440.9,314.2 L441.0,314.7 L441.1,315.9 L441.2,316.5 L441.3,317.6 L441.4,318.3 L441.5,319.2 L441.6,319.9 L441.7,320.7 L441.8,321.3 L441.9,321.9 L442.0,322.5 L442.1,323.1 L442.3,323.7 L442.4,324.5 L442.5,324.9 L442.7,325.9 L442.9,326.6 L443.1,327.5 L443.4,328.1 L443.6,328.9 L443.9,329.4 L444.1,330.1 L444.3,330.6 L444.5,331.0 L445.1,331.9 L445.6,332.3 L446.0,332.5 L446.00,332.70 Z"/></clipPath>
<g clip-path="url(#bx8)">
<path d="M424.00,332.70 L424.0,332.5 L424.6,332.3 L425.5,332.0 L426.4,331.5 L426.9,331.1 L427.4,330.7 L428.0,330.2 L428.6,329.7 L429.1,329.0 L429.6,328.4 L429.9,327.7 L430.2,327.2 L430.5,326.6 L430.8,325.9 L431.0,325.2 L431.3,324.6 L431.5,323.8 L431.7,323.1 L431.9,322.4 L432.0,321.7 L432.1,321.2 L432.2,320.4 L432.3,319.7 L432.4,318.7 L432.5,318.1 L432.6,317.2 L432.7,316.5 L432.8,315.6 L432.9,315.1 L432.9,314.4 L433.0,313.6 L433.1,313.0 L433.1,312.1 L433.2,311.9 L433.3,311.1 L433.3,310.1 L433.4,309.2 L433.5,308.6 L433.5,308.0 L433.6,307.1 L433.7,306.8 L433.7,305.3 L433.8,304.9 L433.9,304.3 L433.9,303.2 L434.0,302.8 L434.1,302.2 L434.2,301.3 L434.2,301.3 L434.3,299.9 L434.4,299.2 L434.5,298.7 L434.5,297.7 L434.6,297.2 L434.7,296.1 L434.8,295.3 L434.8,295.3 L434.9,294.2 L435.0,293.3 L435.0,292.7 L435.1,292.1 L435.2,291.1 L435.3,291.0 L435.3,290.3 L435.4,289.8 L435.5,288.1 L435.6,287.6 L435.6,287.3 L435.7,286.8 L435.8,285.5 L435.9,285.5 L435.9,284.0 L436.0,284.0 L436.1,282.4 L436.2,281.5 L436.3,281.1 L436.5,279.8 L436.6,279.4 L436.7,278.7 L436.8,277.5 L436.9,277.2 L437.0,276.9 L437.1,276.7 L437.2,277.2 L437.4,278.1 L437.5,278.4 L437.6,279.7 L437.7,280.0 L437.9,281.2 L438.0,283.5 L438.1,283.2 L438.1,283.6 L438.2,285.0 L438.2,285.5 L438.3,286.3 L438.3,286.9 L438.4,286.8 L438.5,288.0 L438.5,288.8 L438.6,289.1 L438.7,290.3 L438.7,290.8 L438.8,291.5 L438.8,292.4 L438.9,293.3 L439.0,293.7 L439.0,295.1 L439.1,295.5 L439.2,296.3 L439.2,297.1 L439.3,298.0 L439.4,299.1 L439.4,299.7 L439.5,300.0 L439.6,300.4 L439.6,301.1 L439.7,302.6 L439.8,302.6 L439.9,303.6 L439.9,304.6 L440.0,304.9 L440.1,306.2 L440.1,307.1 L440.2,307.7 L440.3,308.5 L440.4,309.2 L440.4,309.8 L440.5,310.1 L440.6,310.8 L440.6,312.0 L440.7,312.7 L440.8,313.3 L440.9,313.9 L440.9,314.2 L441.0,314.7 L441.1,315.9 L441.2,316.5 L441.3,317.6 L441.4,318.3 L441.5,319.2 L441.6,319.9 L441.7,320.7 L441.8,321.3 L441.9,321.9 L442.0,322.5 L442.1,323.1 L442.3,323.7 L442.4,324.5 L442.5,324.9 L442.7,325.9 L442.9,326.6 L443.1,327.5 L443.4,328.1 L443.6,328.9 L443.9,329.4 L444.1,330.1 L444.3,330.6 L444.5,331.0 L445.1,331.9 L445.6,332.3 L446.0,332.5 L446.00,332.70 Z" fill="#f69494"/>
<path d="M420.00,332.70 L420.0,332.5 L420.5,332.5 L421.1,332.5 L421.9,332.5 L422.7,332.5 L423.5,332.4 L424.3,332.3 L425.0,332.1 L425.8,331.8 L426.5,331.5 L427.3,331.2 L428.0,330.8 L428.6,330.4 L429.2,330.0 L429.8,329.5 L430.3,328.9 L430.8,328.4 L431.3,327.9 L431.7,327.3 L432.1,326.7 L432.5,325.9 L432.8,325.4 L433.2,324.8 L433.5,323.8 L433.8,322.9 L434.0,322.5 L434.2,321.8 L434.3,321.3 L434.5,320.3 L434.7,319.5 L434.8,319.0 L435.0,318.3 L435.1,317.4 L435.3,316.3 L435.4,315.5 L435.5,314.8 L435.6,314.3 L435.7,313.9 L435.7,313.0 L435.8,312.3 L435.9,311.4 L436.0,310.9 L436.0,310.5 L436.1,309.3 L436.2,308.5 L436.2,308.1 L436.3,307.5 L436.4,306.1 L436.4,305.8 L436.5,305.1 L436.6,304.4 L436.6,303.6 L436.7,303.0 L436.8,302.5 L436.8,301.2 L436.9,300.4 L437.0,299.7 L437.0,299.4 L437.1,298.4 L437.2,297.9 L437.2,297.2 L437.3,296.4 L437.4,295.9 L437.4,295.1 L437.5,294.4 L437.6,294.0 L437.6,292.8 L437.7,291.7 L437.8,291.9 L437.8,290.6 L437.9,289.9 L438.0,288.8 L438.1,288.6 L438.1,288.2 L438.2,286.6 L438.3,286.5 L438.4,285.2 L438.4,285.0 L438.5,284.1 L438.6,284.2 L438.7,283.4 L438.9,282.0 L439.1,280.8 L439.2,280.2 L439.4,279.5 L439.5,277.9 L439.7,277.8 L439.9,277.7 L440.0,277.8 L440.1,277.1 L440.3,278.2 L440.4,278.1 L440.6,279.2 L440.7,280.3 L440.8,281.3 L440.9,281.7 L441.1,283.2 L441.2,283.8 L441.3,284.2 L441.4,285.6 L441.4,285.2 L441.5,286.9 L441.6,286.6 L441.6,288.2 L441.7,288.3 L441.8,289.1 L441.9,289.5 L441.9,290.8 L442.0,291.8 L442.1,292.6 L442.2,292.7 L442.2,293.4 L442.3,293.9 L442.4,294.7 L442.4,295.9 L442.5,296.2 L442.6,296.8 L442.7,297.5 L442.7,298.2 L442.8,299.0 L442.9,300.2 L443.0,300.9 L443.0,301.5 L443.1,302.0 L443.2,303.1 L443.3,303.3 L443.3,304.5 L443.4,305.1 L443.5,305.9 L443.5,306.5 L443.6,306.9 L443.7,308.0 L443.7,308.6 L443.8,309.0 L443.9,310.1 L443.9,310.6 L444.0,311.3 L444.1,312.2 L444.1,313.2 L444.2,313.4 L444.3,314.2 L444.3,315.1 L444.4,315.6 L444.5,316.6 L444.6,317.3 L444.7,318.0 L444.7,318.7 L444.8,319.4 L444.9,320.2 L445.0,321.0 L445.1,321.3 L445.2,322.3 L445.3,322.7 L445.4,323.3 L445.5,324.0 L445.7,324.9 L445.9,325.8 L446.1,326.5 L446.4,327.4 L446.6,328.0 L446.9,328.6 L447.1,329.3 L447.5,330.1 L447.9,330.9 L448.4,331.6 L448.7,332.1 L449.0,332.5 L449.00,332.70 Z" fill="#80e0f0"/>
<path d="M420.00,332.70 L420.0,332.5 L420.5,332.5 L421.1,332.5 L421.9,332.5 L422.7,332.5 L423.5,332.4 L424.3,332.3 L425.0,332.1 L425.8,331.8 L426.5,331.5 L427.3,331.2 L428.0,330.8 L428.6,330.4 L429.2,330.0 L429.8,329.5 L430.3,328.9 L430.8,328.4 L431.3,327.9 L431.7,327.3 L432.1,326.7 L432.5,325.9 L432.8,325.4 L433.2,324.8 L433.5,323.8 L433.8,322.9 L434.0,322.5 L434.2,321.8 L434.3,321.3 L434.5,320.3 L434.7,319.5 L434.8,319.0 L435.0,318.3 L435.1,317.4 L435.3,316.3 L435.4,315.5 L435.5,314.8 L435.6,314.3 L435.7,313.9 L435.7,313.0 L435.8,312.3 L435.9,311.4 L436.0,310.9 L436.0,310.5 L436.1,309.3 L436.2,308.5 L436.2,308.1 L436.3,307.5 L436.4,306.1 L436.4,305.8 L436.5,305.1 L436.6,304.4 L436.6,303.6 L436.7,303.0 L436.8,302.5 L436.8,301.2 L436.9,300.4 L437.0,299.7 L437.0,299.4 L437.1,298.4 L437.2,297.9 L437.2,297.2 L437.3,296.4 L437.4,295.9 L437.4,295.1 L437.5,294.4 L437.6,294.0 L437.6,292.8 L437.7,291.7 L437.8,291.9 L437.8,290.6 L437.9,289.9 L438.0,288.8 L438.1,288.6 L438.1,288.2 L438.2,286.6 L438.3,286.5 L438.4,285.2 L438.4,285.0 L438.5,284.1 L438.6,284.2 L438.7,283.4 L438.9,282.0 L439.1,280.8 L439.2,280.2 L439.4,279.5 L439.5,277.9 L439.7,277.8 L439.9,277.7 L440.0,277.8 L440.1,277.1 L440.3,278.2 L440.4,278.1 L440.6,279.2 L440.7,280.3 L440.8,281.3 L440.9,281.7 L441.1,283.2 L441.2,283.8 L441.3,284.2 L441.4,285.6 L441.4,285.2 L441.5,286.9 L441.6,286.6 L441.6,288.2 L441.7,288.3 L441.8,289.1 L441.9,289.5 L441.9,290.8 L442.0,291.8 L442.1,292.6 L442.2,292.7 L442.2,293.4 L442.3,293.9 L442.4,294.7 L442.4,295.9 L442.5,296.2 L442.6,296.8 L442.7,297.5 L442.7,298.2 L442.8,299.0 L442.9,300.2 L443.0,300.9 L443.0,301.5 L443.1,302.0 L443.2,303.1 L443.3,303.3 L443.3,304.5 L443.4,305.1 L443.5,305.9 L443.5,306.5 L443.6,306.9 L443.7,308.0 L443.7,308.6 L443.8,309.0 L443.9,310.1 L443.9,310.6 L444.0,311.3 L444.1,312.2 L444.1,313.2 L444.2,313.4 L444.3,314.2 L444.3,315.1 L444.4,315.6 L444.5,316.6 L444.6,317.3 L444.7,318.0 L444.7,318.7 L444.8,319.4 L444.9,320.2 L445.0,321.0 L445.1,321.3 L445.2,322.3 L445.3,322.7 L445.4,323.3 L445.5,324.0 L445.7,324.9 L445.9,325.8 L446.1,326.5 L446.4,327.4 L446.6,328.0 L446.9,328.6 L447.1,329.3 L447.5,330.1 L447.9,330.9 L448.4,331.6 L448.7,332.1 L449.0,332.5 L449.00,332.70 Z" fill="#8fb0c6" clip-path="url(#rc8)"/>
<path d="M424.00,332.70 L424.0,332.5 L424.6,332.3 L425.5,332.0 L426.4,331.5 L426.9,331.1 L427.4,330.7 L428.0,330.2 L428.6,329.7 L429.1,329.0 L429.6,328.4 L429.9,327.7 L430.2,327.2 L430.5,326.6 L430.8,325.9 L431.0,325.2 L431.3,324.6 L431.5,323.8 L431.7,323.1 L431.9,322.4 L432.0,321.7 L432.1,321.2 L432.2,320.4 L432.3,319.7 L432.4,318.7 L432.5,318.1 L432.6,317.2 L432.7,316.5 L432.8,315.6 L432.9,315.1 L432.9,314.4 L433.0,313.6 L433.1,313.0 L433.1,312.1 L433.2,311.9 L433.3,311.1 L433.3,310.1 L433.4,309.2 L433.5,308.6 L433.5,308.0 L433.6,307.1 L433.7,306.8 L433.7,305.3 L433.8,304.9 L433.9,304.3 L433.9,303.2 L434.0,302.8 L434.1,302.2 L434.2,301.3 L434.2,301.3 L434.3,299.9 L434.4,299.2 L434.5,298.7 L434.5,297.7 L434.6,297.2 L434.7,296.1 L434.8,295.3 L434.8,295.3 L434.9,294.2 L435.0,293.3 L435.0,292.7 L435.1,292.1 L435.2,291.1 L435.3,291.0 L435.3,290.3 L435.4,289.8 L435.5,288.1 L435.6,287.6 L435.6,287.3 L435.7,286.8 L435.8,285.5 L435.9,285.5 L435.9,284.0 L436.0,284.0 L436.1,282.4 L436.2,281.5 L436.3,281.1 L436.5,279.8 L436.6,279.4 L436.7,278.7 L436.8,277.5 L436.9,277.2 L437.0,276.9 L437.1,276.7 L437.2,277.2 L437.4,278.1 L437.5,278.4 L437.6,279.7 L437.7,280.0 L437.9,281.2 L438.0,283.5 L438.1,283.2 L438.1,283.6 L438.2,285.0 L438.2,285.5 L438.3,286.3 L438.3,286.9 L438.4,286.8 L438.5,288.0 L438.5,288.8 L438.6,289.1 L438.7,290.3 L438.7,290.8 L438.8,291.5 L438.8,292.4 L438.9,293.3 L439.0,293.7 L439.0,295.1 L439.1,295.5 L439.2,296.3 L439.2,297.1 L439.3,298.0 L439.4,299.1 L439.4,299.7 L439.5,300.0 L439.6,300.4 L439.6,301.1 L439.7,302.6 L439.8,302.6 L439.9,303.6 L439.9,304.6 L440.0,304.9 L440.1,306.2 L440.1,307.1 L440.2,307.7 L440.3,308.5 L440.4,309.2 L440.4,309.8 L440.5,310.1 L440.6,310.8 L440.6,312.0 L440.7,312.7 L440.8,313.3 L440.9,313.9 L440.9,314.2 L441.0,314.7 L441.1,315.9 L441.2,316.5 L441.3,317.6 L441.4,318.3 L441.5,319.2 L441.6,319.9 L441.7,320.7 L441.8,321.3 L441.9,321.9 L442.0,322.5 L442.1,323.1 L442.3,323.7 L442.4,324.5 L442.5,324.9 L442.7,325.9 L442.9,326.6 L443.1,327.5 L443.4,328.1 L443.6,328.9 L443.9,329.4 L444.1,330.1 L444.3,330.6 L444.5,331.0 L445.1,331.9 L445.6,332.3 L446.0,332.5 L446.00,332.70 Z" fill="none" stroke="#d86a72" stroke-width="0.55"/>
<path d="M420.00,332.70 L420.0,332.5 L420.5,332.5 L421.1,332.5 L421.9,332.5 L422.7,332.5 L423.5,332.4 L424.3,332.3 L425.0,332.1 L425.8,331.8 L426.5,331.5 L427.3,331.2 L428.0,330.8 L428.6,330.4 L429.2,330.0 L429.8,329.5 L430.3,328.9 L430.8,328.4 L431.3,327.9 L431.7,327.3 L432.1,326.7 L432.5,325.9 L432.8,325.4 L433.2,324.8 L433.5,323.8 L433.8,322.9 L434.0,322.5 L434.2,321.8 L434.3,321.3 L434.5,320.3 L434.7,319.5 L434.8,319.0 L435.0,318.3 L435.1,317.4 L435.3,316.3 L435.4,315.5 L435.5,314.8 L435.6,314.3 L435.7,313.9 L435.7,313.0 L435.8,312.3 L435.9,311.4 L436.0,310.9 L436.0,310.5 L436.1,309.3 L436.2,308.5 L436.2,308.1 L436.3,307.5 L436.4,306.1 L436.4,305.8 L436.5,305.1 L436.6,304.4 L436.6,303.6 L436.7,303.0 L436.8,302.5 L436.8,301.2 L436.9,300.4 L437.0,299.7 L437.0,299.4 L437.1,298.4 L437.2,297.9 L437.2,297.2 L437.3,296.4 L437.4,295.9 L437.4,295.1 L437.5,294.4 L437.6,294.0 L437.6,292.8 L437.7,291.7 L437.8,291.9 L437.8,290.6 L437.9,289.9 L438.0,288.8 L438.1,288.6 L438.1,288.2 L438.2,286.6 L438.3,286.5 L438.4,285.2 L438.4,285.0 L438.5,284.1 L438.6,284.2 L438.7,283.4 L438.9,282.0 L439.1,280.8 L439.2,280.2 L439.4,279.5 L439.5,277.9 L439.7,277.8 L439.9,277.7 L440.0,277.8 L440.1,277.1 L440.3,278.2 L440.4,278.1 L440.6,279.2 L440.7,280.3 L440.8,281.3 L440.9,281.7 L441.1,283.2 L441.2,283.8 L441.3,284.2 L441.4,285.6 L441.4,285.2 L441.5,286.9 L441.6,286.6 L441.6,288.2 L441.7,288.3 L441.8,289.1 L441.9,289.5 L441.9,290.8 L442.0,291.8 L442.1,292.6 L442.2,292.7 L442.2,293.4 L442.3,293.9 L442.4,294.7 L442.4,295.9 L442.5,296.2 L442.6,296.8 L442.7,297.5 L442.7,298.2 L442.8,299.0 L442.9,300.2 L443.0,300.9 L443.0,301.5 L443.1,302.0 L443.2,303.1 L443.3,303.3 L443.3,304.5 L443.4,305.1 L443.5,305.9 L443.5,306.5 L443.6,306.9 L443.7,308.0 L443.7,308.6 L443.8,309.0 L443.9,310.1 L443.9,310.6 L444.0,311.3 L444.1,312.2 L444.1,313.2 L444.2,313.4 L444.3,314.2 L444.3,315.1 L444.4,315.6 L444.5,316.6 L444.6,317.3 L444.7,318.0 L444.7,318.7 L444.8,319.4 L444.9,320.2 L445.0,321.0 L445.1,321.3 L445.2,322.3 L445.3,322.7 L445.4,323.3 L445.5,324.0 L445.7,324.9 L445.9,325.8 L446.1,326.5 L446.4,327.4 L446.6,328.0 L446.9,328.6 L447.1,329.3 L447.5,330.1 L447.9,330.9 L448.4,331.6 L448.7,332.1 L449.0,332.5 L449.00,332.70 Z" fill="none" stroke="#36aec4" stroke-width="0.55"/>
</g>
<line x1="379.2" y1="272" x2="379.2" y2="332.7" stroke="#777" stroke-width="0.6"/>
<line x1="377.9" y1="332.7" x2="379.2" y2="332.7" stroke="#444" stroke-width="0.7"/>
<text x="377" y="333.6" font-size="2.6" text-anchor="end" fill="#555">0</text>
<line x1="378.5" y1="329.2" x2="379.2" y2="329.2" stroke="#888" stroke-width="0.4"/>
<line x1="378.5" y1="325.7" x2="379.2" y2="325.7" stroke="#888" stroke-width="0.4"/>
<line x1="378.5" y1="322.2" x2="379.2" y2="322.2" stroke="#888" stroke-width="0.4"/>
<line x1="378.5" y1="318.7" x2="379.2" y2="318.7" stroke="#888" stroke-width="0.4"/>
<line x1="377.9" y1="315.2" x2="379.2" y2="315.2" stroke="#444" stroke-width="0.7"/>
<text x="377" y="316.1" font-size="2.6" text-anchor="end" fill="#555">1.0K</text>
<line x1="378.5" y1="311.7" x2="379.2" y2="311.7" stroke="#888" stroke-width="0.4"/>
<line x1="378.5" y1="308.2" x2="379.2" y2="308.2" stroke="#888" stroke-width="0.4"/>
<line x1="378.5" y1="304.7" x2="379.2" y2="304.7" stroke="#888" stroke-width="0.4"/>
<line x1="378.5" y1="301.2" x2="379.2" y2="301.2" stroke="#888" stroke-width="0.4"/>
<line x1="377.9" y1="297.7" x2="379.2" y2="297.7" stroke="#444" stroke-width="0.7"/>
<text x="377" y="298.6" font-size="2.6" text-anchor="end" fill="#555">2.0K</text>
<line x1="378.5" y1="294.2" x2="379.2" y2="294.2" stroke="#888" stroke-width="0.4"/>
<line x1="378.5" y1="290.7" x2="379.2" y2="290.7" stroke="#888" stroke-width="0.4"/>
<line x1="378.5" y1="287.2" x2="379.2" y2="287.2" stroke="#888" stroke-width="0.4"/>
<line x1="378.5" y1="283.7" x2="379.2" y2="283.7" stroke="#888" stroke-width="0.4"/>
<line x1="377.9" y1="280.2" x2="379.2" y2="280.2" stroke="#444" stroke-width="0.7"/>
<text x="377" y="281.1" font-size="2.6" text-anchor="end" fill="#555">3.0K</text>
<text x="365.2" y="301.35" font-size="3" text-anchor="middle" fill="#666" transform="rotate(-90 365.2 301.35)">Count</text>
<line x1="379.2" y1="332.7" x2="449.4" y2="332.7" stroke="#222" stroke-width="0.8"/>
<line x1="385.17" y1="332.7" x2="385.17" y2="334.3" stroke="#111" stroke-width="0.8"/>
<text x="385.17" y="338.7" font-size="2.9" text-anchor="middle" fill="#555">-10<tspan font-size="1.8" dy="-1">3</tspan></text>
<line x1="395.35" y1="332.7" x2="395.35" y2="334.3" stroke="#111" stroke-width="0.8"/>
<text x="395.35" y="338.7" font-size="2.9" text-anchor="middle" fill="#555">0</text>
<line x1="407.98" y1="332.7" x2="407.98" y2="334.3" stroke="#111" stroke-width="0.8"/>
<text x="407.98" y="338.7" font-size="2.9" text-anchor="middle" fill="#555">10<tspan font-size="1.8" dy="-1">3</tspan></text>
<line x1="427.64" y1="332.7" x2="427.64" y2="334.3" stroke="#111" stroke-width="0.8"/>
<text x="427.64" y="338.7" font-size="2.9" text-anchor="middle" fill="#555">10<tspan font-size="1.8" dy="-1">4</tspan></text>
<line x1="444.84" y1="332.7" x2="444.84" y2="334.3" stroke="#111" stroke-width="0.8"/>
<text x="444.84" y="338.7" font-size="2.9" text-anchor="middle" fill="#555">10<tspan font-size="1.8" dy="-1">5</tspan></text>
<line x1="387.62" y1="332.7" x2="387.62" y2="333.7" stroke="#333" stroke-width="0.5"/>
<line x1="390.43" y1="332.7" x2="390.43" y2="333.7" stroke="#333" stroke-width="0.5"/>
<line x1="393.24" y1="332.7" x2="393.24" y2="333.7" stroke="#333" stroke-width="0.5"/>
<line x1="398.86" y1="332.7" x2="398.86" y2="333.7" stroke="#333" stroke-width="0.5"/>
<line x1="401.66" y1="332.7" x2="401.66" y2="333.7" stroke="#333" stroke-width="0.5"/>
<line x1="404.47" y1="332.7" x2="404.47" y2="333.7" stroke="#333" stroke-width="0.5"/>
<line x1="415.7" y1="332.7" x2="415.7" y2="333.7" stroke="#333" stroke-width="0.5"/>
<line x1="419.21" y1="332.7" x2="419.21" y2="333.7" stroke="#333" stroke-width="0.5"/>
<line x1="422.72" y1="332.7" x2="422.72" y2="333.7" stroke="#333" stroke-width="0.5"/>
<line x1="434.66" y1="332.7" x2="434.66" y2="333.7" stroke="#333" stroke-width="0.5"/>
<line x1="438.17" y1="332.7" x2="438.17" y2="333.7" stroke="#333" stroke-width="0.5"/>
<line x1="441.68" y1="332.7" x2="441.68" y2="333.7" stroke="#333" stroke-width="0.5"/>
<rect x="393.24" y="332.9" width="2.2" height="1.6" fill="#111"/>
<text x="414.3" y="343.7" font-size="3.2" text-anchor="middle" fill="#555">Comp-PE-A</text>
<line x1="41.3" y1="346.9" x2="442" y2="346.9" stroke="#444" stroke-width="1.4"/>
<polygon points="441.0,344.4 447.8,346.9 441.0,349.5" fill="#000"/>
<text x="11.6" y="349.7" font-size="10.4" fill="#1a1a1a" stroke="#1a1a1a" stroke-width="0.18">CD19</text>
<text x="0.4" y="369.3" font-size="14" font-weight="bold" fill="#000">B</text>
<line x1="35.3" y1="378.5" x2="35.3" y2="486.7" stroke="#000" stroke-width="1.7"/>
<line x1="32" y1="486" x2="35.3" y2="486" stroke="#000" stroke-width="1.3"/>
<text x="30.8" y="489.7" font-size="10.4" text-anchor="end" font-weight="bold" fill="#111" stroke="#111" stroke-width="0.22">0</text>
<line x1="32" y1="459.3" x2="35.3" y2="459.3" stroke="#000" stroke-width="1.3"/>
<text x="30.8" y="463" font-size="10.4" text-anchor="end" font-weight="bold" fill="#111" stroke="#111" stroke-width="0.22">2</text>
<line x1="32" y1="432.6" x2="35.3" y2="432.6" stroke="#000" stroke-width="1.3"/>
<text x="30.8" y="436.3" font-size="10.4" text-anchor="end" font-weight="bold" fill="#111" stroke="#111" stroke-width="0.22">4</text>
<line x1="32" y1="405.9" x2="35.3" y2="405.9" stroke="#000" stroke-width="1.3"/>
<text x="30.8" y="409.6" font-size="10.4" text-anchor="end" font-weight="bold" fill="#111" stroke="#111" stroke-width="0.22">6</text>
<line x1="32" y1="379.2" x2="35.3" y2="379.2" stroke="#000" stroke-width="1.3"/>
<text x="30.8" y="382.9" font-size="10.4" text-anchor="end" font-weight="bold" fill="#111" stroke="#111" stroke-width="0.22">8</text>
<line x1="34.5" y1="486" x2="195.4" y2="486" stroke="#000" stroke-width="1.7"/>
<line x1="45.5" y1="486" x2="45.5" y2="489.6" stroke="#000" stroke-width="1.2"/>
<line x1="61.4" y1="486" x2="61.4" y2="489.6" stroke="#000" stroke-width="1.2"/>
<line x1="86.8" y1="486" x2="86.8" y2="489.6" stroke="#000" stroke-width="1.2"/>
<line x1="102.7" y1="486" x2="102.7" y2="489.6" stroke="#000" stroke-width="1.2"/>
<line x1="128" y1="486" x2="128" y2="489.6" stroke="#000" stroke-width="1.2"/>
<line x1="144.2" y1="486" x2="144.2" y2="489.6" stroke="#000" stroke-width="1.2"/>
<line x1="168.8" y1="486" x2="168.8" y2="489.6" stroke="#000" stroke-width="1.2"/>
<line x1="185" y1="486" x2="185" y2="489.6" stroke="#000" stroke-width="1.2"/>
<line x1="36.7" y1="480.6" x2="196.2" y2="480.6" stroke="#3a3a3a" stroke-width="1.1" stroke-dasharray="3,4.5"/>
<text x="199.4" y="485" font-size="10" fill="#1a1a1a" stroke="#1a1a1a" stroke-width="0.18">DMSO control</text>
<text x="18.2" y="430.5" font-size="11" text-anchor="middle" font-weight="bold" fill="#111" stroke="#111" stroke-width="0.22" transform="rotate(-90 18.2 430.5)">MFI Fold change</text>
<text x="52.3" y="503" font-size="9.8" text-anchor="middle" fill="#1a1a1a" stroke="#1a1a1a" stroke-width="0.18">Nalm6</text>
<text x="98.6" y="503" font-size="9.8" text-anchor="middle" fill="#1a1a1a" stroke="#1a1a1a" stroke-width="0.18">KOPN8</text>
<text x="138" y="503" font-size="9.8" text-anchor="middle" fill="#1a1a1a" stroke="#1a1a1a" stroke-width="0.18">Pfeiffer</text>
<text x="177.8" y="503" font-size="9.8" text-anchor="middle" fill="#1a1a1a" stroke="#1a1a1a" stroke-width="0.18">Toledo</text>
<line x1="36.9" y1="508.8" x2="72.2" y2="508.8" stroke="#000" stroke-width="1.4"/>
<line x1="36.9" y1="504.4" x2="36.9" y2="513" stroke="#000" stroke-width="1.4"/>
<line x1="72.2" y1="504.4" x2="72.2" y2="513" stroke="#000" stroke-width="1.4"/>
<line x1="78" y1="508.8" x2="113.5" y2="508.8" stroke="#000" stroke-width="1.4"/>
<line x1="78" y1="504.4" x2="78" y2="513" stroke="#000" stroke-width="1.4"/>
<line x1="113.5" y1="504.4" x2="113.5" y2="513" stroke="#000" stroke-width="1.4"/>
<line x1="118.9" y1="508.8" x2="154.3" y2="508.8" stroke="#000" stroke-width="1.4"/>
<line x1="118.9" y1="504.4" x2="118.9" y2="513" stroke="#000" stroke-width="1.4"/>
<line x1="154.3" y1="504.4" x2="154.3" y2="513" stroke="#000" stroke-width="1.4"/>
<line x1="159.6" y1="508.8" x2="195.4" y2="508.8" stroke="#000" stroke-width="1.4"/>
<line x1="159.6" y1="504.4" x2="159.6" y2="513" stroke="#000" stroke-width="1.4"/>
<line x1="195.4" y1="504.4" x2="195.4" y2="513" stroke="#000" stroke-width="1.4"/>
<text x="1.6" y="521.6" font-size="10" fill="#1a1a1a" stroke="#1a1a1a" stroke-width="0.18">Day</text>
<text x="45.7" y="521.3" font-size="9.6" text-anchor="middle" fill="#1a1a1a" stroke="#1a1a1a" stroke-width="0.18">1</text>
<text x="65.1" y="521.3" font-size="9.6" text-anchor="middle" fill="#1a1a1a" stroke="#1a1a1a" stroke-width="0.18">7</text>
<text x="86.1" y="521.3" font-size="9.6" text-anchor="middle" fill="#1a1a1a" stroke="#1a1a1a" stroke-width="0.18">1</text>
<text x="106.8" y="521.3" font-size="9.6" text-anchor="middle" fill="#1a1a1a" stroke="#1a1a1a" stroke-width="0.18">7</text>
<text x="128" y="521.3" font-size="9.6" text-anchor="middle" fill="#1a1a1a" stroke="#1a1a1a" stroke-width="0.18">1</text>
<text x="148" y="521.3" font-size="9.6" text-anchor="middle" fill="#1a1a1a" stroke="#1a1a1a" stroke-width="0.18">7</text>
<text x="169.5" y="521.3" font-size="9.6" text-anchor="middle" fill="#1a1a1a" stroke="#1a1a1a" stroke-width="0.18">1</text>
<text x="189.6" y="521.3" font-size="9.6" text-anchor="middle" fill="#1a1a1a" stroke="#1a1a1a" stroke-width="0.18">7</text>
<line x1="37.4" y1="532.5" x2="115.4" y2="532.5" stroke="#000" stroke-width="1.5"/>
<line x1="120" y1="532.5" x2="197.2" y2="532.5" stroke="#000" stroke-width="1.5"/>
<text x="77.3" y="548.1" font-size="10.3" text-anchor="middle" font-weight="bold" fill="#000" stroke="#000" stroke-width="0.22">ALL</text>
<text x="160.6" y="547.6" font-size="10.3" text-anchor="middle" font-weight="bold" fill="#000" stroke="#000" stroke-width="0.22">DLBCL</text>
<circle cx="42.6" cy="475.6" r="2" fill="#2b7a3b" stroke="#0f3318" stroke-width="0.55"/>
<circle cx="48.4" cy="474.2" r="2" fill="#2b7a3b" stroke="#0f3318" stroke-width="0.55"/>
<line x1="42.6" y1="475.6" x2="48.4" y2="474.2" stroke="#111" stroke-width="1.3"/>
<circle cx="57.8" cy="440" r="2" fill="#2b7a3b" stroke="#0f3318" stroke-width="0.55"/>
<circle cx="64.6" cy="437.8" r="2" fill="#2b7a3b" stroke="#0f3318" stroke-width="0.55"/>
<line x1="57.8" y1="440" x2="64.6" y2="437.8" stroke="#111" stroke-width="1.3"/>
<circle cx="61.2" cy="438.9" r="2" fill="#2b7a3b" stroke="#0f3318" stroke-width="0.55"/>
<line x1="56.4" y1="439.2" x2="66" y2="438.3" stroke="#111" stroke-width="1.4"/>
<rect x="81.90" y="456.50" width="3.8" height="3.8" fill="#15158c" stroke="#08084a" stroke-width="0.45"/>
<rect x="88.10" y="455.50" width="3.8" height="3.8" fill="#15158c" stroke="#08084a" stroke-width="0.45"/>
<line x1="83.8" y1="458.4" x2="90" y2="457.4" stroke="#111" stroke-width="1.3"/>
<rect x="97.30" y="385.10" width="3.8" height="3.8" fill="#15158c" stroke="#08084a" stroke-width="0.45"/>
<rect x="103.70" y="385.10" width="3.8" height="3.8" fill="#15158c" stroke="#08084a" stroke-width="0.45"/>
<line x1="99.2" y1="387" x2="105.6" y2="387" stroke="#111" stroke-width="1.3"/>
<polygon points="122.91,466.28 127.09,466.28 125.00,462.52" fill="#6e1533" stroke="#3a0818" stroke-width="0.45"/>
<polygon points="129.31,466.28 133.49,466.28 131.40,462.52" fill="#6e1533" stroke="#3a0818" stroke-width="0.45"/>
<line x1="125" y1="464.4" x2="131.4" y2="464.4" stroke="#111" stroke-width="1.3"/>
<line x1="143.6" y1="436.3" x2="143.6" y2="445.1" stroke="#6e1533" stroke-width="1.2"/>
<line x1="141.6" y1="436.3" x2="145.6" y2="436.3" stroke="#6e1533" stroke-width="1.2"/>
<line x1="141.6" y1="445.1" x2="145.6" y2="445.1" stroke="#6e1533" stroke-width="1.2"/>
<line x1="138.5" y1="440.5" x2="148.8" y2="440.5" stroke="#222" stroke-width="1.3"/>
<polygon points="141.70,439.51 145.50,439.51 143.60,436.09" fill="#6e1533"/>
<polygon points="141.70,445.11 145.50,445.11 143.60,441.69" fill="#6e1533"/>
<polygon points="163.91,466.72 168.09,466.72 166.00,470.48" fill="#6a2479" stroke="#2a0a38" stroke-width="0.45"/>
<polygon points="170.71,464.92 174.89,464.92 172.80,468.68" fill="#6a2479" stroke="#2a0a38" stroke-width="0.45"/>
<line x1="166" y1="468.6" x2="172.8" y2="466.8" stroke="#111" stroke-width="1.3"/>
<polygon points="167.50,465.99 171.30,465.99 169.40,469.41" fill="#6a2479" stroke="#2a0a38" stroke-width="0.45"/>
<line x1="185.3" y1="415.4" x2="185.3" y2="435.4" stroke="#6a2479" stroke-width="1.2"/>
<line x1="183.1" y1="415.4" x2="187.5" y2="415.4" stroke="#6a2479" stroke-width="1.2"/>
<line x1="183.1" y1="435.4" x2="187.5" y2="435.4" stroke="#6a2479" stroke-width="1.2"/>
<line x1="179.8" y1="425.4" x2="190.4" y2="425.4" stroke="#222" stroke-width="1.3"/>
<polygon points="183.30,415.80 187.30,415.80 185.30,419.40" fill="#6a2479"/>
<polygon points="183.30,430.40 187.30,430.40 185.30,434.00" fill="#6a2479"/>
<circle cx="211.3" cy="388.2" r="2.1" fill="#1f5a2c"/>
<rect x="209.50" y="401.20" width="4.0" height="4.0" fill="#0c0c78"/>
<polygon points="209.60,420.31 213.40,420.31 211.50,416.89" fill="#5a1428"/>
<polygon points="209.60,430.59 213.40,430.59 211.50,434.01" fill="#3c1450"/>
<text x="223.8" y="391.9" font-size="10" fill="#1a1a1a" stroke="#1a1a1a" stroke-width="0.18">Nalm6</text>
<text x="223.8" y="406.7" font-size="10" fill="#1a1a1a" stroke="#1a1a1a" stroke-width="0.18">Kopn8</text>
<text x="223.8" y="421.5" font-size="10" fill="#1a1a1a" stroke="#1a1a1a" stroke-width="0.18">Pfeiffer</text>
<text x="223.8" y="436.3" font-size="10" fill="#1a1a1a" stroke="#1a1a1a" stroke-width="0.18">Toledo</text>
<text x="278" y="369.4" font-size="14" font-weight="bold" fill="#000">C</text>
<line x1="320.7" y1="391.8" x2="320.7" y2="499.3" stroke="#000" stroke-width="1.7"/>
<line x1="317.6" y1="498.6" x2="320.7" y2="498.6" stroke="#000" stroke-width="1.3"/>
<text x="316.4" y="502.2" font-size="10" text-anchor="end" font-weight="bold" fill="#111" stroke="#111" stroke-width="0.22">0.0</text>
<line x1="317.6" y1="472.08" x2="320.7" y2="472.08" stroke="#000" stroke-width="1.3"/>
<text x="316.4" y="475.68" font-size="10" text-anchor="end" font-weight="bold" fill="#111" stroke="#111" stroke-width="0.22">0.5</text>
<line x1="317.6" y1="445.55" x2="320.7" y2="445.55" stroke="#000" stroke-width="1.3"/>
<text x="316.4" y="449.15" font-size="10" text-anchor="end" font-weight="bold" fill="#111" stroke="#111" stroke-width="0.22">1.0</text>
<line x1="317.6" y1="419.02" x2="320.7" y2="419.02" stroke="#000" stroke-width="1.3"/>
<text x="316.4" y="422.62" font-size="10" text-anchor="end" font-weight="bold" fill="#111" stroke="#111" stroke-width="0.22">1.5</text>
<line x1="317.6" y1="392.5" x2="320.7" y2="392.5" stroke="#000" stroke-width="1.3"/>
<text x="316.4" y="396.1" font-size="10" text-anchor="end" font-weight="bold" fill="#111" stroke="#111" stroke-width="0.22">2.0</text>
<line x1="319.9" y1="498.6" x2="480.4" y2="498.6" stroke="#000" stroke-width="1.7"/>
<line x1="357.8" y1="498.6" x2="357.8" y2="501.2" stroke="#000" stroke-width="1.2"/>
<line x1="442.7" y1="498.6" x2="442.7" y2="501.2" stroke="#000" stroke-width="1.2"/>
<text x="357.7" y="512.4" font-size="10" text-anchor="middle" font-weight="bold" fill="#111" stroke="#111" stroke-width="0.22">Day 7</text>
<text x="442.8" y="512.9" font-size="10" text-anchor="middle" font-weight="bold" fill="#111" stroke="#111" stroke-width="0.22">Day 12</text>
<text x="400.6" y="537.3" font-size="11.6" text-anchor="middle" font-weight="bold" fill="#111" stroke="#111" stroke-width="0.22">Days post Bryostatin1 injection</text>
<text x="289.2" y="446.4" font-size="11" text-anchor="middle" font-weight="bold" fill="#111" stroke="#111" stroke-width="0.22" transform="rotate(-90 289.2 446.4)">MFI Fold change</text>
<line x1="333.5" y1="445.6" x2="350.4" y2="445.6" stroke="#111" stroke-width="1.5"/>
<circle cx="333.5" cy="445.6" r="2.15" fill="#a3141d"/>
<circle cx="342.1" cy="445.6" r="2.15" fill="#a3141d"/>
<circle cx="350.4" cy="445.6" r="2.15" fill="#a3141d"/>
<line x1="363.8" y1="414.4" x2="383.5" y2="414.4" stroke="#111" stroke-width="1.3"/>
<line x1="373.8" y1="412.4" x2="373.8" y2="416.6" stroke="#15158c" stroke-width="1.1"/>
<line x1="369" y1="412.4" x2="378.6" y2="412.4" stroke="#15158c" stroke-width="1.1"/>
<line x1="369" y1="416.6" x2="378.6" y2="416.6" stroke="#15158c" stroke-width="1.1"/>
<circle cx="365.2" cy="416.9" r="2.1" fill="#15158c"/>
<circle cx="373.8" cy="412.7" r="2.1" fill="#15158c"/>
<circle cx="382.5" cy="413.8" r="2.1" fill="#15158c"/>
<line x1="417.8" y1="445.6" x2="435.4" y2="445.6" stroke="#111" stroke-width="1.5"/>
<circle cx="417.8" cy="445.6" r="2.15" fill="#a3141d"/>
<circle cx="426.8" cy="445.6" r="2.15" fill="#a3141d"/>
<circle cx="435.4" cy="445.6" r="2.15" fill="#a3141d"/>
<line x1="458.5" y1="446.3" x2="458.5" y2="461.2" stroke="#15158c" stroke-width="1.2"/>
<line x1="453.6" y1="446.3" x2="463.7" y2="446.3" stroke="#15158c" stroke-width="1.2"/>
<line x1="453.6" y1="461.2" x2="463.7" y2="461.2" stroke="#15158c" stroke-width="1.2"/>
<line x1="448.1" y1="453.7" x2="469.2" y2="453.7" stroke="#111" stroke-width="1.4"/>
<circle cx="450.2" cy="458.1" r="2.1" fill="#15158c"/>
<circle cx="458.5" cy="445.4" r="2.1" fill="#15158c"/>
<circle cx="467.1" cy="458.1" r="2.1" fill="#15158c"/>
<circle cx="455.8" cy="386.2" r="1.9" fill="#a3141d"/>
<circle cx="455.8" cy="400.8" r="1.9" fill="#15158c"/>
<text x="468.8" y="390" font-size="10" fill="#1a1a1a" stroke="#1a1a1a" stroke-width="0.18">DMSO</text>
<text x="468.8" y="404.2" font-size="9.6" fill="#1a1a1a" stroke="#1a1a1a" stroke-width="0.18">Bryostatin1</text>
<text x="145" y="568.8" font-size="12" font-weight="bold" fill="#000" stroke="#000" stroke-width="0.22">D</text>
<line x1="189.8" y1="565.1" x2="189.8" y2="660.1" stroke="#000" stroke-width="1.4"/>
<line x1="186.8" y1="659.5" x2="189.8" y2="659.5" stroke="#000" stroke-width="1.2"/>
<text x="186" y="662.2" font-size="7.7" text-anchor="end" font-weight="bold" fill="#111" stroke="#111" stroke-width="0.22">0</text>
<line x1="186.8" y1="628.23" x2="189.8" y2="628.23" stroke="#000" stroke-width="1.2"/>
<text x="186" y="630.93" font-size="7.7" text-anchor="end" font-weight="bold" fill="#111" stroke="#111" stroke-width="0.22">5,000</text>
<line x1="186.8" y1="596.97" x2="189.8" y2="596.97" stroke="#000" stroke-width="1.2"/>
<text x="186" y="599.67" font-size="7.7" text-anchor="end" font-weight="bold" fill="#111" stroke="#111" stroke-width="0.22">10,000</text>
<line x1="186.8" y1="565.7" x2="189.8" y2="565.7" stroke="#000" stroke-width="1.2"/>
<text x="186" y="568.4" font-size="7.7" text-anchor="end" font-weight="bold" fill="#111" stroke="#111" stroke-width="0.22">15,000</text>
<line x1="189.2" y1="659.5" x2="332" y2="659.5" stroke="#000" stroke-width="1.4"/>
<line x1="231" y1="659.5" x2="231" y2="661.9" stroke="#000" stroke-width="1.1"/>
<line x1="291" y1="659.5" x2="291" y2="661.9" stroke="#000" stroke-width="1.1"/>
<rect x="210.8" y="620.0" width="40.0" height="39.5" fill="#a81423" stroke="#111" stroke-width="0.8"/>
<rect x="271.2" y="596.3" width="40.0" height="63.2" fill="#131388" stroke="#111" stroke-width="0.8"/>
<text x="231" y="671.4" font-size="9" text-anchor="middle" font-weight="bold" fill="#111" stroke="#111" stroke-width="0.22">DMSO</text>
<text x="289.5" y="671.4" font-size="9" text-anchor="middle" font-weight="bold" fill="#111" stroke="#111" stroke-width="0.22">Bryostatin1</text>
<text x="153.6" y="611.2" font-size="10.2" text-anchor="middle" font-weight="bold" fill="#111" stroke="#111" stroke-width="0.22" transform="rotate(-90 153.6 611.2)">MFI</text>
<rect x="338.8" y="580.2" width="9.8" height="5.4" fill="#a5111f" stroke="#222" stroke-width="0.5"/>
<rect x="338.8" y="593.1" width="9.8" height="5.6" fill="#12127c" stroke="#222" stroke-width="0.5"/>
<text x="354.4" y="585.6" font-size="8.8" fill="#1a1a1a" stroke="#1a1a1a" stroke-width="0.18">DMSO</text>
<text x="354.4" y="598.6" font-size="8.8" fill="#1a1a1a" stroke="#1a1a1a" stroke-width="0.18">Bryostatin1</text>
</svg>
</body></html>
